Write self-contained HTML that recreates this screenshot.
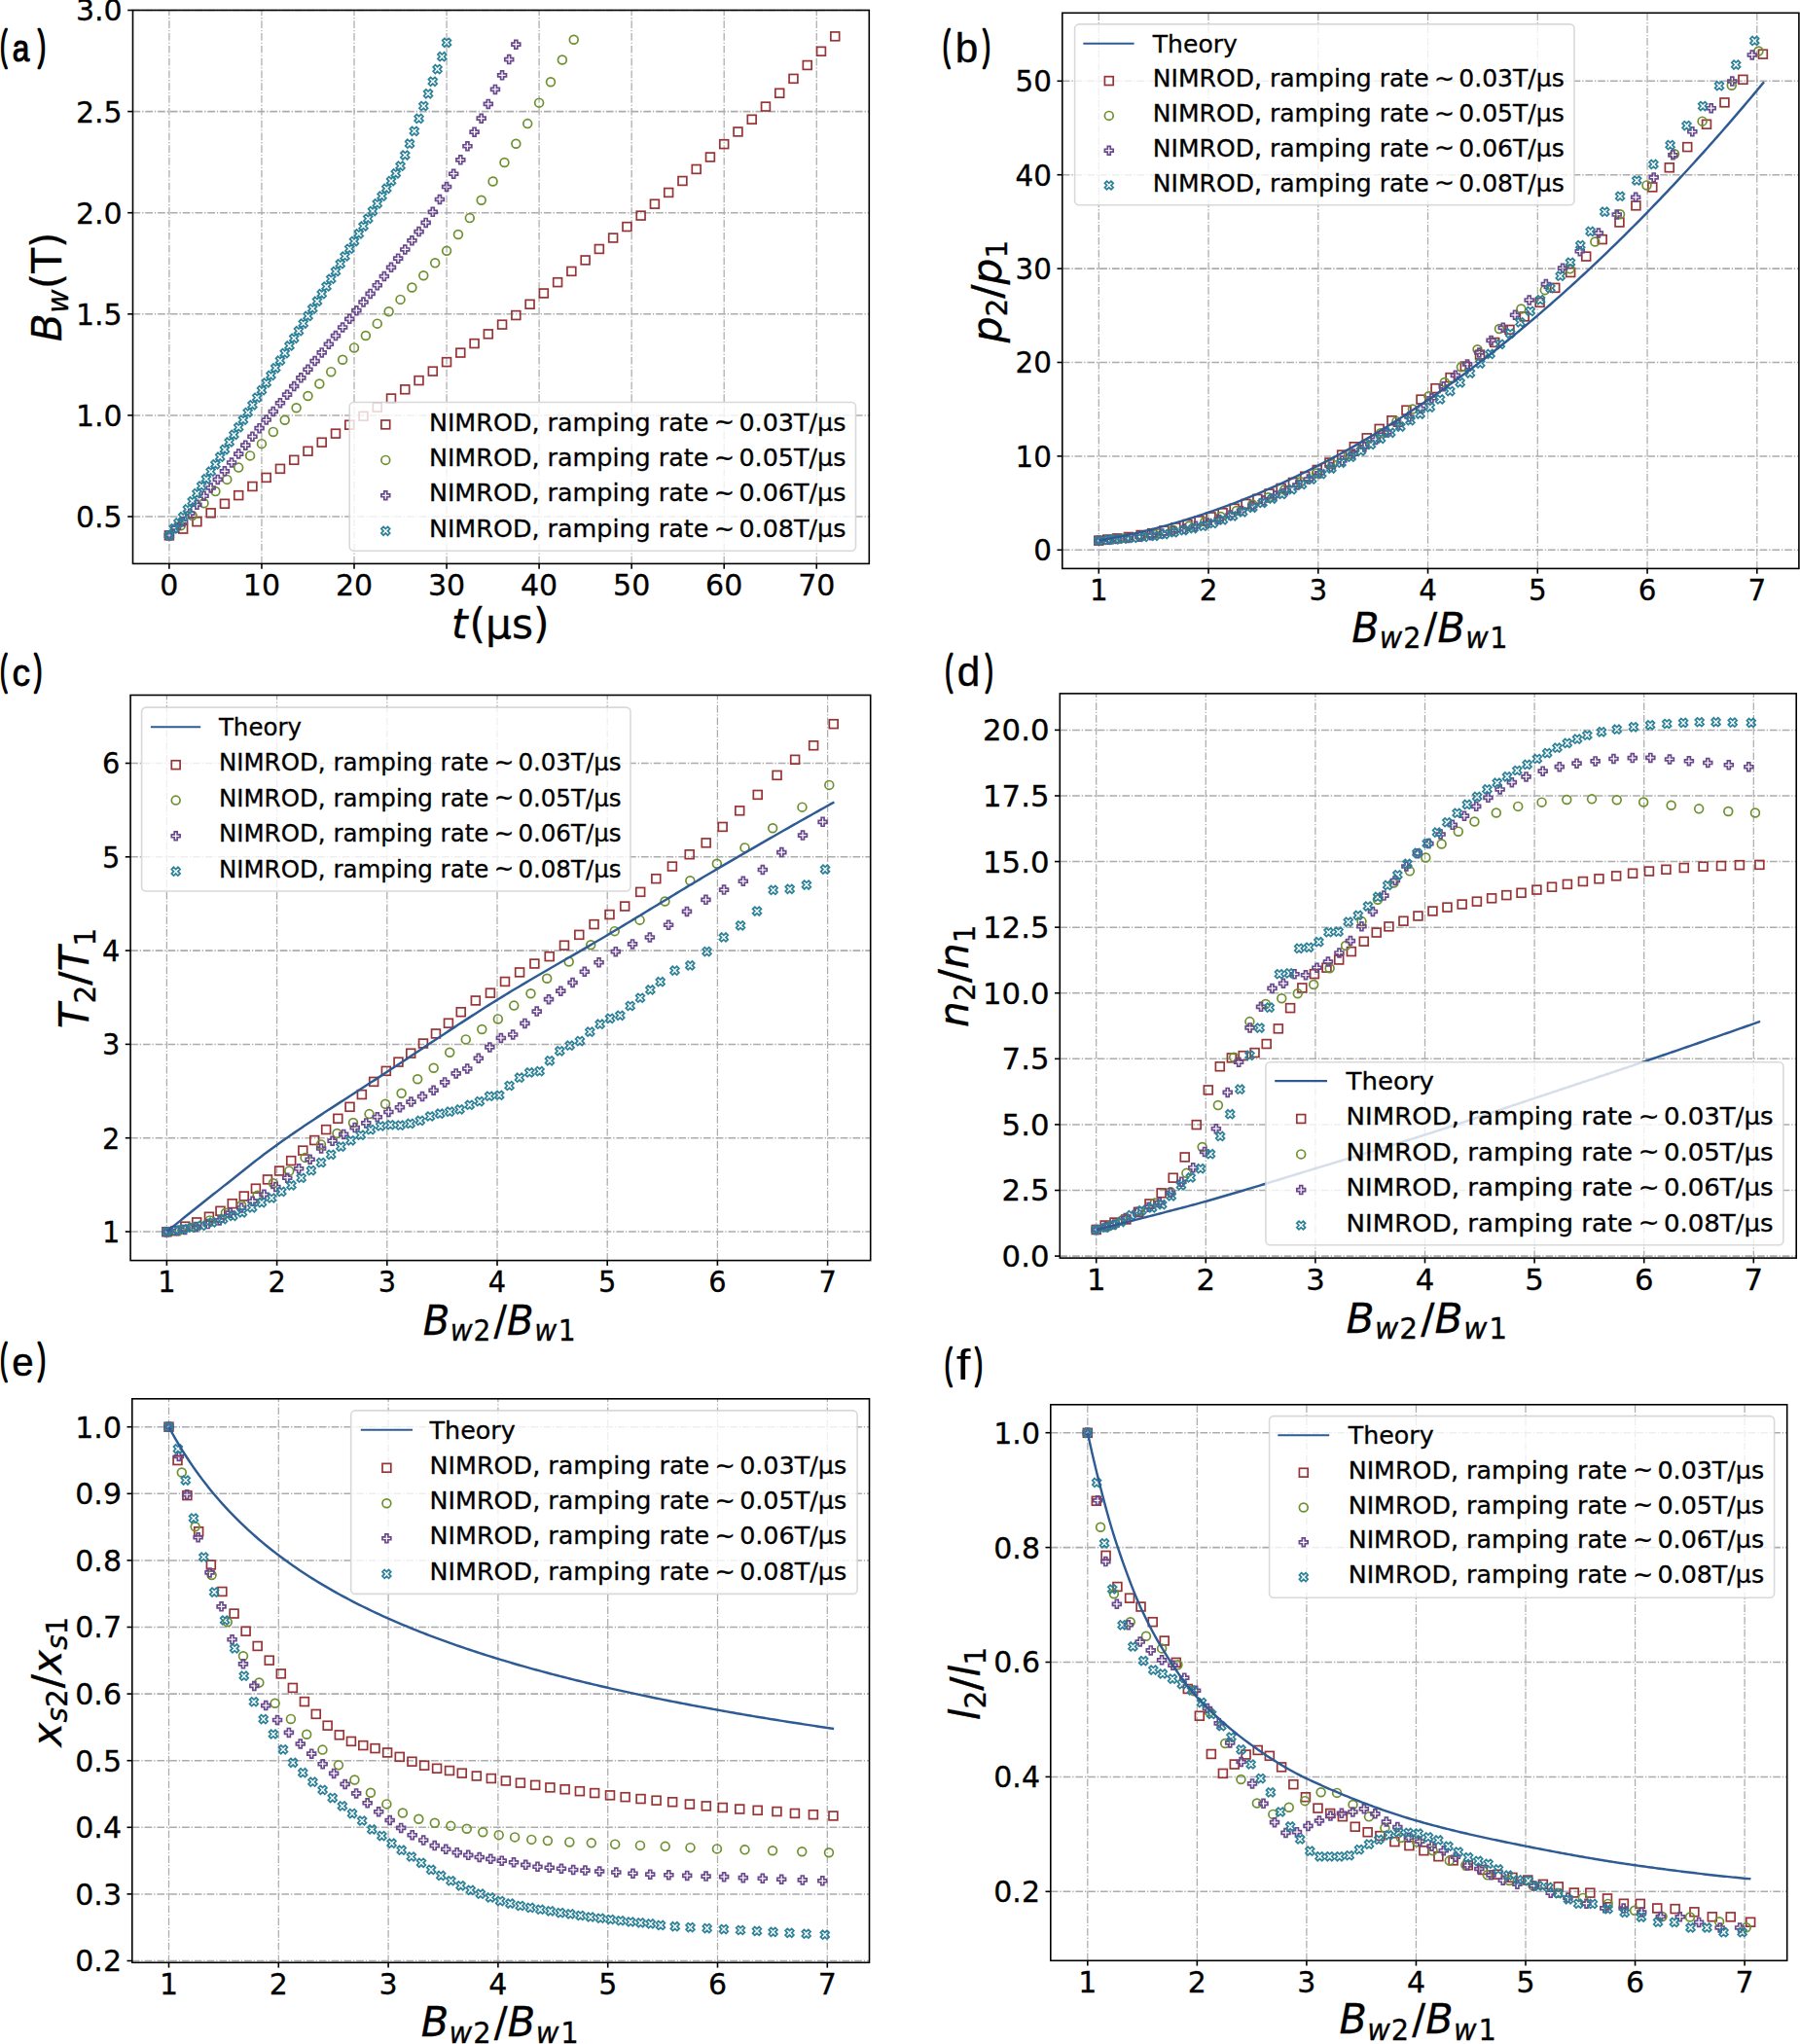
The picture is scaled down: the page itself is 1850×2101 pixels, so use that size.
<!DOCTYPE html><html><head><meta charset="utf-8"><title>Figure</title><style>html,body{margin:0;padding:0;background:#fff}svg{display:block}</style></head><body>
<svg width="1850" height="2101" viewBox="0 0 1850 2101">
<rect width="1850" height="2101" fill="#fff"/>
<clipPath id="cpa"><rect x="136.5" y="10.5" width="756.8" height="568.9"/></clipPath>
<g stroke="#acacac" stroke-dasharray="7.7 1.9 1.3 1.9" fill="none">
<g stroke-width="1.25">
<line x1="173.90" y1="579.4" x2="173.90" y2="10.5"/>
<line x1="268.95" y1="579.4" x2="268.95" y2="10.5"/>
<line x1="364.00" y1="579.4" x2="364.00" y2="10.5"/>
<line x1="459.05" y1="579.4" x2="459.05" y2="10.5"/>
<line x1="554.10" y1="579.4" x2="554.10" y2="10.5"/>
<line x1="649.15" y1="579.4" x2="649.15" y2="10.5"/>
<line x1="744.20" y1="579.4" x2="744.20" y2="10.5"/>
<line x1="839.25" y1="579.4" x2="839.25" y2="10.5"/>
</g>
<g stroke-width="1.55">
<line x1="136.5" y1="531.00" x2="893.3" y2="531.00"/>
<line x1="136.5" y1="426.90" x2="893.3" y2="426.90"/>
<line x1="136.5" y1="322.80" x2="893.3" y2="322.80"/>
<line x1="136.5" y1="218.70" x2="893.3" y2="218.70"/>
<line x1="136.5" y1="114.60" x2="893.3" y2="114.60"/>
<line x1="136.5" y1="10.50" x2="893.3" y2="10.50"/>
</g>
</g>
<g fill="none" stroke="#973435" stroke-width="1.7" stroke-linejoin="miter" clip-path="url(#cpa)">
<rect x="169.50" y="545.96" width="8.80" height="8.80"/>
<rect x="183.76" y="539.20" width="8.80" height="8.80"/>
<rect x="198.02" y="531.81" width="8.80" height="8.80"/>
<rect x="212.27" y="522.91" width="8.80" height="8.80"/>
<rect x="226.53" y="513.38" width="8.80" height="8.80"/>
<rect x="240.79" y="504.74" width="8.80" height="8.80"/>
<rect x="255.04" y="495.58" width="8.80" height="8.80"/>
<rect x="269.30" y="486.52" width="8.80" height="8.80"/>
<rect x="283.56" y="477.46" width="8.80" height="8.80"/>
<rect x="297.82" y="468.41" width="8.80" height="8.80"/>
<rect x="312.08" y="459.35" width="8.80" height="8.80"/>
<rect x="326.33" y="450.29" width="8.80" height="8.80"/>
<rect x="340.59" y="441.24" width="8.80" height="8.80"/>
<rect x="354.85" y="432.32" width="8.80" height="8.80"/>
<rect x="369.11" y="423.40" width="8.80" height="8.80"/>
<rect x="383.36" y="414.27" width="8.80" height="8.80"/>
<rect x="397.62" y="405.14" width="8.80" height="8.80"/>
<rect x="411.88" y="395.91" width="8.80" height="8.80"/>
<rect x="426.14" y="386.69" width="8.80" height="8.80"/>
<rect x="440.39" y="377.22" width="8.80" height="8.80"/>
<rect x="454.65" y="367.74" width="8.80" height="8.80"/>
<rect x="468.91" y="358.21" width="8.80" height="8.80"/>
<rect x="483.17" y="348.67" width="8.80" height="8.80"/>
<rect x="497.42" y="338.95" width="8.80" height="8.80"/>
<rect x="511.68" y="329.23" width="8.80" height="8.80"/>
<rect x="525.94" y="319.65" width="8.80" height="8.80"/>
<rect x="540.20" y="308.35" width="8.80" height="8.80"/>
<rect x="554.45" y="297.06" width="8.80" height="8.80"/>
<rect x="568.71" y="285.76" width="8.80" height="8.80"/>
<rect x="582.97" y="274.47" width="8.80" height="8.80"/>
<rect x="597.23" y="263.02" width="8.80" height="8.80"/>
<rect x="611.48" y="251.57" width="8.80" height="8.80"/>
<rect x="625.74" y="240.12" width="8.80" height="8.80"/>
<rect x="640.00" y="228.67" width="8.80" height="8.80"/>
<rect x="654.26" y="217.21" width="8.80" height="8.80"/>
<rect x="668.51" y="205.28" width="8.80" height="8.80"/>
<rect x="682.77" y="193.54" width="8.80" height="8.80"/>
<rect x="697.03" y="181.57" width="8.80" height="8.80"/>
<rect x="711.29" y="169.52" width="8.80" height="8.80"/>
<rect x="725.54" y="157.09" width="8.80" height="8.80"/>
<rect x="739.80" y="143.76" width="8.80" height="8.80"/>
<rect x="754.06" y="131.04" width="8.80" height="8.80"/>
<rect x="768.32" y="118.32" width="8.80" height="8.80"/>
<rect x="782.57" y="105.18" width="8.80" height="8.80"/>
<rect x="796.83" y="91.34" width="8.80" height="8.80"/>
<rect x="811.09" y="76.47" width="8.80" height="8.80"/>
<rect x="825.35" y="62.61" width="8.80" height="8.80"/>
<rect x="839.60" y="48.36" width="8.80" height="8.80"/>
<rect x="853.86" y="32.96" width="8.80" height="8.80"/>
</g>
<g fill="none" stroke="#6e9031" stroke-width="1.7" stroke-linejoin="miter" clip-path="url(#cpa)">
<circle cx="173.90" cy="550.36" r="4.40"/>
<circle cx="185.78" cy="540.37" r="4.40"/>
<circle cx="197.66" cy="529.96" r="4.40"/>
<circle cx="209.54" cy="517.26" r="4.40"/>
<circle cx="221.43" cy="505.08" r="4.40"/>
<circle cx="233.31" cy="492.90" r="4.40"/>
<circle cx="245.19" cy="480.62" r="4.40"/>
<circle cx="257.07" cy="468.38" r="4.40"/>
<circle cx="268.95" cy="456.15" r="4.40"/>
<circle cx="280.83" cy="443.92" r="4.40"/>
<circle cx="292.71" cy="431.69" r="4.40"/>
<circle cx="304.59" cy="419.31" r="4.40"/>
<circle cx="316.48" cy="406.93" r="4.40"/>
<circle cx="328.36" cy="394.55" r="4.40"/>
<circle cx="340.24" cy="382.17" r="4.40"/>
<circle cx="352.12" cy="369.80" r="4.40"/>
<circle cx="364.00" cy="357.42" r="4.40"/>
<circle cx="375.88" cy="345.04" r="4.40"/>
<circle cx="387.76" cy="332.66" r="4.40"/>
<circle cx="399.64" cy="320.28" r="4.40"/>
<circle cx="411.53" cy="307.90" r="4.40"/>
<circle cx="423.41" cy="295.53" r="4.40"/>
<circle cx="435.29" cy="283.24" r="4.40"/>
<circle cx="447.17" cy="270.33" r="4.40"/>
<circle cx="459.05" cy="257.84" r="4.40"/>
<circle cx="470.93" cy="240.98" r="4.40"/>
<circle cx="482.81" cy="224.11" r="4.40"/>
<circle cx="494.69" cy="205.79" r="4.40"/>
<circle cx="506.58" cy="186.43" r="4.40"/>
<circle cx="518.46" cy="167.07" r="4.40"/>
<circle cx="530.34" cy="147.70" r="4.40"/>
<circle cx="542.22" cy="127.09" r="4.40"/>
<circle cx="554.10" cy="105.65" r="4.40"/>
<circle cx="565.98" cy="84.20" r="4.40"/>
<circle cx="577.86" cy="61.51" r="4.40"/>
<circle cx="589.74" cy="40.69" r="4.40"/>
</g>
<g fill="none" stroke="#6a488d" stroke-width="1.7" stroke-linejoin="miter" clip-path="url(#cpa)">
<path d="M172.43 545.96L175.37 545.96L175.37 548.90L178.30 548.90L178.30 551.83L175.37 551.83L175.37 554.76L172.43 554.76L172.43 551.83L169.50 551.83L169.50 548.90L172.43 548.90Z"/>
<path d="M179.56 538.18L182.50 538.18L182.50 541.11L185.43 541.11L185.43 544.04L182.50 544.04L182.50 546.98L179.56 546.98L179.56 544.04L176.63 544.04L176.63 541.11L179.56 541.11Z"/>
<path d="M186.69 531.97L189.62 531.97L189.62 534.90L192.56 534.90L192.56 537.84L189.62 537.84L189.62 540.77L186.69 540.77L186.69 537.84L183.76 537.84L183.76 534.90L186.69 534.90Z"/>
<path d="M193.82 523.33L196.75 523.33L196.75 526.26L199.69 526.26L199.69 529.20L196.75 529.20L196.75 532.13L193.82 532.13L193.82 529.20L190.89 529.20L190.89 526.26L193.82 526.26Z"/>
<path d="M200.95 514.36L203.88 514.36L203.88 517.29L206.82 517.29L206.82 520.22L203.88 520.22L203.88 523.16L200.95 523.16L200.95 520.22L198.02 520.22L198.02 517.29L200.95 517.29Z"/>
<path d="M208.08 505.36L211.01 505.36L211.01 508.30L213.94 508.30L213.94 511.23L211.01 511.23L211.01 514.16L208.08 514.16L208.08 511.23L205.14 511.23L205.14 508.30L208.08 508.30Z"/>
<path d="M215.21 497.08L218.14 497.08L218.14 500.01L221.07 500.01L221.07 502.94L218.14 502.94L218.14 505.88L215.21 505.88L215.21 502.94L212.27 502.94L212.27 500.01L215.21 500.01Z"/>
<path d="M222.33 488.52L225.27 488.52L225.27 491.45L228.20 491.45L228.20 494.39L225.27 494.39L225.27 497.32L222.33 497.32L222.33 494.39L219.40 494.39L219.40 491.45L222.33 491.45Z"/>
<path d="M229.46 479.96L232.40 479.96L232.40 482.90L235.33 482.90L235.33 485.83L232.40 485.83L232.40 488.76L229.46 488.76L229.46 485.83L226.53 485.83L226.53 482.90L229.46 482.90Z"/>
<path d="M236.59 471.06L239.53 471.06L239.53 474.00L242.46 474.00L242.46 476.93L239.53 476.93L239.53 479.86L236.59 479.86L236.59 476.93L233.66 476.93L233.66 474.00L236.59 474.00Z"/>
<path d="M243.72 462.16L246.65 462.16L246.65 465.10L249.59 465.10L249.59 468.03L246.65 468.03L246.65 470.96L243.72 470.96L243.72 468.03L240.79 468.03L240.79 465.10L243.72 465.10Z"/>
<path d="M250.85 453.26L253.78 453.26L253.78 456.19L256.72 456.19L256.72 459.13L253.78 459.13L253.78 462.06L250.85 462.06L250.85 459.13L247.92 459.13L247.92 456.19L250.85 456.19Z"/>
<path d="M257.98 444.36L260.91 444.36L260.91 447.29L263.84 447.29L263.84 450.23L260.91 450.23L260.91 453.16L257.98 453.16L257.98 450.23L255.04 450.23L255.04 447.29L257.98 447.29Z"/>
<path d="M265.11 435.76L268.04 435.76L268.04 438.69L270.97 438.69L270.97 441.62L268.04 441.62L268.04 444.56L265.11 444.56L265.11 441.62L262.17 441.62L262.17 438.69L265.11 438.69Z"/>
<path d="M272.24 427.15L275.17 427.15L275.17 430.08L278.10 430.08L278.10 433.02L275.17 433.02L275.17 435.95L272.24 435.95L272.24 433.02L269.30 433.02L269.30 430.08L272.24 430.08Z"/>
<path d="M279.36 418.54L282.30 418.54L282.30 421.48L285.23 421.48L285.23 424.41L282.30 424.41L282.30 427.34L279.36 427.34L279.36 424.41L276.43 424.41L276.43 421.48L279.36 421.48Z"/>
<path d="M286.49 409.90L289.43 409.90L289.43 412.83L292.36 412.83L292.36 415.76L289.43 415.76L289.43 418.70L286.49 418.70L286.49 415.76L283.56 415.76L283.56 412.83L286.49 412.83Z"/>
<path d="M293.62 401.25L296.56 401.25L296.56 404.18L299.49 404.18L299.49 407.12L296.56 407.12L296.56 410.05L293.62 410.05L293.62 407.12L290.69 407.12L290.69 404.18L293.62 404.18Z"/>
<path d="M300.75 392.60L303.68 392.60L303.68 395.54L306.62 395.54L306.62 398.47L303.68 398.47L303.68 401.40L300.75 401.40L300.75 398.47L297.82 398.47L297.82 395.54L300.75 395.54Z"/>
<path d="M307.88 383.96L310.81 383.96L310.81 386.89L313.75 386.89L313.75 389.82L310.81 389.82L310.81 392.76L307.88 392.76L307.88 389.82L304.95 389.82L304.95 386.89L307.88 386.89Z"/>
<path d="M315.01 375.31L317.94 375.31L317.94 378.24L320.88 378.24L320.88 381.17L317.94 381.17L317.94 384.11L315.01 384.11L315.01 381.17L312.08 381.17L312.08 378.24L315.01 378.24Z"/>
<path d="M322.14 366.66L325.07 366.66L325.07 369.59L328.00 369.59L328.00 372.53L325.07 372.53L325.07 375.46L322.14 375.46L322.14 372.53L319.20 372.53L319.20 369.59L322.14 369.59Z"/>
<path d="M329.27 358.01L332.20 358.01L332.20 360.95L335.13 360.95L335.13 363.88L332.20 363.88L332.20 366.81L329.27 366.81L329.27 363.88L326.33 363.88L326.33 360.95L329.27 360.95Z"/>
<path d="M336.39 349.37L339.33 349.37L339.33 352.30L342.26 352.30L342.26 355.23L339.33 355.23L339.33 358.17L336.39 358.17L336.39 355.23L333.46 355.23L333.46 352.30L336.39 352.30Z"/>
<path d="M343.52 340.72L346.46 340.72L346.46 343.65L349.39 343.65L349.39 346.59L346.46 346.59L346.46 349.52L343.52 349.52L343.52 346.59L340.59 346.59L340.59 343.65L343.52 343.65Z"/>
<path d="M350.65 332.07L353.59 332.07L353.59 335.01L356.52 335.01L356.52 337.94L353.59 337.94L353.59 340.87L350.65 340.87L350.65 337.94L347.72 337.94L347.72 335.01L350.65 335.01Z"/>
<path d="M357.78 323.42L360.71 323.42L360.71 326.36L363.65 326.36L363.65 329.29L360.71 329.29L360.71 332.22L357.78 332.22L357.78 329.29L354.85 329.29L354.85 326.36L357.78 326.36Z"/>
<path d="M364.91 314.78L367.84 314.78L367.84 317.71L370.78 317.71L370.78 320.64L367.84 320.64L367.84 323.58L364.91 323.58L364.91 320.64L361.98 320.64L361.98 317.71L364.91 317.71Z"/>
<path d="M372.04 306.13L374.97 306.13L374.97 309.06L377.90 309.06L377.90 312.00L374.97 312.00L374.97 314.93L372.04 314.93L372.04 312.00L369.11 312.00L369.11 309.06L372.04 309.06Z"/>
<path d="M379.17 297.48L382.10 297.48L382.10 300.42L385.03 300.42L385.03 303.35L382.10 303.35L382.10 306.28L379.17 306.28L379.17 303.35L376.23 303.35L376.23 300.42L379.17 300.42Z"/>
<path d="M386.30 288.84L389.23 288.84L389.23 291.77L392.16 291.77L392.16 294.70L389.23 294.70L389.23 297.64L386.30 297.64L386.30 294.70L383.36 294.70L383.36 291.77L386.30 291.77Z"/>
<path d="M393.42 279.65L396.36 279.65L396.36 282.58L399.29 282.58L399.29 285.51L396.36 285.51L396.36 288.45L393.42 288.45L393.42 285.51L390.49 285.51L390.49 282.58L393.42 282.58Z"/>
<path d="M400.55 270.45L403.49 270.45L403.49 273.39L406.42 273.39L406.42 276.32L403.49 276.32L403.49 279.25L400.55 279.25L400.55 276.32L397.62 276.32L397.62 273.39L400.55 273.39Z"/>
<path d="M407.68 261.26L410.62 261.26L410.62 264.20L413.55 264.20L413.55 267.13L410.62 267.13L410.62 270.06L407.68 270.06L407.68 267.13L404.75 267.13L404.75 264.20L407.68 264.20Z"/>
<path d="M414.81 252.07L417.74 252.07L417.74 255.01L420.68 255.01L420.68 257.94L417.74 257.94L417.74 260.87L414.81 260.87L414.81 257.94L411.88 257.94L411.88 255.01L414.81 255.01Z"/>
<path d="M421.94 242.88L424.87 242.88L424.87 245.82L427.81 245.82L427.81 248.75L424.87 248.75L424.87 251.68L421.94 251.68L421.94 248.75L419.01 248.75L419.01 245.82L421.94 245.82Z"/>
<path d="M429.07 233.69L432.00 233.69L432.00 236.63L434.94 236.63L434.94 239.56L432.00 239.56L432.00 242.49L429.07 242.49L429.07 239.56L426.14 239.56L426.14 236.63L429.07 236.63Z"/>
<path d="M436.20 224.50L439.13 224.50L439.13 227.44L442.06 227.44L442.06 230.37L439.13 230.37L439.13 233.30L436.20 233.30L436.20 230.37L433.26 230.37L433.26 227.44L436.20 227.44Z"/>
<path d="M443.33 213.47L446.26 213.47L446.26 216.40L449.19 216.40L449.19 219.33L446.26 219.33L446.26 222.27L443.33 222.27L443.33 219.33L440.39 219.33L440.39 216.40L443.33 216.40Z"/>
<path d="M450.45 200.56L453.39 200.56L453.39 203.49L456.32 203.49L456.32 206.43L453.39 206.43L453.39 209.36L450.45 209.36L450.45 206.43L447.52 206.43L447.52 203.49L450.45 203.49Z"/>
<path d="M457.58 187.65L460.52 187.65L460.52 190.58L463.45 190.58L463.45 193.52L460.52 193.52L460.52 196.45L457.58 196.45L457.58 193.52L454.65 193.52L454.65 190.58L457.58 190.58Z"/>
<path d="M464.71 174.33L467.65 174.33L467.65 177.26L470.58 177.26L470.58 180.19L467.65 180.19L467.65 183.13L464.71 183.13L464.71 180.19L461.78 180.19L461.78 177.26L464.71 177.26Z"/>
<path d="M471.84 159.96L474.77 159.96L474.77 162.89L477.71 162.89L477.71 165.83L474.77 165.83L474.77 168.76L471.84 168.76L471.84 165.83L468.91 165.83L468.91 162.89L471.84 162.89Z"/>
<path d="M478.97 145.80L481.90 145.80L481.90 148.74L484.84 148.74L484.84 151.67L481.90 151.67L481.90 154.60L478.97 154.60L478.97 151.67L476.04 151.67L476.04 148.74L478.97 148.74Z"/>
<path d="M486.10 131.23L489.03 131.23L489.03 134.16L491.97 134.16L491.97 137.09L489.03 137.09L489.03 140.03L486.10 140.03L486.10 137.09L483.17 137.09L483.17 134.16L486.10 134.16Z"/>
<path d="M493.23 117.28L496.16 117.28L496.16 120.21L499.09 120.21L499.09 123.15L496.16 123.15L496.16 126.08L493.23 126.08L493.23 123.15L490.29 123.15L490.29 120.21L493.23 120.21Z"/>
<path d="M500.36 102.50L503.29 102.50L503.29 105.43L506.22 105.43L506.22 108.36L503.29 108.36L503.29 111.30L500.36 111.30L500.36 108.36L497.42 108.36L497.42 105.43L500.36 105.43Z"/>
<path d="M507.48 87.51L510.42 87.51L510.42 90.44L513.35 90.44L513.35 93.37L510.42 93.37L510.42 96.31L507.48 96.31L507.48 93.37L504.55 93.37L504.55 90.44L507.48 90.44Z"/>
<path d="M514.61 72.93L517.55 72.93L517.55 75.87L520.48 75.87L520.48 78.80L517.55 78.80L517.55 81.73L514.61 81.73L514.61 78.80L511.68 78.80L511.68 75.87L514.61 75.87Z"/>
<path d="M521.74 56.69L524.68 56.69L524.68 59.63L527.61 59.63L527.61 62.56L524.68 62.56L524.68 65.49L521.74 65.49L521.74 62.56L518.81 62.56L518.81 59.63L521.74 59.63Z"/>
<path d="M528.87 41.29L531.80 41.29L531.80 44.22L534.74 44.22L534.74 47.15L531.80 47.15L531.80 50.09L528.87 50.09L528.87 47.15L525.94 47.15L525.94 44.22L528.87 44.22Z"/>
</g>
<g fill="none" stroke="#2b8198" stroke-width="1.7" stroke-linejoin="miter" clip-path="url(#cpa)">
<path d="M171.70 545.96L173.90 548.16L176.10 545.96L178.30 548.16L176.10 550.36L178.30 552.56L176.10 554.76L173.90 552.56L171.70 554.76L169.50 552.56L171.70 550.36L169.50 548.16Z"/>
<path d="M176.45 538.93L178.65 541.13L180.85 538.93L183.05 541.13L180.85 543.33L183.05 545.53L180.85 547.73L178.65 545.53L176.45 547.73L174.25 545.53L176.45 543.33L174.25 541.13Z"/>
<path d="M181.21 532.99L183.41 535.19L185.60 532.99L187.81 535.19L185.60 537.39L187.81 539.59L185.60 541.79L183.41 539.59L181.21 541.79L179.00 539.59L181.21 537.39L179.00 535.19Z"/>
<path d="M185.96 526.81L188.16 529.01L190.36 526.81L192.56 529.01L190.36 531.21L192.56 533.41L190.36 535.61L188.16 533.41L185.96 535.61L183.76 533.41L185.96 531.21L183.76 529.01Z"/>
<path d="M190.71 519.02L192.91 521.22L195.11 519.02L197.31 521.22L195.11 523.42L197.31 525.62L195.11 527.82L192.91 525.62L190.71 527.82L188.51 525.62L190.71 523.42L188.51 521.22Z"/>
<path d="M195.46 510.88L197.66 513.08L199.86 510.88L202.06 513.08L199.86 515.28L202.06 517.48L199.86 519.68L197.66 517.48L195.46 519.68L193.26 517.48L195.46 515.28L193.26 513.08Z"/>
<path d="M200.22 502.74L202.42 504.94L204.62 502.74L206.82 504.94L204.62 507.14L206.82 509.34L204.62 511.54L202.42 509.34L200.22 511.54L198.02 509.34L200.22 507.14L198.02 504.94Z"/>
<path d="M204.97 495.12L207.17 497.32L209.37 495.12L211.57 497.32L209.37 499.52L211.57 501.72L209.37 503.92L207.17 501.72L204.97 503.92L202.77 501.72L204.97 499.52L202.77 497.32Z"/>
<path d="M209.72 487.92L211.92 490.12L214.12 487.92L216.32 490.12L214.12 492.32L216.32 494.52L214.12 496.72L211.92 494.52L209.72 496.72L207.52 494.52L209.72 492.32L207.52 490.12Z"/>
<path d="M214.47 480.30L216.67 482.50L218.87 480.30L221.07 482.50L218.87 484.70L221.07 486.90L218.87 489.10L216.67 486.90L214.47 489.10L212.27 486.90L214.47 484.70L212.27 482.50Z"/>
<path d="M219.23 472.93L221.43 475.13L223.62 472.93L225.83 475.13L223.62 477.33L225.83 479.53L223.62 481.73L221.43 479.53L219.23 481.73L217.03 479.53L219.23 477.33L217.03 475.13Z"/>
<path d="M223.98 465.31L226.18 467.51L228.38 465.31L230.58 467.51L228.38 469.71L230.58 471.91L228.38 474.11L226.18 471.91L223.98 474.11L221.78 471.91L223.98 469.71L221.78 467.51Z"/>
<path d="M228.73 457.69L230.93 459.89L233.13 457.69L235.33 459.89L233.13 462.09L235.33 464.29L233.13 466.49L230.93 464.29L228.73 466.49L226.53 464.29L228.73 462.09L226.53 459.89Z"/>
<path d="M233.48 450.07L235.68 452.27L237.88 450.07L240.08 452.27L237.88 454.47L240.08 456.67L237.88 458.87L235.68 456.67L233.48 458.87L231.28 456.67L233.48 454.47L231.28 452.27Z"/>
<path d="M238.24 442.45L240.44 444.65L242.63 442.45L244.84 444.65L242.63 446.85L244.84 449.05L242.63 451.25L240.44 449.05L238.24 451.25L236.03 449.05L238.24 446.85L236.03 444.65Z"/>
<path d="M242.99 434.83L245.19 437.03L247.39 434.83L249.59 437.03L247.39 439.23L249.59 441.43L247.39 443.63L245.19 441.43L242.99 443.63L240.79 441.43L242.99 439.23L240.79 437.03Z"/>
<path d="M247.74 427.21L249.94 429.41L252.14 427.21L254.34 429.41L252.14 431.61L254.34 433.81L252.14 436.01L249.94 433.81L247.74 436.01L245.54 433.81L247.74 431.61L245.54 429.41Z"/>
<path d="M252.49 419.59L254.69 421.79L256.89 419.59L259.09 421.79L256.89 423.99L259.09 426.19L256.89 428.39L254.69 426.19L252.49 428.39L250.29 426.19L252.49 423.99L250.29 421.79Z"/>
<path d="M257.25 411.97L259.44 414.17L261.64 411.97L263.84 414.17L261.64 416.37L263.84 418.57L261.64 420.77L259.44 418.57L257.25 420.77L255.04 418.57L257.25 416.37L255.04 414.17Z"/>
<path d="M262.00 404.35L264.20 406.55L266.40 404.35L268.60 406.55L266.40 408.75L268.60 410.95L266.40 413.15L264.20 410.95L262.00 413.15L259.80 410.95L262.00 408.75L259.80 406.55Z"/>
<path d="M266.75 396.73L268.95 398.93L271.15 396.73L273.35 398.93L271.15 401.13L273.35 403.33L271.15 405.53L268.95 403.33L266.75 405.53L264.55 403.33L266.75 401.13L264.55 398.93Z"/>
<path d="M271.50 389.11L273.70 391.31L275.90 389.11L278.10 391.31L275.90 393.51L278.10 395.71L275.90 397.91L273.70 395.71L271.50 397.91L269.30 395.71L271.50 393.51L269.30 391.31Z"/>
<path d="M276.26 381.50L278.46 383.70L280.66 381.50L282.86 383.70L280.66 385.90L282.86 388.10L280.66 390.30L278.46 388.10L276.26 390.30L274.06 388.10L276.26 385.90L274.06 383.70Z"/>
<path d="M281.01 373.88L283.21 376.08L285.41 373.88L287.61 376.08L285.41 378.28L287.61 380.48L285.41 382.68L283.21 380.48L281.01 382.68L278.81 380.48L281.01 378.28L278.81 376.08Z"/>
<path d="M285.76 366.26L287.96 368.46L290.16 366.26L292.36 368.46L290.16 370.66L292.36 372.86L290.16 375.06L287.96 372.86L285.76 375.06L283.56 372.86L285.76 370.66L283.56 368.46Z"/>
<path d="M290.51 358.64L292.71 360.84L294.91 358.64L297.11 360.84L294.91 363.04L297.11 365.24L294.91 367.44L292.71 365.24L290.51 367.44L288.31 365.24L290.51 363.04L288.31 360.84Z"/>
<path d="M295.27 351.03L297.47 353.23L299.67 351.03L301.87 353.23L299.67 355.43L301.87 357.63L299.67 359.83L297.47 357.63L295.27 359.83L293.07 357.63L295.27 355.43L293.07 353.23Z"/>
<path d="M300.02 343.41L302.22 345.61L304.42 343.41L306.62 345.61L304.42 347.81L306.62 350.01L304.42 352.21L302.22 350.01L300.02 352.21L297.82 350.01L300.02 347.81L297.82 345.61Z"/>
<path d="M304.77 335.79L306.97 337.99L309.17 335.79L311.37 337.99L309.17 340.19L311.37 342.39L309.17 344.59L306.97 342.39L304.77 344.59L302.57 342.39L304.77 340.19L302.57 337.99Z"/>
<path d="M309.52 328.17L311.72 330.37L313.92 328.17L316.12 330.37L313.92 332.57L316.12 334.77L313.92 336.97L311.72 334.77L309.52 336.97L307.32 334.77L309.52 332.57L307.32 330.37Z"/>
<path d="M314.28 320.56L316.48 322.76L318.68 320.56L320.88 322.76L318.68 324.96L320.88 327.16L318.68 329.36L316.48 327.16L314.28 329.36L312.08 327.16L314.28 324.96L312.08 322.76Z"/>
<path d="M319.03 312.94L321.23 315.14L323.43 312.94L325.63 315.14L323.43 317.34L325.63 319.54L323.43 321.74L321.23 319.54L319.03 321.74L316.83 319.54L319.03 317.34L316.83 315.14Z"/>
<path d="M323.78 305.32L325.98 307.52L328.18 305.32L330.38 307.52L328.18 309.72L330.38 311.92L328.18 314.12L325.98 311.92L323.78 314.12L321.58 311.92L323.78 309.72L321.58 307.52Z"/>
<path d="M328.53 297.70L330.73 299.90L332.93 297.70L335.13 299.90L332.93 302.10L335.13 304.30L332.93 306.50L330.73 304.30L328.53 306.50L326.33 304.30L328.53 302.10L326.33 299.90Z"/>
<path d="M333.29 290.08L335.49 292.28L337.69 290.08L339.88 292.28L337.69 294.48L339.88 296.68L337.69 298.88L335.49 296.68L333.29 298.88L331.09 296.68L333.29 294.48L331.09 292.28Z"/>
<path d="M338.04 282.34L340.24 284.54L342.44 282.34L344.64 284.54L342.44 286.74L344.64 288.94L342.44 291.14L340.24 288.94L338.04 291.14L335.84 288.94L338.04 286.74L335.84 284.54Z"/>
<path d="M342.79 274.60L344.99 276.80L347.19 274.60L349.39 276.80L347.19 279.00L349.39 281.20L347.19 283.40L344.99 281.20L342.79 283.40L340.59 281.20L342.79 279.00L340.59 276.80Z"/>
<path d="M347.54 266.86L349.74 269.06L351.94 266.86L354.14 269.06L351.94 271.26L354.14 273.46L351.94 275.66L349.74 273.46L347.54 275.66L345.34 273.46L347.54 271.26L345.34 269.06Z"/>
<path d="M352.30 259.12L354.50 261.32L356.69 259.12L358.89 261.32L356.69 263.52L358.89 265.72L356.69 267.92L354.50 265.72L352.30 267.92L350.10 265.72L352.30 263.52L350.10 261.32Z"/>
<path d="M357.05 251.37L359.25 253.57L361.45 251.37L363.65 253.57L361.45 255.77L363.65 257.97L361.45 260.17L359.25 257.97L357.05 260.17L354.85 257.97L357.05 255.77L354.85 253.57Z"/>
<path d="M361.80 243.63L364.00 245.83L366.20 243.63L368.40 245.83L366.20 248.03L368.40 250.23L366.20 252.43L364.00 250.23L361.80 252.43L359.60 250.23L361.80 248.03L359.60 245.83Z"/>
<path d="M366.55 235.89L368.75 238.09L370.95 235.89L373.15 238.09L370.95 240.29L373.15 242.49L370.95 244.69L368.75 242.49L366.55 244.69L364.35 242.49L366.55 240.29L364.35 238.09Z"/>
<path d="M371.31 228.15L373.50 230.35L375.70 228.15L377.90 230.35L375.70 232.55L377.90 234.75L375.70 236.95L373.50 234.75L371.31 236.95L369.11 234.75L371.31 232.55L369.11 230.35Z"/>
<path d="M376.06 220.40L378.26 222.60L380.46 220.40L382.66 222.60L380.46 224.80L382.66 227.00L380.46 229.20L378.26 227.00L376.06 229.20L373.86 227.00L376.06 224.80L373.86 222.60Z"/>
<path d="M380.81 212.66L383.01 214.86L385.21 212.66L387.41 214.86L385.21 217.06L387.41 219.26L385.21 221.46L383.01 219.26L380.81 221.46L378.61 219.26L380.81 217.06L378.61 214.86Z"/>
<path d="M385.56 204.92L387.76 207.12L389.96 204.92L392.16 207.12L389.96 209.32L392.16 211.52L389.96 213.72L387.76 211.52L385.56 213.72L383.36 211.52L385.56 209.32L383.36 207.12Z"/>
<path d="M390.31 197.18L392.51 199.38L394.71 197.18L396.91 199.38L394.71 201.58L396.91 203.78L394.71 205.98L392.51 203.78L390.31 205.98L388.12 203.78L390.31 201.58L388.12 199.38Z"/>
<path d="M395.07 189.43L397.27 191.63L399.47 189.43L401.67 191.63L399.47 193.83L401.67 196.03L399.47 198.23L397.27 196.03L395.07 198.23L392.87 196.03L395.07 193.83L392.87 191.63Z"/>
<path d="M399.82 181.69L402.02 183.89L404.22 181.69L406.42 183.89L404.22 186.09L406.42 188.29L404.22 190.49L402.02 188.29L399.82 190.49L397.62 188.29L399.82 186.09L397.62 183.89Z"/>
<path d="M404.57 173.95L406.77 176.15L408.97 173.95L411.17 176.15L408.97 178.35L411.17 180.55L408.97 182.75L406.77 180.55L404.57 182.75L402.37 180.55L404.57 178.35L402.37 176.15Z"/>
<path d="M409.33 166.21L411.53 168.41L413.73 166.21L415.93 168.41L413.73 170.61L415.93 172.81L413.73 175.01L411.53 172.81L409.33 175.01L407.13 172.81L409.33 170.61L407.13 168.41Z"/>
<path d="M414.08 155.17L416.28 157.37L418.48 155.17L420.68 157.37L418.48 159.57L420.68 161.77L418.48 163.97L416.28 161.77L414.08 163.97L411.88 161.77L414.08 159.57L411.88 157.37Z"/>
<path d="M418.83 143.30L421.03 145.50L423.23 143.30L425.43 145.50L423.23 147.70L425.43 149.90L423.23 152.10L421.03 149.90L418.83 152.10L416.63 149.90L418.83 147.70L416.63 145.50Z"/>
<path d="M423.58 130.40L425.78 132.60L427.98 130.40L430.18 132.60L427.98 134.80L430.18 137.00L427.98 139.20L425.78 137.00L423.58 139.20L421.38 137.00L423.58 134.80L421.38 132.60Z"/>
<path d="M428.34 117.49L430.54 119.69L432.74 117.49L434.94 119.69L432.74 121.89L434.94 124.09L432.74 126.29L430.54 124.09L428.34 126.29L426.14 124.09L428.34 121.89L426.14 119.69Z"/>
<path d="M433.09 104.58L435.29 106.78L437.49 104.58L439.69 106.78L437.49 108.98L439.69 111.18L437.49 113.38L435.29 111.18L433.09 113.38L430.89 111.18L433.09 108.98L430.89 106.78Z"/>
<path d="M437.84 91.88L440.04 94.08L442.24 91.88L444.44 94.08L442.24 96.28L444.44 98.48L442.24 100.68L440.04 98.48L437.84 100.68L435.64 98.48L437.84 96.28L435.64 94.08Z"/>
<path d="M442.59 79.39L444.79 81.59L446.99 79.39L449.19 81.59L446.99 83.79L449.19 85.99L446.99 88.19L444.79 85.99L442.59 88.19L440.39 85.99L442.59 83.79L440.39 81.59Z"/>
<path d="M447.35 66.69L449.55 68.89L451.75 66.69L453.95 68.89L451.75 71.09L453.95 73.29L451.75 75.49L449.55 73.29L447.35 75.49L445.15 73.29L447.35 71.09L445.15 68.89Z"/>
<path d="M452.10 53.78L454.30 55.98L456.50 53.78L458.70 55.98L456.50 58.18L458.70 60.38L456.50 62.58L454.30 60.38L452.10 62.58L449.90 60.38L452.10 58.18L449.90 55.98Z"/>
<path d="M456.85 39.41L459.05 41.61L461.25 39.41L463.45 41.61L461.25 43.81L463.45 46.01L461.25 48.21L459.05 46.01L456.85 48.21L454.65 46.01L456.85 43.81L454.65 41.61Z"/>
</g>
<g stroke="#000" stroke-width="1.6" fill="none">
<line x1="173.90" y1="579.4" x2="173.90" y2="584.6999999999999"/>
<line x1="268.95" y1="579.4" x2="268.95" y2="584.6999999999999"/>
<line x1="364.00" y1="579.4" x2="364.00" y2="584.6999999999999"/>
<line x1="459.05" y1="579.4" x2="459.05" y2="584.6999999999999"/>
<line x1="554.10" y1="579.4" x2="554.10" y2="584.6999999999999"/>
<line x1="649.15" y1="579.4" x2="649.15" y2="584.6999999999999"/>
<line x1="744.20" y1="579.4" x2="744.20" y2="584.6999999999999"/>
<line x1="839.25" y1="579.4" x2="839.25" y2="584.6999999999999"/>
<line x1="136.5" y1="531.00" x2="131.2" y2="531.00"/>
<line x1="136.5" y1="426.90" x2="131.2" y2="426.90"/>
<line x1="136.5" y1="322.80" x2="131.2" y2="322.80"/>
<line x1="136.5" y1="218.70" x2="131.2" y2="218.70"/>
<line x1="136.5" y1="114.60" x2="131.2" y2="114.60"/>
<line x1="136.5" y1="10.50" x2="131.2" y2="10.50"/>
<rect x="136.5" y="10.5" width="756.8" height="568.9"/>
</g>
<g font-family="'DejaVu Sans','Liberation Sans',sans-serif" font-size="30.0" fill="#000" stroke="#000" stroke-width="0.3">
<text transform="translate(173.90,611.90) scale(1.0,1)" text-anchor="middle">0</text>
<text transform="translate(268.95,611.90) scale(1.0,1)" text-anchor="middle">10</text>
<text transform="translate(364.00,611.90) scale(1.0,1)" text-anchor="middle">20</text>
<text transform="translate(459.05,611.90) scale(1.0,1)" text-anchor="middle">30</text>
<text transform="translate(554.10,611.90) scale(1.0,1)" text-anchor="middle">40</text>
<text transform="translate(649.15,611.90) scale(1.0,1)" text-anchor="middle">50</text>
<text transform="translate(744.20,611.90) scale(1.0,1)" text-anchor="middle">60</text>
<text transform="translate(839.25,611.90) scale(1.0,1)" text-anchor="middle">70</text>
<text transform="translate(125.70,541.93) scale(1.0,1)" text-anchor="end">0.5</text>
<text transform="translate(125.70,437.83) scale(1.0,1)" text-anchor="end">1.0</text>
<text transform="translate(125.70,333.74) scale(1.0,1)" text-anchor="end">1.5</text>
<text transform="translate(125.70,229.64) scale(1.0,1)" text-anchor="end">2.0</text>
<text transform="translate(125.70,125.54) scale(1.0,1)" text-anchor="end">2.5</text>
<text transform="translate(125.70,21.44) scale(1.0,1)" text-anchor="end">3.0</text>
</g>
<rect x="359.2" y="413.5" width="520.3" height="152.8" rx="4.5" fill="#fff" fill-opacity="0.8" stroke="#d2d2d2" stroke-opacity="0.85" stroke-width="1.6"/>
<g fill="none" stroke="#973435" stroke-width="1.7"><rect x="391.90" y="432.00" width="8.80" height="8.80"/></g>
<text x="440.9" y="442.50" font-family="'DejaVu Sans','Liberation Sans',sans-serif" font-size="25.4" stroke="#000" stroke-width="0.3">NIMROD, ramping rate<tspan dx="5.50" dy="-0.40">∼</tspan><tspan dx="4.30" dy="0.40">0.03T/μs</tspan></text>
<g fill="none" stroke="#6e9031" stroke-width="1.7"><circle cx="396.30" cy="472.90" r="4.40"/></g>
<text x="440.9" y="479.00" font-family="'DejaVu Sans','Liberation Sans',sans-serif" font-size="25.4" stroke="#000" stroke-width="0.3">NIMROD, ramping rate<tspan dx="5.50" dy="-0.40">∼</tspan><tspan dx="4.30" dy="0.40">0.05T/μs</tspan></text>
<g fill="none" stroke="#6a488d" stroke-width="1.7"><path d="M394.83 504.90L397.77 504.90L397.77 507.83L400.70 507.83L400.70 510.77L397.77 510.77L397.77 513.70L394.83 513.70L394.83 510.77L391.90 510.77L391.90 507.83L394.83 507.83Z"/></g>
<text x="440.9" y="515.40" font-family="'DejaVu Sans','Liberation Sans',sans-serif" font-size="25.4" stroke="#000" stroke-width="0.3">NIMROD, ramping rate<tspan dx="5.50" dy="-0.40">∼</tspan><tspan dx="4.30" dy="0.40">0.06T/μs</tspan></text>
<g fill="none" stroke="#2b8198" stroke-width="1.7"><path d="M394.10 541.40L396.30 543.60L398.50 541.40L400.70 543.60L398.50 545.80L400.70 548.00L398.50 550.20L396.30 548.00L394.10 550.20L391.90 548.00L394.10 545.80L391.90 543.60Z"/></g>
<text x="440.9" y="551.90" font-family="'DejaVu Sans','Liberation Sans',sans-serif" font-size="25.4" stroke="#000" stroke-width="0.3">NIMROD, ramping rate<tspan dx="5.50" dy="-0.40">∼</tspan><tspan dx="4.30" dy="0.40">0.08T/μs</tspan></text>
<text x="514.2" y="655.6" text-anchor="middle" font-family="'DejaVu Sans','Liberation Sans',sans-serif" font-size="42.3" stroke="#000" stroke-width="0.3"><tspan font-style="italic" font-size="42.30">t</tspan><tspan font-style="normal" font-size="42.30" dx="2.0">(μs)</tspan></text>
<text transform="translate(63.2,294.8) rotate(-90)" text-anchor="middle" font-family="'DejaVu Sans','Liberation Sans',sans-serif" font-size="42.3" stroke="#000" stroke-width="0.3"><tspan font-style="italic" font-size="42.30">B</tspan><tspan font-style="italic" font-size="29.61" dy="6.6" dx="0.4">w</tspan><tspan font-style="normal" font-size="42.30" dy="-6.6" dx="0.3">(T)</tspan></text>
<text font-family="'Liberation Sans','DejaVu Sans',sans-serif" font-size="44" fill="#000" stroke="#000" stroke-linejoin="round"><tspan x="0.17" y="61.11" font-size="41.96" stroke-width="2.40" textLength="7.16" lengthAdjust="spacingAndGlyphs">(</tspan><tspan x="12.87" y="63.17" font-size="38.85" stroke-width="1.22" textLength="17.52" lengthAdjust="spacingAndGlyphs">a</tspan><tspan x="39.06" y="61.11" font-size="41.96" stroke-width="2.40" textLength="7.92" lengthAdjust="spacingAndGlyphs">)</tspan></text>
<clipPath id="cpb"><rect x="1091.8" y="13.3" width="757.1000000000001" height="571.1"/></clipPath>
<g stroke="#acacac" stroke-dasharray="7.7 1.9 1.3 1.9" fill="none">
<g stroke-width="1.25">
<line x1="1129.30" y1="584.4" x2="1129.30" y2="13.3"/>
<line x1="1242.05" y1="584.4" x2="1242.05" y2="13.3"/>
<line x1="1354.80" y1="584.4" x2="1354.80" y2="13.3"/>
<line x1="1467.55" y1="584.4" x2="1467.55" y2="13.3"/>
<line x1="1580.30" y1="584.4" x2="1580.30" y2="13.3"/>
<line x1="1693.05" y1="584.4" x2="1693.05" y2="13.3"/>
<line x1="1805.80" y1="584.4" x2="1805.80" y2="13.3"/>
</g>
<g stroke-width="1.55">
<line x1="1091.8" y1="565.30" x2="1848.9" y2="565.30"/>
<line x1="1091.8" y1="468.90" x2="1848.9" y2="468.90"/>
<line x1="1091.8" y1="372.50" x2="1848.9" y2="372.50"/>
<line x1="1091.8" y1="276.10" x2="1848.9" y2="276.10"/>
<line x1="1091.8" y1="179.70" x2="1848.9" y2="179.70"/>
<line x1="1091.8" y1="83.30" x2="1848.9" y2="83.30"/>
</g>
</g>
<g fill="none" stroke="#973435" stroke-width="1.7" stroke-linejoin="miter" clip-path="url(#cpb)">
<rect x="1124.90" y="551.26" width="8.80" height="8.80"/>
<rect x="1133.90" y="550.16" width="8.80" height="8.80"/>
<rect x="1143.74" y="549.00" width="8.80" height="8.80"/>
<rect x="1155.57" y="547.57" width="8.80" height="8.80"/>
<rect x="1168.25" y="545.60" width="8.80" height="8.80"/>
<rect x="1179.75" y="543.79" width="8.80" height="8.80"/>
<rect x="1191.94" y="541.03" width="8.80" height="8.80"/>
<rect x="1203.99" y="537.93" width="8.80" height="8.80"/>
<rect x="1216.04" y="534.57" width="8.80" height="8.80"/>
<rect x="1228.09" y="530.94" width="8.80" height="8.80"/>
<rect x="1240.14" y="527.02" width="8.80" height="8.80"/>
<rect x="1252.19" y="522.80" width="8.80" height="8.80"/>
<rect x="1264.24" y="518.28" width="8.80" height="8.80"/>
<rect x="1276.12" y="513.53" width="8.80" height="8.80"/>
<rect x="1287.99" y="508.47" width="8.80" height="8.80"/>
<rect x="1300.13" y="503.08" width="8.80" height="8.80"/>
<rect x="1312.28" y="497.51" width="8.80" height="8.80"/>
<rect x="1324.55" y="491.58" width="8.80" height="8.80"/>
<rect x="1336.83" y="485.33" width="8.80" height="8.80"/>
<rect x="1349.43" y="478.58" width="8.80" height="8.80"/>
<rect x="1362.04" y="471.13" width="8.80" height="8.80"/>
<rect x="1374.72" y="463.20" width="8.80" height="8.80"/>
<rect x="1387.41" y="454.85" width="8.80" height="8.80"/>
<rect x="1400.35" y="445.89" width="8.80" height="8.80"/>
<rect x="1413.29" y="436.47" width="8.80" height="8.80"/>
<rect x="1426.03" y="427.83" width="8.80" height="8.80"/>
<rect x="1441.06" y="417.25" width="8.80" height="8.80"/>
<rect x="1456.09" y="406.21" width="8.80" height="8.80"/>
<rect x="1471.11" y="394.77" width="8.80" height="8.80"/>
<rect x="1486.14" y="383.72" width="8.80" height="8.80"/>
<rect x="1501.38" y="372.14" width="8.80" height="8.80"/>
<rect x="1516.62" y="360.20" width="8.80" height="8.80"/>
<rect x="1531.85" y="347.55" width="8.80" height="8.80"/>
<rect x="1547.09" y="334.48" width="8.80" height="8.80"/>
<rect x="1562.33" y="321.00" width="8.80" height="8.80"/>
<rect x="1578.20" y="306.51" width="8.80" height="8.80"/>
<rect x="1593.82" y="291.46" width="8.80" height="8.80"/>
<rect x="1609.75" y="275.63" width="8.80" height="8.80"/>
<rect x="1625.79" y="259.18" width="8.80" height="8.80"/>
<rect x="1642.33" y="241.69" width="8.80" height="8.80"/>
<rect x="1660.06" y="224.12" width="8.80" height="8.80"/>
<rect x="1676.99" y="206.94" width="8.80" height="8.80"/>
<rect x="1693.91" y="188.01" width="8.80" height="8.80"/>
<rect x="1711.39" y="167.88" width="8.80" height="8.80"/>
<rect x="1729.82" y="146.72" width="8.80" height="8.80"/>
<rect x="1749.60" y="123.36" width="8.80" height="8.80"/>
<rect x="1768.05" y="100.98" width="8.80" height="8.80"/>
<rect x="1786.99" y="77.41" width="8.80" height="8.80"/>
<rect x="1807.49" y="51.24" width="8.80" height="8.80"/>
</g>
<g fill="none" stroke="#6e9031" stroke-width="1.7" stroke-linejoin="miter" clip-path="url(#cpb)">
<circle cx="1129.30" cy="555.66" r="4.40"/>
<circle cx="1142.60" cy="554.28" r="4.40"/>
<circle cx="1156.45" cy="553.03" r="4.40"/>
<circle cx="1173.35" cy="550.85" r="4.40"/>
<circle cx="1189.55" cy="548.44" r="4.40"/>
<circle cx="1205.76" cy="544.82" r="4.40"/>
<circle cx="1222.10" cy="540.76" r="4.40"/>
<circle cx="1238.38" cy="536.29" r="4.40"/>
<circle cx="1254.65" cy="531.00" r="4.40"/>
<circle cx="1270.93" cy="525.01" r="4.40"/>
<circle cx="1287.21" cy="518.41" r="4.40"/>
<circle cx="1303.68" cy="511.19" r="4.40"/>
<circle cx="1320.15" cy="503.58" r="4.40"/>
<circle cx="1336.62" cy="495.34" r="4.40"/>
<circle cx="1353.09" cy="486.44" r="4.40"/>
<circle cx="1369.56" cy="477.09" r="4.40"/>
<circle cx="1386.03" cy="467.11" r="4.40"/>
<circle cx="1402.50" cy="456.46" r="4.40"/>
<circle cx="1418.97" cy="445.13" r="4.40"/>
<circle cx="1435.44" cy="433.13" r="4.40"/>
<circle cx="1451.91" cy="420.57" r="4.40"/>
<circle cx="1468.38" cy="407.27" r="4.40"/>
<circle cx="1484.73" cy="393.06" r="4.40"/>
<circle cx="1501.90" cy="377.24" r="4.40"/>
<circle cx="1518.52" cy="359.30" r="4.40"/>
<circle cx="1540.96" cy="337.99" r="4.40"/>
<circle cx="1563.40" cy="317.44" r="4.40"/>
<circle cx="1587.78" cy="298.14" r="4.40"/>
<circle cx="1613.54" cy="276.33" r="4.40"/>
<circle cx="1639.31" cy="248.54" r="4.40"/>
<circle cx="1665.07" cy="220.22" r="4.40"/>
<circle cx="1692.50" cy="190.42" r="4.40"/>
<circle cx="1721.03" cy="158.19" r="4.40"/>
<circle cx="1749.56" cy="124.65" r="4.40"/>
<circle cx="1779.76" cy="87.71" r="4.40"/>
<circle cx="1807.46" cy="52.53" r="4.40"/>
</g>
<g fill="none" stroke="#6a488d" stroke-width="1.7" stroke-linejoin="miter" clip-path="url(#cpb)">
<path d="M1127.83 551.26L1130.77 551.26L1130.77 554.19L1133.70 554.19L1133.70 557.13L1130.77 557.13L1130.77 560.06L1127.83 560.06L1127.83 557.13L1124.90 557.13L1124.90 554.19L1127.83 554.19Z"/>
<path d="M1138.19 550.25L1141.13 550.25L1141.13 553.19L1144.06 553.19L1144.06 556.12L1141.13 556.12L1141.13 559.05L1138.19 559.05L1138.19 556.12L1135.26 556.12L1135.26 553.19L1138.19 553.19Z"/>
<path d="M1146.45 549.54L1149.38 549.54L1149.38 552.48L1152.32 552.48L1152.32 555.41L1149.38 555.41L1149.38 558.34L1146.45 558.34L1146.45 555.41L1143.52 555.41L1143.52 552.48L1146.45 552.48Z"/>
<path d="M1157.95 548.62L1160.88 548.62L1160.88 551.56L1163.81 551.56L1163.81 554.49L1160.88 554.49L1160.88 557.42L1157.95 557.42L1157.95 554.49L1155.01 554.49L1155.01 551.56L1157.95 551.56Z"/>
<path d="M1169.89 547.26L1172.82 547.26L1172.82 550.19L1175.75 550.19L1175.75 553.12L1172.82 553.12L1172.82 556.06L1169.89 556.06L1169.89 553.12L1166.95 553.12L1166.95 550.19L1169.89 550.19Z"/>
<path d="M1181.85 545.96L1184.79 545.96L1184.79 548.89L1187.72 548.89L1187.72 551.83L1184.79 551.83L1184.79 554.76L1181.85 554.76L1181.85 551.83L1178.92 551.83L1178.92 548.89L1181.85 548.89Z"/>
<path d="M1192.88 544.05L1195.81 544.05L1195.81 546.98L1198.75 546.98L1198.75 549.91L1195.81 549.91L1195.81 552.85L1192.88 552.85L1192.88 549.91L1189.95 549.91L1189.95 546.98L1192.88 546.98Z"/>
<path d="M1204.27 541.71L1207.20 541.71L1207.20 544.64L1210.13 544.64L1210.13 547.58L1207.20 547.58L1207.20 550.51L1204.27 550.51L1204.27 547.58L1201.33 547.58L1201.33 544.64L1204.27 544.64Z"/>
<path d="M1215.65 539.21L1218.58 539.21L1218.58 542.14L1221.52 542.14L1221.52 545.07L1218.58 545.07L1218.58 548.01L1215.65 548.01L1215.65 545.07L1212.72 545.07L1212.72 542.14L1215.65 542.14Z"/>
<path d="M1227.49 536.43L1230.43 536.43L1230.43 539.36L1233.36 539.36L1233.36 542.29L1230.43 542.29L1230.43 545.23L1227.49 545.23L1227.49 542.29L1224.56 542.29L1224.56 539.36L1227.49 539.36Z"/>
<path d="M1239.34 533.46L1242.27 533.46L1242.27 536.39L1245.20 536.39L1245.20 539.33L1242.27 539.33L1242.27 542.26L1239.34 542.26L1239.34 539.33L1236.40 539.33L1236.40 536.39L1239.34 536.39Z"/>
<path d="M1251.18 529.51L1254.11 529.51L1254.11 532.45L1257.05 532.45L1257.05 535.38L1254.11 535.38L1254.11 538.31L1251.18 538.31L1251.18 535.38L1248.25 535.38L1248.25 532.45L1251.18 532.45Z"/>
<path d="M1263.02 525.11L1265.96 525.11L1265.96 528.04L1268.89 528.04L1268.89 530.98L1265.96 530.98L1265.96 533.91L1263.02 533.91L1263.02 530.98L1260.09 530.98L1260.09 528.04L1263.02 528.04Z"/>
<path d="M1274.47 520.48L1277.41 520.48L1277.41 523.42L1280.34 523.42L1280.34 526.35L1277.41 526.35L1277.41 529.28L1274.47 529.28L1274.47 526.35L1271.54 526.35L1271.54 523.42L1274.47 523.42Z"/>
<path d="M1285.92 515.48L1288.86 515.48L1288.86 518.41L1291.79 518.41L1291.79 521.35L1288.86 521.35L1288.86 524.28L1285.92 524.28L1285.92 521.35L1282.99 521.35L1282.99 518.41L1285.92 518.41Z"/>
<path d="M1297.37 510.11L1300.31 510.11L1300.31 513.05L1303.24 513.05L1303.24 515.98L1300.31 515.98L1300.31 518.91L1297.37 518.91L1297.37 515.98L1294.44 515.98L1294.44 513.05L1297.37 513.05Z"/>
<path d="M1308.88 505.09L1311.81 505.09L1311.81 508.02L1314.75 508.02L1314.75 510.95L1311.81 510.95L1311.81 513.89L1308.88 513.89L1308.88 510.95L1305.95 510.95L1305.95 508.02L1308.88 508.02Z"/>
<path d="M1320.39 499.77L1323.32 499.77L1323.32 502.70L1326.25 502.70L1326.25 505.63L1323.32 505.63L1323.32 508.57L1320.39 508.57L1320.39 505.63L1317.45 505.63L1317.45 502.70L1320.39 502.70Z"/>
<path d="M1331.89 494.14L1334.82 494.14L1334.82 497.07L1337.76 497.07L1337.76 500.01L1334.82 500.01L1334.82 502.94L1331.89 502.94L1331.89 500.01L1328.96 500.01L1328.96 497.07L1331.89 497.07Z"/>
<path d="M1343.40 488.20L1346.33 488.20L1346.33 491.13L1349.26 491.13L1349.26 494.07L1346.33 494.07L1346.33 497.00L1343.40 497.00L1343.40 494.07L1340.46 494.07L1340.46 491.13L1343.40 491.13Z"/>
<path d="M1354.90 481.98L1357.84 481.98L1357.84 484.91L1360.77 484.91L1360.77 487.85L1357.84 487.85L1357.84 490.78L1354.90 490.78L1354.90 487.85L1351.97 487.85L1351.97 484.91L1354.90 484.91Z"/>
<path d="M1366.41 475.69L1369.34 475.69L1369.34 478.62L1372.28 478.62L1372.28 481.55L1369.34 481.55L1369.34 484.49L1366.41 484.49L1366.41 481.55L1363.48 481.55L1363.48 478.62L1366.41 478.62Z"/>
<path d="M1377.91 469.10L1380.85 469.10L1380.85 472.03L1383.78 472.03L1383.78 474.96L1380.85 474.96L1380.85 477.90L1377.91 477.90L1377.91 474.96L1374.98 474.96L1374.98 472.03L1377.91 472.03Z"/>
<path d="M1389.42 462.20L1392.35 462.20L1392.35 465.14L1395.29 465.14L1395.29 468.07L1392.35 468.07L1392.35 471.00L1389.42 471.00L1389.42 468.07L1386.49 468.07L1386.49 465.14L1389.42 465.14Z"/>
<path d="M1400.93 455.01L1403.86 455.01L1403.86 457.94L1406.79 457.94L1406.79 460.87L1403.86 460.87L1403.86 463.81L1400.93 463.81L1400.93 460.87L1397.99 460.87L1397.99 457.94L1400.93 457.94Z"/>
<path d="M1412.43 447.56L1415.37 447.56L1415.37 450.50L1418.30 450.50L1418.30 453.43L1415.37 453.43L1415.37 456.36L1412.43 456.36L1412.43 453.43L1409.50 453.43L1409.50 450.50L1412.43 450.50Z"/>
<path d="M1423.94 440.03L1426.87 440.03L1426.87 442.97L1429.80 442.97L1429.80 445.90L1426.87 445.90L1426.87 448.83L1423.94 448.83L1423.94 445.90L1421.00 445.90L1421.00 442.97L1423.94 442.97Z"/>
<path d="M1435.44 432.21L1438.38 432.21L1438.38 435.15L1441.31 435.15L1441.31 438.08L1438.38 438.08L1438.38 441.01L1435.44 441.01L1435.44 438.08L1432.51 438.08L1432.51 435.15L1435.44 435.15Z"/>
<path d="M1446.95 424.10L1449.88 424.10L1449.88 427.03L1452.82 427.03L1452.82 429.96L1449.88 429.96L1449.88 432.90L1446.95 432.90L1446.95 429.96L1444.02 429.96L1444.02 427.03L1446.95 427.03Z"/>
<path d="M1458.46 415.64L1461.39 415.64L1461.39 418.57L1464.32 418.57L1464.32 421.51L1461.39 421.51L1461.39 424.44L1458.46 424.44L1458.46 421.51L1455.52 421.51L1455.52 418.57L1458.46 418.57Z"/>
<path d="M1469.96 404.88L1472.90 404.88L1472.90 407.81L1475.83 407.81L1475.83 410.74L1472.90 410.74L1472.90 413.68L1469.96 413.68L1469.96 410.74L1467.03 410.74L1467.03 407.81L1469.96 407.81Z"/>
<path d="M1482.19 392.90L1485.12 392.90L1485.12 395.83L1488.06 395.83L1488.06 398.77L1485.12 398.77L1485.12 401.70L1482.19 401.70L1482.19 398.77L1479.26 398.77L1479.26 395.83L1482.19 395.83Z"/>
<path d="M1494.42 381.42L1497.35 381.42L1497.35 384.35L1500.29 384.35L1500.29 387.28L1497.35 387.28L1497.35 390.22L1494.42 390.22L1494.42 387.28L1491.49 387.28L1491.49 384.35L1494.42 384.35Z"/>
<path d="M1506.65 369.98L1509.58 369.98L1509.58 372.91L1512.51 372.91L1512.51 375.84L1509.58 375.84L1509.58 378.78L1506.65 378.78L1506.65 375.84L1503.71 375.84L1503.71 372.91L1506.65 372.91Z"/>
<path d="M1518.88 358.08L1521.81 358.08L1521.81 361.01L1524.74 361.01L1524.74 363.95L1521.81 363.95L1521.81 366.88L1518.88 366.88L1518.88 363.95L1515.94 363.95L1515.94 361.01L1518.88 361.01Z"/>
<path d="M1531.11 345.49L1534.04 345.49L1534.04 348.42L1536.97 348.42L1536.97 351.36L1534.04 351.36L1534.04 354.29L1531.11 354.29L1531.11 351.36L1528.17 351.36L1528.17 348.42L1531.11 348.42Z"/>
<path d="M1543.33 332.47L1546.27 332.47L1546.27 335.40L1549.20 335.40L1549.20 338.34L1546.27 338.34L1546.27 341.27L1543.33 341.27L1543.33 338.34L1540.40 338.34L1540.40 335.40L1543.33 335.40Z"/>
<path d="M1555.56 319.39L1558.50 319.39L1558.50 322.33L1561.43 322.33L1561.43 325.26L1558.50 325.26L1558.50 328.19L1555.56 328.19L1555.56 325.26L1552.63 325.26L1552.63 322.33L1555.56 322.33Z"/>
<path d="M1570.25 304.04L1573.18 304.04L1573.18 306.98L1576.11 306.98L1576.11 309.91L1573.18 309.91L1573.18 312.84L1570.25 312.84L1570.25 309.91L1567.31 309.91L1567.31 306.98L1570.25 306.98Z"/>
<path d="M1587.42 287.67L1590.35 287.67L1590.35 290.60L1593.29 290.60L1593.29 293.54L1590.35 293.54L1590.35 296.47L1587.42 296.47L1587.42 293.54L1584.49 293.54L1584.49 290.60L1587.42 290.60Z"/>
<path d="M1604.60 271.29L1607.53 271.29L1607.53 274.22L1610.46 274.22L1610.46 277.15L1607.53 277.15L1607.53 280.09L1604.60 280.09L1604.60 277.15L1601.66 277.15L1601.66 274.22L1604.60 274.22Z"/>
<path d="M1622.33 253.90L1625.26 253.90L1625.26 256.84L1628.19 256.84L1628.19 259.77L1625.26 259.77L1625.26 262.70L1622.33 262.70L1622.33 259.77L1619.39 259.77L1619.39 256.84L1622.33 256.84Z"/>
<path d="M1641.44 235.14L1644.37 235.14L1644.37 238.07L1647.31 238.07L1647.31 241.00L1644.37 241.00L1644.37 243.94L1641.44 243.94L1641.44 241.00L1638.51 241.00L1638.51 238.07L1641.44 238.07Z"/>
<path d="M1660.28 216.15L1663.21 216.15L1663.21 219.09L1666.15 219.09L1666.15 222.02L1663.21 222.02L1663.21 224.95L1660.28 224.95L1660.28 222.02L1657.35 222.02L1657.35 219.09L1660.28 219.09Z"/>
<path d="M1679.67 198.40L1682.60 198.40L1682.60 201.33L1685.54 201.33L1685.54 204.27L1682.60 204.27L1682.60 207.20L1679.67 207.20L1679.67 204.27L1676.74 204.27L1676.74 201.33L1679.67 201.33Z"/>
<path d="M1698.23 177.99L1701.17 177.99L1701.17 180.92L1704.10 180.92L1704.10 183.85L1701.17 183.85L1701.17 186.79L1698.23 186.79L1698.23 183.85L1695.30 183.85L1695.30 180.92L1698.23 180.92Z"/>
<path d="M1717.90 154.97L1720.83 154.97L1720.83 157.90L1723.77 157.90L1723.77 160.83L1720.83 160.83L1720.83 163.77L1717.90 163.77L1717.90 160.83L1714.97 160.83L1714.97 157.90L1717.90 157.90Z"/>
<path d="M1737.85 130.90L1740.78 130.90L1740.78 133.83L1743.71 133.83L1743.71 136.76L1740.78 136.76L1740.78 139.70L1737.85 139.70L1737.85 136.76L1734.91 136.76L1734.91 133.83L1737.85 133.83Z"/>
<path d="M1757.24 106.79L1760.17 106.79L1760.17 109.73L1763.11 109.73L1763.11 112.66L1760.17 112.66L1760.17 115.59L1757.24 115.59L1757.24 112.66L1754.31 112.66L1754.31 109.73L1757.24 109.73Z"/>
<path d="M1778.85 79.11L1781.78 79.11L1781.78 82.05L1784.71 82.05L1784.71 84.98L1781.78 84.98L1781.78 87.91L1778.85 87.91L1778.85 84.98L1775.91 84.98L1775.91 82.05L1778.85 82.05Z"/>
<path d="M1799.35 52.05L1802.28 52.05L1802.28 54.99L1805.21 54.99L1805.21 57.92L1802.28 57.92L1802.28 60.85L1799.35 60.85L1799.35 57.92L1796.41 57.92L1796.41 54.99L1799.35 54.99Z"/>
</g>
<g fill="none" stroke="#2b8198" stroke-width="1.7" stroke-linejoin="miter" clip-path="url(#cpb)">
<path d="M1127.10 551.26L1129.30 553.46L1131.50 551.26L1133.70 553.46L1131.50 555.66L1133.70 557.86L1131.50 560.06L1129.30 557.86L1127.10 560.06L1124.90 557.86L1127.10 555.66L1124.90 553.46Z"/>
<path d="M1136.46 550.42L1138.66 552.62L1140.86 550.42L1143.06 552.62L1140.86 554.82L1143.06 557.02L1140.86 559.22L1138.66 557.02L1136.46 559.22L1134.26 557.02L1136.46 554.82L1134.26 552.62Z"/>
<path d="M1144.36 549.81L1146.56 552.01L1148.76 549.81L1150.96 552.01L1148.76 554.21L1150.96 556.41L1148.76 558.61L1146.56 556.41L1144.36 558.61L1142.16 556.41L1144.36 554.21L1142.16 552.01Z"/>
<path d="M1152.59 549.29L1154.79 551.49L1156.99 549.29L1159.19 551.49L1156.99 553.69L1159.19 555.89L1156.99 558.09L1154.79 555.89L1152.59 558.09L1150.39 555.89L1152.59 553.69L1150.39 551.49Z"/>
<path d="M1162.95 548.41L1165.15 550.61L1167.35 548.41L1169.55 550.61L1167.35 552.81L1169.55 555.01L1167.35 557.21L1165.15 555.01L1162.95 557.21L1160.75 555.01L1162.95 552.81L1160.75 550.61Z"/>
<path d="M1173.78 547.45L1175.98 549.65L1178.18 547.45L1180.38 549.65L1178.18 551.85L1180.38 554.05L1178.18 556.25L1175.98 554.05L1173.78 556.25L1171.58 554.05L1173.78 551.85L1171.58 549.65Z"/>
<path d="M1184.61 546.49L1186.81 548.69L1189.01 546.49L1191.21 548.69L1189.01 550.89L1191.21 553.09L1189.01 555.29L1186.81 553.09L1184.61 555.29L1182.41 553.09L1184.61 550.89L1182.41 548.69Z"/>
<path d="M1194.75 544.66L1196.95 546.86L1199.15 544.66L1201.35 546.86L1199.15 549.06L1201.35 551.26L1199.15 553.46L1196.95 551.26L1194.75 553.46L1192.55 551.26L1194.75 549.06L1192.55 546.86Z"/>
<path d="M1204.34 542.82L1206.54 545.02L1208.74 542.82L1210.94 545.02L1208.74 547.22L1210.94 549.42L1208.74 551.62L1206.54 549.42L1204.34 551.62L1202.14 549.42L1204.34 547.22L1202.14 545.02Z"/>
<path d="M1214.47 540.76L1216.67 542.96L1218.87 540.76L1221.07 542.96L1218.87 545.16L1221.07 547.36L1218.87 549.56L1216.67 547.36L1214.47 549.56L1212.27 547.36L1214.47 545.16L1212.27 542.96Z"/>
<path d="M1224.28 538.65L1226.48 540.85L1228.68 538.65L1230.88 540.85L1228.68 543.05L1230.88 545.25L1228.68 547.45L1226.48 545.25L1224.28 547.45L1222.08 545.25L1224.28 543.05L1222.08 540.85Z"/>
<path d="M1234.42 536.35L1236.62 538.55L1238.82 536.35L1241.02 538.55L1238.82 540.75L1241.02 542.95L1238.82 545.15L1236.62 542.95L1234.42 545.15L1232.22 542.95L1234.42 540.75L1232.22 538.55Z"/>
<path d="M1244.56 533.50L1246.76 535.70L1248.96 533.50L1251.16 535.70L1248.96 537.90L1251.16 540.10L1248.96 542.30L1246.76 540.10L1244.56 542.30L1242.36 540.10L1244.56 537.90L1242.36 535.70Z"/>
<path d="M1254.70 529.94L1256.90 532.14L1259.10 529.94L1261.30 532.14L1259.10 534.34L1261.30 536.54L1259.10 538.74L1256.90 536.54L1254.70 538.74L1252.50 536.54L1254.70 534.34L1252.50 532.14Z"/>
<path d="M1264.84 526.07L1267.04 528.27L1269.24 526.07L1271.44 528.27L1269.24 530.47L1271.44 532.67L1269.24 534.87L1267.04 532.67L1264.84 534.87L1262.64 532.67L1264.84 530.47L1262.64 528.27Z"/>
<path d="M1274.98 521.90L1277.18 524.10L1279.38 521.90L1281.58 524.10L1279.38 526.30L1281.58 528.50L1279.38 530.70L1277.18 528.50L1274.98 530.70L1272.78 528.50L1274.98 526.30L1272.78 524.10Z"/>
<path d="M1285.12 517.40L1287.32 519.60L1289.52 517.40L1291.72 519.60L1289.52 521.80L1291.72 524.00L1289.52 526.20L1287.32 524.00L1285.12 526.20L1282.92 524.00L1285.12 521.80L1282.92 519.60Z"/>
<path d="M1295.26 512.58L1297.46 514.78L1299.66 512.58L1301.86 514.78L1299.66 516.98L1301.86 519.18L1299.66 521.38L1297.46 519.18L1295.26 521.38L1293.06 519.18L1295.26 516.98L1293.06 514.78Z"/>
<path d="M1305.39 508.14L1307.59 510.34L1309.79 508.14L1311.99 510.34L1309.79 512.54L1311.99 514.74L1309.79 516.94L1307.59 514.74L1305.39 516.94L1303.19 514.74L1305.39 512.54L1303.19 510.34Z"/>
<path d="M1315.53 503.54L1317.73 505.74L1319.93 503.54L1322.13 505.74L1319.93 507.94L1322.13 510.14L1319.93 512.34L1317.73 510.14L1315.53 512.34L1313.33 510.14L1315.53 507.94L1313.33 505.74Z"/>
<path d="M1325.66 498.69L1327.86 500.89L1330.06 498.69L1332.26 500.89L1330.06 503.09L1332.26 505.29L1330.06 507.49L1327.86 505.29L1325.66 507.49L1323.46 505.29L1325.66 503.09L1323.46 500.89Z"/>
<path d="M1335.80 493.58L1338.00 495.78L1340.20 493.58L1342.40 495.78L1340.20 497.98L1342.40 500.18L1340.20 502.38L1338.00 500.18L1335.80 502.38L1333.60 500.18L1335.80 497.98L1333.60 495.78Z"/>
<path d="M1345.94 488.22L1348.14 490.42L1350.34 488.22L1352.54 490.42L1350.34 492.62L1352.54 494.82L1350.34 497.02L1348.14 494.82L1345.94 497.02L1343.74 494.82L1345.94 492.62L1343.74 490.42Z"/>
<path d="M1356.07 482.70L1358.27 484.90L1360.47 482.70L1362.67 484.90L1360.47 487.10L1362.67 489.30L1360.47 491.50L1358.27 489.30L1356.07 491.50L1353.87 489.30L1356.07 487.10L1353.87 484.90Z"/>
<path d="M1366.21 477.15L1368.41 479.35L1370.61 477.15L1372.81 479.35L1370.61 481.55L1372.81 483.75L1370.61 485.95L1368.41 483.75L1366.21 485.95L1364.01 483.75L1366.21 481.55L1364.01 479.35Z"/>
<path d="M1376.34 471.36L1378.54 473.56L1380.74 471.36L1382.94 473.56L1380.74 475.76L1382.94 477.96L1380.74 480.16L1378.54 477.96L1376.34 480.16L1374.14 477.96L1376.34 475.76L1374.14 473.56Z"/>
<path d="M1386.48 465.34L1388.68 467.54L1390.88 465.34L1393.08 467.54L1390.88 469.74L1393.08 471.94L1390.88 474.14L1388.68 471.94L1386.48 474.14L1384.28 471.94L1386.48 469.74L1384.28 467.54Z"/>
<path d="M1396.61 459.06L1398.81 461.26L1401.01 459.06L1403.21 461.26L1401.01 463.46L1403.21 465.66L1401.01 467.86L1398.81 465.66L1396.61 467.86L1394.41 465.66L1396.61 463.46L1394.41 461.26Z"/>
<path d="M1406.75 452.54L1408.95 454.74L1411.15 452.54L1413.35 454.74L1411.15 456.94L1413.35 459.14L1411.15 461.34L1408.95 459.14L1406.75 461.34L1404.55 459.14L1406.75 456.94L1404.55 454.74Z"/>
<path d="M1416.89 446.46L1419.09 448.66L1421.29 446.46L1423.49 448.66L1421.29 450.86L1423.49 453.06L1421.29 455.26L1419.09 453.06L1416.89 455.26L1414.69 453.06L1416.89 450.86L1414.69 448.66Z"/>
<path d="M1427.02 440.39L1429.22 442.59L1431.42 440.39L1433.62 442.59L1431.42 444.79L1433.62 446.99L1431.42 449.19L1429.22 446.99L1427.02 449.19L1424.82 446.99L1427.02 444.79L1424.82 442.59Z"/>
<path d="M1437.16 434.15L1439.36 436.35L1441.56 434.15L1443.76 436.35L1441.56 438.55L1443.76 440.75L1441.56 442.95L1439.36 440.75L1437.16 442.95L1434.96 440.75L1437.16 438.55L1434.96 436.35Z"/>
<path d="M1447.29 427.75L1449.49 429.95L1451.69 427.75L1453.89 429.95L1451.69 432.15L1453.89 434.35L1451.69 436.55L1449.49 434.35L1447.29 436.55L1445.09 434.35L1447.29 432.15L1445.09 429.95Z"/>
<path d="M1457.43 421.17L1459.63 423.37L1461.83 421.17L1464.03 423.37L1461.83 425.57L1464.03 427.77L1461.83 429.97L1459.63 427.77L1457.43 429.97L1455.23 427.77L1457.43 425.57L1455.23 423.37Z"/>
<path d="M1467.57 414.20L1469.77 416.40L1471.97 414.20L1474.17 416.40L1471.97 418.60L1474.17 420.80L1471.97 423.00L1469.77 420.80L1467.57 423.00L1465.37 420.80L1467.57 418.60L1465.37 416.40Z"/>
<path d="M1477.87 406.07L1480.07 408.27L1482.27 406.07L1484.47 408.27L1482.27 410.47L1484.47 412.67L1482.27 414.87L1480.07 412.67L1477.87 414.87L1475.67 412.67L1477.87 410.47L1475.67 408.27Z"/>
<path d="M1488.17 397.67L1490.37 399.87L1492.57 397.67L1494.77 399.87L1492.57 402.07L1494.77 404.27L1492.57 406.47L1490.37 404.27L1488.17 406.47L1485.97 404.27L1488.17 402.07L1485.97 399.87Z"/>
<path d="M1498.47 388.88L1500.67 391.08L1502.87 388.88L1505.07 391.08L1502.87 393.28L1505.07 395.48L1502.87 397.68L1500.67 395.48L1498.47 397.68L1496.27 395.48L1498.47 393.28L1496.27 391.08Z"/>
<path d="M1508.77 379.16L1510.97 381.36L1513.17 379.16L1515.37 381.36L1513.17 383.56L1515.37 385.76L1513.17 387.96L1510.97 385.76L1508.77 387.96L1506.57 385.76L1508.77 383.56L1506.57 381.36Z"/>
<path d="M1519.08 369.15L1521.28 371.35L1523.48 369.15L1525.68 371.35L1523.48 373.55L1525.68 375.75L1523.48 377.95L1521.28 375.75L1519.08 377.95L1516.88 375.75L1519.08 373.55L1516.88 371.35Z"/>
<path d="M1529.38 359.51L1531.58 361.71L1533.78 359.51L1535.98 361.71L1533.78 363.91L1535.98 366.11L1533.78 368.31L1531.58 366.11L1529.38 368.31L1527.18 366.11L1529.38 363.91L1527.18 361.71Z"/>
<path d="M1539.68 349.48L1541.88 351.68L1544.08 349.48L1546.28 351.68L1544.08 353.88L1546.28 356.08L1544.08 358.28L1541.88 356.08L1539.68 358.28L1537.48 356.08L1539.68 353.88L1537.48 351.68Z"/>
<path d="M1549.98 338.34L1552.18 340.54L1554.38 338.34L1556.58 340.54L1554.38 342.74L1556.58 344.94L1554.38 347.14L1552.18 344.94L1549.98 347.14L1547.78 344.94L1549.98 342.74L1547.78 340.54Z"/>
<path d="M1560.28 326.89L1562.48 329.09L1564.68 326.89L1566.88 329.09L1564.68 331.29L1566.88 333.49L1564.68 335.69L1562.48 333.49L1560.28 335.69L1558.08 333.49L1560.28 331.29L1558.08 329.09Z"/>
<path d="M1570.59 315.50L1572.79 317.70L1574.99 315.50L1577.19 317.70L1574.99 319.90L1577.19 322.10L1574.99 324.30L1572.79 322.10L1570.59 324.30L1568.39 322.10L1570.59 319.90L1568.39 317.70Z"/>
<path d="M1580.89 303.75L1583.09 305.95L1585.29 303.75L1587.49 305.95L1585.29 308.15L1587.49 310.35L1585.29 312.55L1583.09 310.35L1580.89 312.55L1578.69 310.35L1580.89 308.15L1578.69 305.95Z"/>
<path d="M1591.19 291.75L1593.39 293.95L1595.59 291.75L1597.79 293.95L1595.59 296.15L1597.79 298.35L1595.59 300.55L1593.39 298.35L1591.19 300.55L1588.99 298.35L1591.19 296.15L1588.99 293.95Z"/>
<path d="M1601.49 279.31L1603.69 281.51L1605.89 279.31L1608.09 281.51L1605.89 283.71L1608.09 285.91L1605.89 288.11L1603.69 285.91L1601.49 288.11L1599.29 285.91L1601.49 283.71L1599.29 281.51Z"/>
<path d="M1611.79 265.38L1613.99 267.58L1616.19 265.38L1618.39 267.58L1616.19 269.78L1618.39 271.98L1616.19 274.18L1613.99 271.98L1611.79 274.18L1609.59 271.98L1611.79 269.78L1609.59 267.58Z"/>
<path d="M1622.10 247.76L1624.30 249.96L1626.50 247.76L1628.70 249.96L1626.50 252.16L1628.70 254.36L1626.50 256.56L1624.30 254.36L1622.10 256.56L1619.90 254.36L1622.10 252.16L1619.90 249.96Z"/>
<path d="M1632.40 233.53L1634.60 235.73L1636.80 233.53L1639.00 235.73L1636.80 237.93L1639.00 240.13L1636.80 242.33L1634.60 240.13L1632.40 242.33L1630.20 240.13L1632.40 237.93L1630.20 235.73Z"/>
<path d="M1647.08 213.31L1649.28 215.51L1651.48 213.31L1653.68 215.51L1651.48 217.71L1653.68 219.91L1651.48 222.11L1649.28 219.91L1647.08 222.11L1644.88 219.91L1647.08 217.71L1644.88 215.51Z"/>
<path d="M1662.87 197.36L1665.07 199.56L1667.27 197.36L1669.47 199.56L1667.27 201.76L1669.47 203.96L1667.27 206.16L1665.07 203.96L1662.87 206.16L1660.67 203.96L1662.87 201.76L1660.67 199.56Z"/>
<path d="M1680.05 181.09L1682.25 183.29L1684.45 181.09L1686.65 183.29L1684.45 185.49L1686.65 187.69L1684.45 189.89L1682.25 187.69L1680.05 189.89L1677.85 187.69L1680.05 185.49L1677.85 183.29Z"/>
<path d="M1697.22 164.52L1699.42 166.72L1701.62 164.52L1703.82 166.72L1701.62 168.92L1703.82 171.12L1701.62 173.32L1699.42 171.12L1697.22 173.32L1695.02 171.12L1697.22 168.92L1695.02 166.72Z"/>
<path d="M1714.40 144.70L1716.60 146.90L1718.80 144.70L1721.00 146.90L1718.80 149.10L1721.00 151.30L1718.80 153.50L1716.60 151.30L1714.40 153.50L1712.20 151.30L1714.40 149.10L1712.20 146.90Z"/>
<path d="M1731.30 124.74L1733.50 126.94L1735.70 124.74L1737.90 126.94L1735.70 129.14L1737.90 131.34L1735.70 133.54L1733.50 131.34L1731.30 133.54L1729.10 131.34L1731.30 129.14L1729.10 126.94Z"/>
<path d="M1747.92 104.67L1750.12 106.87L1752.32 104.67L1754.52 106.87L1752.32 109.07L1754.52 111.27L1752.32 113.47L1750.12 111.27L1747.92 113.47L1745.72 111.27L1747.92 109.07L1745.72 106.87Z"/>
<path d="M1764.82 83.82L1767.02 86.02L1769.22 83.82L1771.42 86.02L1769.22 88.22L1771.42 90.42L1769.22 92.62L1767.02 90.42L1764.82 92.62L1762.62 90.42L1764.82 88.22L1762.62 86.02Z"/>
<path d="M1781.99 62.18L1784.19 64.38L1786.39 62.18L1788.59 64.38L1786.39 66.58L1788.59 68.78L1786.39 70.98L1784.19 68.78L1781.99 70.98L1779.79 68.78L1781.99 66.58L1779.79 64.38Z"/>
<path d="M1801.11 37.54L1803.31 39.74L1805.51 37.54L1807.71 39.74L1805.51 41.94L1807.71 44.14L1805.51 46.34L1803.31 44.14L1801.11 46.34L1798.91 44.14L1801.11 41.94L1798.91 39.74Z"/>
</g>
<polyline points="1129.30,555.66 1132.74,555.06 1136.17,554.45 1139.61,553.82 1143.04,553.17 1146.48,552.50 1149.91,551.81 1153.35,551.11 1156.79,550.39 1160.22,549.65 1163.66,548.89 1167.09,548.11 1170.53,547.32 1173.96,546.51 1177.40,545.68 1180.84,544.83 1184.27,543.97 1187.71,543.09 1191.14,542.18 1194.58,541.27 1198.02,540.33 1201.45,539.37 1204.89,538.40 1208.32,537.41 1211.76,536.40 1215.19,535.38 1218.63,534.33 1222.07,533.27 1225.50,532.19 1228.94,531.09 1232.37,529.98 1235.81,528.85 1239.24,527.69 1242.68,526.52 1246.12,525.34 1249.55,524.13 1252.99,522.91 1256.42,521.67 1259.86,520.41 1263.29,519.13 1266.73,517.84 1270.17,516.52 1273.60,515.19 1277.04,513.85 1280.47,512.48 1283.91,511.10 1287.34,509.69 1290.78,508.27 1294.22,506.84 1297.65,505.38 1301.09,503.91 1304.52,502.41 1307.96,500.91 1311.40,499.38 1314.83,497.83 1318.27,496.27 1321.70,494.69 1325.14,493.09 1328.57,491.47 1332.01,489.84 1335.45,488.18 1338.88,486.51 1342.32,484.83 1345.75,483.12 1349.19,481.39 1352.62,479.65 1356.06,477.89 1359.50,476.11 1362.93,474.32 1366.37,472.50 1369.80,470.67 1373.24,468.82 1376.67,466.96 1380.11,465.07 1383.55,463.17 1386.98,461.25 1390.42,459.31 1393.85,457.35 1397.29,455.37 1400.72,453.38 1404.16,451.37 1407.60,449.34 1411.03,447.30 1414.47,445.23 1417.90,443.15 1421.34,441.05 1424.78,438.93 1428.21,436.79 1431.65,434.64 1435.08,432.47 1438.52,430.28 1441.95,428.07 1445.39,425.84 1448.83,423.60 1452.26,421.34 1455.70,419.06 1459.13,416.76 1462.57,414.45 1466.00,412.12 1469.44,409.76 1472.88,407.40 1476.31,405.01 1479.75,402.60 1483.18,400.18 1486.62,397.74 1490.05,395.28 1493.49,392.81 1496.93,390.31 1500.36,387.80 1503.80,385.27 1507.23,382.72 1510.67,380.16 1514.10,377.57 1517.54,374.97 1520.98,372.35 1524.41,369.71 1527.85,367.06 1531.28,364.39 1534.72,361.70 1538.16,358.99 1541.59,356.26 1545.03,353.51 1548.46,350.75 1551.90,347.97 1555.33,345.17 1558.77,342.36 1562.21,339.52 1565.64,336.67 1569.08,333.80 1572.51,330.91 1575.95,328.01 1579.38,325.08 1582.82,322.14 1586.26,319.18 1589.69,316.20 1593.13,313.21 1596.56,310.19 1600.00,307.16 1603.43,304.11 1606.87,301.05 1610.31,297.96 1613.74,294.86 1617.18,291.74 1620.61,288.60 1624.05,285.44 1627.49,282.27 1630.92,279.08 1634.36,275.87 1637.79,272.64 1641.23,269.39 1644.66,266.13 1648.10,262.85 1651.54,259.55 1654.97,256.23 1658.41,252.89 1661.84,249.54 1665.28,246.17 1668.71,242.78 1672.15,239.37 1675.59,235.95 1679.02,232.50 1682.46,229.04 1685.89,225.56 1689.33,222.07 1692.76,218.55 1696.20,215.02 1699.64,211.47 1703.07,207.90 1706.51,204.32 1709.94,200.71 1713.38,197.09 1716.81,193.45 1720.25,189.79 1723.69,186.12 1727.12,182.42 1730.56,178.71 1733.99,174.98 1737.43,171.23 1740.87,167.47 1744.30,163.69 1747.74,159.88 1751.17,156.07 1754.61,152.23 1758.04,148.37 1761.48,144.50 1764.92,140.61 1768.35,136.70 1771.79,132.78 1775.22,128.83 1778.66,124.87 1782.09,120.89 1785.53,116.89 1788.97,112.88 1792.40,108.84 1795.84,104.79 1799.27,100.72 1802.71,96.63 1806.14,92.53 1809.58,88.40 1813.02,84.26" fill="none" stroke="#2e5b93" stroke-width="2.45" stroke-linejoin="round" clip-path="url(#cpb)"/>
<g stroke="#000" stroke-width="1.6" fill="none">
<line x1="1129.30" y1="584.4" x2="1129.30" y2="589.6999999999999"/>
<line x1="1242.05" y1="584.4" x2="1242.05" y2="589.6999999999999"/>
<line x1="1354.80" y1="584.4" x2="1354.80" y2="589.6999999999999"/>
<line x1="1467.55" y1="584.4" x2="1467.55" y2="589.6999999999999"/>
<line x1="1580.30" y1="584.4" x2="1580.30" y2="589.6999999999999"/>
<line x1="1693.05" y1="584.4" x2="1693.05" y2="589.6999999999999"/>
<line x1="1805.80" y1="584.4" x2="1805.80" y2="589.6999999999999"/>
<line x1="1091.8" y1="565.30" x2="1086.5" y2="565.30"/>
<line x1="1091.8" y1="468.90" x2="1086.5" y2="468.90"/>
<line x1="1091.8" y1="372.50" x2="1086.5" y2="372.50"/>
<line x1="1091.8" y1="276.10" x2="1086.5" y2="276.10"/>
<line x1="1091.8" y1="179.70" x2="1086.5" y2="179.70"/>
<line x1="1091.8" y1="83.30" x2="1086.5" y2="83.30"/>
<rect x="1091.8" y="13.3" width="757.1000000000001" height="571.1"/>
</g>
<g font-family="'DejaVu Sans','Liberation Sans',sans-serif" font-size="30.0" fill="#000" stroke="#000" stroke-width="0.3">
<text transform="translate(1129.30,616.90) scale(0.98,1)" text-anchor="middle">1</text>
<text transform="translate(1242.05,616.90) scale(0.98,1)" text-anchor="middle">2</text>
<text transform="translate(1354.80,616.90) scale(0.98,1)" text-anchor="middle">3</text>
<text transform="translate(1467.55,616.90) scale(0.98,1)" text-anchor="middle">4</text>
<text transform="translate(1580.30,616.90) scale(0.98,1)" text-anchor="middle">5</text>
<text transform="translate(1693.05,616.90) scale(0.98,1)" text-anchor="middle">6</text>
<text transform="translate(1805.80,616.90) scale(0.98,1)" text-anchor="middle">7</text>
<text transform="translate(1081.00,576.23) scale(0.98,1)" text-anchor="end">0</text>
<text transform="translate(1081.00,479.83) scale(0.98,1)" text-anchor="end">10</text>
<text transform="translate(1081.00,383.43) scale(0.98,1)" text-anchor="end">20</text>
<text transform="translate(1081.00,287.03) scale(0.98,1)" text-anchor="end">30</text>
<text transform="translate(1081.00,190.63) scale(0.98,1)" text-anchor="end">40</text>
<text transform="translate(1081.00,94.23) scale(0.98,1)" text-anchor="end">50</text>
</g>
<rect x="1104.6" y="24.9" width="513.4" height="185.8" rx="4.5" fill="#fff" fill-opacity="0.8" stroke="#d2d2d2" stroke-opacity="0.85" stroke-width="1.6"/>
<line x1="1113.3" y1="44.8" x2="1165.6" y2="44.8" stroke="#2e5b93" stroke-width="2.1"/>
<text x="1184.8" y="53.58" font-family="'DejaVu Sans','Liberation Sans',sans-serif" font-size="25.07" stroke="#000" stroke-width="0.3">Theory</text>
<g fill="none" stroke="#973435" stroke-width="1.7"><rect x="1135.40" y="78.70" width="8.80" height="8.80"/></g>
<text x="1184.8" y="89.12" font-family="'DejaVu Sans','Liberation Sans',sans-serif" font-size="25.07" stroke="#000" stroke-width="0.3">NIMROD, ramping rate<tspan dx="5.43" dy="-0.39">∼</tspan><tspan dx="4.24" dy="0.39">0.03T/μs</tspan></text>
<g fill="none" stroke="#6e9031" stroke-width="1.7"><circle cx="1139.80" cy="118.90" r="4.40"/></g>
<text x="1184.8" y="124.92" font-family="'DejaVu Sans','Liberation Sans',sans-serif" font-size="25.07" stroke="#000" stroke-width="0.3">NIMROD, ramping rate<tspan dx="5.43" dy="-0.39">∼</tspan><tspan dx="4.24" dy="0.39">0.05T/μs</tspan></text>
<g fill="none" stroke="#6a488d" stroke-width="1.7"><path d="M1138.33 150.30L1141.27 150.30L1141.27 153.23L1144.20 153.23L1144.20 156.17L1141.27 156.17L1141.27 159.10L1138.33 159.10L1138.33 156.17L1135.40 156.17L1135.40 153.23L1138.33 153.23Z"/></g>
<text x="1184.8" y="160.72" font-family="'DejaVu Sans','Liberation Sans',sans-serif" font-size="25.07" stroke="#000" stroke-width="0.3">NIMROD, ramping rate<tspan dx="5.43" dy="-0.39">∼</tspan><tspan dx="4.24" dy="0.39">0.06T/μs</tspan></text>
<g fill="none" stroke="#2b8198" stroke-width="1.7"><path d="M1137.60 186.10L1139.80 188.30L1142.00 186.10L1144.20 188.30L1142.00 190.50L1144.20 192.70L1142.00 194.90L1139.80 192.70L1137.60 194.90L1135.40 192.70L1137.60 190.50L1135.40 188.30Z"/></g>
<text x="1184.8" y="196.52" font-family="'DejaVu Sans','Liberation Sans',sans-serif" font-size="25.07" stroke="#000" stroke-width="0.3">NIMROD, ramping rate<tspan dx="5.43" dy="-0.39">∼</tspan><tspan dx="4.24" dy="0.39">0.08T/μs</tspan></text>
<text transform="translate(1469.4,659.5) scale(0.97,1)" text-anchor="middle" font-family="'DejaVu Sans','Liberation Sans',sans-serif" font-size="42.3" stroke="#000" stroke-width="0.3"><tspan font-style="italic" font-size="42.30">B</tspan><tspan font-style="italic" font-size="29.61" dy="6.6" dx="0.4">w</tspan><tspan font-style="normal" font-size="29.61" dx="1.0">2</tspan><tspan font-style="normal" font-size="42.30" dy="-6.6" dx="3.2">/</tspan><tspan font-style="italic" font-size="42.30">B</tspan><tspan font-style="italic" font-size="29.61" dy="6.6" dx="0.6">w</tspan><tspan font-style="normal" font-size="29.61" dx="1.7">1</tspan></text>
<text transform="translate(1028.5,299.5) rotate(-90)" text-anchor="middle" font-family="'DejaVu Sans','Liberation Sans',sans-serif" font-size="42.3" stroke="#000" stroke-width="0.3"><tspan font-style="italic" font-size="42.30">p</tspan><tspan font-style="normal" font-size="29.61" dy="6.6">2</tspan><tspan font-style="normal" font-size="42.30" dy="-6.6">/</tspan><tspan font-style="italic" font-size="42.30">p</tspan><tspan font-style="normal" font-size="29.61" dy="6.6">1</tspan></text>
<text font-family="'Liberation Sans','DejaVu Sans',sans-serif" font-size="44" fill="#000" stroke="#000" stroke-linejoin="round"><tspan x="969.10" y="61.11" font-size="41.96" stroke-width="2.40" textLength="7.54" lengthAdjust="spacingAndGlyphs">(</tspan><tspan x="981.76" y="63.63" font-size="43.21" stroke-width="0.38" textLength="23.53" lengthAdjust="spacingAndGlyphs">b</tspan><tspan x="1010.37" y="61.11" font-size="41.96" stroke-width="2.40" textLength="7.54" lengthAdjust="spacingAndGlyphs">)</tspan></text>
<clipPath id="cpc"><rect x="134.1" y="714.5" width="760.6" height="581.0999999999999"/></clipPath>
<g stroke="#acacac" stroke-dasharray="7.7 1.9 1.3 1.9" fill="none">
<g stroke-width="1.25">
<line x1="171.40" y1="1295.6" x2="171.40" y2="714.5"/>
<line x1="284.60" y1="1295.6" x2="284.60" y2="714.5"/>
<line x1="397.80" y1="1295.6" x2="397.80" y2="714.5"/>
<line x1="511.00" y1="1295.6" x2="511.00" y2="714.5"/>
<line x1="624.20" y1="1295.6" x2="624.20" y2="714.5"/>
<line x1="737.40" y1="1295.6" x2="737.40" y2="714.5"/>
<line x1="850.60" y1="1295.6" x2="850.60" y2="714.5"/>
</g>
<g stroke-width="1.55">
<line x1="134.1" y1="1266.00" x2="894.7" y2="1266.00"/>
<line x1="134.1" y1="1169.70" x2="894.7" y2="1169.70"/>
<line x1="134.1" y1="1073.40" x2="894.7" y2="1073.40"/>
<line x1="134.1" y1="977.10" x2="894.7" y2="977.10"/>
<line x1="134.1" y1="880.80" x2="894.7" y2="880.80"/>
<line x1="134.1" y1="784.50" x2="894.7" y2="784.50"/>
</g>
</g>
<g fill="none" stroke="#973435" stroke-width="1.7" stroke-linejoin="miter" clip-path="url(#cpc)">
<rect x="167.00" y="1261.82" width="8.80" height="8.80"/>
<rect x="176.04" y="1260.73" width="8.80" height="8.80"/>
<rect x="185.91" y="1256.25" width="8.80" height="8.80"/>
<rect x="197.79" y="1251.98" width="8.80" height="8.80"/>
<rect x="210.53" y="1246.35" width="8.80" height="8.80"/>
<rect x="222.07" y="1240.38" width="8.80" height="8.80"/>
<rect x="234.31" y="1232.80" width="8.80" height="8.80"/>
<rect x="246.41" y="1225.11" width="8.80" height="8.80"/>
<rect x="258.51" y="1217.27" width="8.80" height="8.80"/>
<rect x="270.60" y="1208.01" width="8.80" height="8.80"/>
<rect x="282.70" y="1199.12" width="8.80" height="8.80"/>
<rect x="294.80" y="1188.68" width="8.80" height="8.80"/>
<rect x="306.90" y="1178.18" width="8.80" height="8.80"/>
<rect x="318.82" y="1167.65" width="8.80" height="8.80"/>
<rect x="330.74" y="1156.69" width="8.80" height="8.80"/>
<rect x="342.93" y="1145.38" width="8.80" height="8.80"/>
<rect x="355.13" y="1133.40" width="8.80" height="8.80"/>
<rect x="367.45" y="1120.64" width="8.80" height="8.80"/>
<rect x="379.77" y="1107.48" width="8.80" height="8.80"/>
<rect x="392.43" y="1096.45" width="8.80" height="8.80"/>
<rect x="405.08" y="1087.24" width="8.80" height="8.80"/>
<rect x="417.82" y="1078.29" width="8.80" height="8.80"/>
<rect x="430.56" y="1068.12" width="8.80" height="8.80"/>
<rect x="443.55" y="1058.04" width="8.80" height="8.80"/>
<rect x="456.54" y="1047.30" width="8.80" height="8.80"/>
<rect x="469.33" y="1035.84" width="8.80" height="8.80"/>
<rect x="484.42" y="1024.07" width="8.80" height="8.80"/>
<rect x="499.51" y="1016.26" width="8.80" height="8.80"/>
<rect x="514.60" y="1004.58" width="8.80" height="8.80"/>
<rect x="529.69" y="995.02" width="8.80" height="8.80"/>
<rect x="544.98" y="986.14" width="8.80" height="8.80"/>
<rect x="560.28" y="978.76" width="8.80" height="8.80"/>
<rect x="575.58" y="967.29" width="8.80" height="8.80"/>
<rect x="590.87" y="956.47" width="8.80" height="8.80"/>
<rect x="606.17" y="945.71" width="8.80" height="8.80"/>
<rect x="622.11" y="935.65" width="8.80" height="8.80"/>
<rect x="637.80" y="927.14" width="8.80" height="8.80"/>
<rect x="653.79" y="912.46" width="8.80" height="8.80"/>
<rect x="669.89" y="898.82" width="8.80" height="8.80"/>
<rect x="686.50" y="886.18" width="8.80" height="8.80"/>
<rect x="704.30" y="873.87" width="8.80" height="8.80"/>
<rect x="721.29" y="861.96" width="8.80" height="8.80"/>
<rect x="738.28" y="845.53" width="8.80" height="8.80"/>
<rect x="755.83" y="828.93" width="8.80" height="8.80"/>
<rect x="774.33" y="812.51" width="8.80" height="8.80"/>
<rect x="794.19" y="792.46" width="8.80" height="8.80"/>
<rect x="812.71" y="776.40" width="8.80" height="8.80"/>
<rect x="831.74" y="761.90" width="8.80" height="8.80"/>
<rect x="852.32" y="739.78" width="8.80" height="8.80"/>
</g>
<g fill="none" stroke="#6e9031" stroke-width="1.7" stroke-linejoin="miter" clip-path="url(#cpc)">
<circle cx="171.40" cy="1266.22" r="4.40"/>
<circle cx="184.75" cy="1264.38" r="4.40"/>
<circle cx="198.66" cy="1261.40" r="4.40"/>
<circle cx="215.62" cy="1254.41" r="4.40"/>
<circle cx="231.89" cy="1246.82" r="4.40"/>
<circle cx="248.16" cy="1239.02" r="4.40"/>
<circle cx="264.57" cy="1228.79" r="4.40"/>
<circle cx="280.91" cy="1216.22" r="4.40"/>
<circle cx="297.26" cy="1203.63" r="4.40"/>
<circle cx="313.60" cy="1189.90" r="4.40"/>
<circle cx="329.94" cy="1176.42" r="4.40"/>
<circle cx="346.47" cy="1164.94" r="4.40"/>
<circle cx="363.01" cy="1154.03" r="4.40"/>
<circle cx="379.54" cy="1145.12" r="4.40"/>
<circle cx="396.08" cy="1134.83" r="4.40"/>
<circle cx="412.62" cy="1123.81" r="4.40"/>
<circle cx="429.15" cy="1109.22" r="4.40"/>
<circle cx="445.69" cy="1097.68" r="4.40"/>
<circle cx="462.23" cy="1081.68" r="4.40"/>
<circle cx="478.76" cy="1068.39" r="4.40"/>
<circle cx="495.30" cy="1058.07" r="4.40"/>
<circle cx="511.83" cy="1047.42" r="4.40"/>
<circle cx="528.24" cy="1033.60" r="4.40"/>
<circle cx="545.49" cy="1021.21" r="4.40"/>
<circle cx="562.18" cy="1005.80" r="4.40"/>
<circle cx="584.71" cy="988.49" r="4.40"/>
<circle cx="607.23" cy="971.22" r="4.40"/>
<circle cx="631.71" cy="957.15" r="4.40"/>
<circle cx="657.58" cy="945.65" r="4.40"/>
<circle cx="683.44" cy="926.45" r="4.40"/>
<circle cx="709.31" cy="905.20" r="4.40"/>
<circle cx="736.84" cy="887.71" r="4.40"/>
<circle cx="765.49" cy="871.38" r="4.40"/>
<circle cx="794.14" cy="851.26" r="4.40"/>
<circle cx="824.46" cy="829.65" r="4.40"/>
<circle cx="852.27" cy="806.89" r="4.40"/>
</g>
<g fill="none" stroke="#6a488d" stroke-width="1.7" stroke-linejoin="miter" clip-path="url(#cpc)">
<path d="M169.93 1261.82L172.87 1261.82L172.87 1264.76L175.80 1264.76L175.80 1267.69L172.87 1267.69L172.87 1270.62L169.93 1270.62L169.93 1267.69L167.00 1267.69L167.00 1264.76L169.93 1264.76Z"/>
<path d="M180.34 1260.62L183.27 1260.62L183.27 1263.56L186.20 1263.56L186.20 1266.49L183.27 1266.49L183.27 1269.42L180.34 1269.42L180.34 1266.49L177.40 1266.49L177.40 1263.56L180.34 1263.56Z"/>
<path d="M188.62 1259.58L191.56 1259.58L191.56 1262.51L194.49 1262.51L194.49 1265.44L191.56 1265.44L191.56 1268.38L188.62 1268.38L188.62 1265.44L185.69 1265.44L185.69 1262.51L188.62 1262.51Z"/>
<path d="M200.17 1256.69L203.10 1256.69L203.10 1259.63L206.03 1259.63L206.03 1262.56L203.10 1262.56L203.10 1265.49L200.17 1265.49L200.17 1262.56L197.23 1262.56L197.23 1259.63L200.17 1259.63Z"/>
<path d="M212.15 1253.69L215.09 1253.69L215.09 1256.63L218.02 1256.63L218.02 1259.56L215.09 1259.56L215.09 1262.49L212.15 1262.49L212.15 1259.56L209.22 1259.56L209.22 1256.63L212.15 1256.63Z"/>
<path d="M224.17 1250.02L227.10 1250.02L227.10 1252.95L230.04 1252.95L230.04 1255.89L227.10 1255.89L227.10 1258.82L224.17 1258.82L224.17 1255.89L221.24 1255.89L221.24 1252.95L224.17 1252.95Z"/>
<path d="M235.24 1242.25L238.17 1242.25L238.17 1245.18L241.11 1245.18L241.11 1248.12L238.17 1248.12L238.17 1251.05L235.24 1251.05L235.24 1248.12L232.31 1248.12L232.31 1245.18L235.24 1245.18Z"/>
<path d="M246.67 1237.05L249.60 1237.05L249.60 1239.99L252.54 1239.99L252.54 1242.92L249.60 1242.92L249.60 1245.85L246.67 1245.85L246.67 1242.92L243.74 1242.92L243.74 1239.99L246.67 1239.99Z"/>
<path d="M258.10 1230.30L261.03 1230.30L261.03 1233.24L263.97 1233.24L263.97 1236.17L261.03 1236.17L261.03 1239.10L258.10 1239.10L258.10 1236.17L255.17 1236.17L255.17 1233.24L258.10 1233.24Z"/>
<path d="M269.99 1223.43L272.92 1223.43L272.92 1226.37L275.86 1226.37L275.86 1229.30L272.92 1229.30L272.92 1232.23L269.99 1232.23L269.99 1229.30L267.06 1229.30L267.06 1226.37L269.99 1226.37Z"/>
<path d="M281.88 1215.59L284.82 1215.59L284.82 1218.52L287.75 1218.52L287.75 1221.45L284.82 1221.45L284.82 1224.39L281.88 1224.39L281.88 1221.45L278.95 1221.45L278.95 1218.52L281.88 1218.52Z"/>
<path d="M293.77 1206.29L296.71 1206.29L296.71 1209.23L299.64 1209.23L299.64 1212.16L296.71 1212.16L296.71 1215.09L293.77 1215.09L293.77 1212.16L290.84 1212.16L290.84 1209.23L293.77 1209.23Z"/>
<path d="M305.66 1196.87L308.60 1196.87L308.60 1199.81L311.53 1199.81L311.53 1202.74L308.60 1202.74L308.60 1205.67L305.66 1205.67L305.66 1202.74L302.73 1202.74L302.73 1199.81L305.66 1199.81Z"/>
<path d="M317.16 1187.30L320.09 1187.30L320.09 1190.23L323.02 1190.23L323.02 1193.17L320.09 1193.17L320.09 1196.10L317.16 1196.10L317.16 1193.17L314.22 1193.17L314.22 1190.23L317.16 1190.23Z"/>
<path d="M328.65 1176.13L331.59 1176.13L331.59 1179.07L334.52 1179.07L334.52 1182.00L331.59 1182.00L331.59 1184.93L328.65 1184.93L328.65 1182.00L325.72 1182.00L325.72 1179.07L328.65 1179.07Z"/>
<path d="M340.15 1168.23L343.08 1168.23L343.08 1171.16L346.02 1171.16L346.02 1174.10L343.08 1174.10L343.08 1177.03L340.15 1177.03L340.15 1174.10L337.22 1174.10L337.22 1171.16L340.15 1171.16Z"/>
<path d="M351.70 1161.51L354.64 1161.51L354.64 1164.44L357.57 1164.44L357.57 1167.37L354.64 1167.37L354.64 1170.31L351.70 1170.31L351.70 1167.37L348.77 1167.37L348.77 1164.44L351.70 1164.44Z"/>
<path d="M363.25 1154.72L366.19 1154.72L366.19 1157.65L369.12 1157.65L369.12 1160.59L366.19 1160.59L366.19 1163.52L363.25 1163.52L363.25 1160.59L360.32 1160.59L360.32 1157.65L363.25 1157.65Z"/>
<path d="M374.81 1150.02L377.74 1150.02L377.74 1152.95L380.67 1152.95L380.67 1155.88L377.74 1155.88L377.74 1158.82L374.81 1158.82L374.81 1155.88L371.87 1155.88L371.87 1152.95L374.81 1152.95Z"/>
<path d="M386.36 1143.82L389.29 1143.82L389.29 1146.75L392.22 1146.75L392.22 1149.69L389.29 1149.69L389.29 1152.62L386.36 1152.62L386.36 1149.69L383.42 1149.69L383.42 1146.75L386.36 1146.75Z"/>
<path d="M397.91 1138.56L400.84 1138.56L400.84 1141.49L403.78 1141.49L403.78 1144.43L400.84 1144.43L400.84 1147.36L397.91 1147.36L397.91 1144.43L394.98 1144.43L394.98 1141.49L397.91 1141.49Z"/>
<path d="M409.46 1133.82L412.39 1133.82L412.39 1136.75L415.33 1136.75L415.33 1139.68L412.39 1139.68L412.39 1142.62L409.46 1142.62L409.46 1139.68L406.53 1139.68L406.53 1136.75L409.46 1136.75Z"/>
<path d="M421.01 1128.18L423.95 1128.18L423.95 1131.12L426.88 1131.12L426.88 1134.05L423.95 1134.05L423.95 1136.98L421.01 1136.98L421.01 1134.05L418.08 1134.05L418.08 1131.12L421.01 1131.12Z"/>
<path d="M432.56 1122.66L435.50 1122.66L435.50 1125.59L438.43 1125.59L438.43 1128.52L435.50 1128.52L435.50 1131.46L432.56 1131.46L432.56 1128.52L429.63 1128.52L429.63 1125.59L432.56 1125.59Z"/>
<path d="M444.12 1116.35L447.05 1116.35L447.05 1119.28L449.98 1119.28L449.98 1122.21L447.05 1122.21L447.05 1125.15L444.12 1125.15L444.12 1122.21L441.18 1122.21L441.18 1119.28L444.12 1119.28Z"/>
<path d="M455.67 1108.01L458.60 1108.01L458.60 1110.95L461.53 1110.95L461.53 1113.88L458.60 1113.88L458.60 1116.81L455.67 1116.81L455.67 1113.88L452.73 1113.88L452.73 1110.95L455.67 1110.95Z"/>
<path d="M467.22 1099.01L470.15 1099.01L470.15 1101.94L473.09 1101.94L473.09 1104.87L470.15 1104.87L470.15 1107.81L467.22 1107.81L467.22 1104.87L464.29 1104.87L464.29 1101.94L467.22 1101.94Z"/>
<path d="M478.77 1094.06L481.71 1094.06L481.71 1097.00L484.64 1097.00L484.64 1099.93L481.71 1099.93L481.71 1102.86L478.77 1102.86L478.77 1099.93L475.84 1099.93L475.84 1097.00L478.77 1097.00Z"/>
<path d="M490.32 1083.37L493.26 1083.37L493.26 1086.30L496.19 1086.30L496.19 1089.23L493.26 1089.23L493.26 1092.17L490.32 1092.17L490.32 1089.23L487.39 1089.23L487.39 1086.30L490.32 1086.30Z"/>
<path d="M501.88 1072.03L504.81 1072.03L504.81 1074.96L507.74 1074.96L507.74 1077.89L504.81 1077.89L504.81 1080.83L501.88 1080.83L501.88 1077.89L498.94 1077.89L498.94 1074.96L501.88 1074.96Z"/>
<path d="M513.43 1062.54L516.36 1062.54L516.36 1065.48L519.29 1065.48L519.29 1068.41L516.36 1068.41L516.36 1071.34L513.43 1071.34L513.43 1068.41L510.49 1068.41L510.49 1065.48L513.43 1065.48Z"/>
<path d="M525.70 1059.08L528.64 1059.08L528.64 1062.01L531.57 1062.01L531.57 1064.95L528.64 1064.95L528.64 1067.88L525.70 1067.88L525.70 1064.95L522.77 1064.95L522.77 1062.01L525.70 1062.01Z"/>
<path d="M537.98 1047.48L540.92 1047.48L540.92 1050.41L543.85 1050.41L543.85 1053.34L540.92 1053.34L540.92 1056.28L537.98 1056.28L537.98 1053.34L535.05 1053.34L535.05 1050.41L537.98 1050.41Z"/>
<path d="M550.26 1035.21L553.19 1035.21L553.19 1038.14L556.13 1038.14L556.13 1041.07L553.19 1041.07L553.19 1044.01L550.26 1044.01L550.26 1041.07L547.33 1041.07L547.33 1038.14L550.26 1038.14Z"/>
<path d="M562.54 1022.78L565.47 1022.78L565.47 1025.71L568.40 1025.71L568.40 1028.64L565.47 1028.64L565.47 1031.58L562.54 1031.58L562.54 1028.64L559.60 1028.64L559.60 1025.71L562.54 1025.71Z"/>
<path d="M574.82 1014.29L577.75 1014.29L577.75 1017.22L580.68 1017.22L580.68 1020.16L577.75 1020.16L577.75 1023.09L574.82 1023.09L574.82 1020.16L571.88 1020.16L571.88 1017.22L574.82 1017.22Z"/>
<path d="M587.09 1005.60L590.03 1005.60L590.03 1008.53L592.96 1008.53L592.96 1011.46L590.03 1011.46L590.03 1014.40L587.09 1014.40L587.09 1011.46L584.16 1011.46L584.16 1008.53L587.09 1008.53Z"/>
<path d="M599.37 994.40L602.30 994.40L602.30 997.33L605.24 997.33L605.24 1000.26L602.30 1000.26L602.30 1003.20L599.37 1003.20L599.37 1000.26L596.44 1000.26L596.44 997.33L599.37 997.33Z"/>
<path d="M614.11 984.84L617.04 984.84L617.04 987.77L619.98 987.77L619.98 990.70L617.04 990.70L617.04 993.64L614.11 993.64L614.11 990.70L611.18 990.70L611.18 987.77L614.11 987.77Z"/>
<path d="M631.36 973.77L634.29 973.77L634.29 976.70L637.22 976.70L637.22 979.64L634.29 979.64L634.29 982.57L631.36 982.57L631.36 979.64L628.42 979.64L628.42 976.70L631.36 976.70Z"/>
<path d="M648.60 966.01L651.53 966.01L651.53 968.95L654.47 968.95L654.47 971.88L651.53 971.88L651.53 974.81L648.60 974.81L648.60 971.88L645.67 971.88L645.67 968.95L648.60 968.95Z"/>
<path d="M666.40 959.08L669.33 959.08L669.33 962.01L672.27 962.01L672.27 964.94L669.33 964.94L669.33 967.88L666.40 967.88L666.40 964.94L663.47 964.94L663.47 962.01L666.40 962.01Z"/>
<path d="M685.59 946.34L688.52 946.34L688.52 949.27L691.46 949.27L691.46 952.20L688.52 952.20L688.52 955.14L685.59 955.14L685.59 952.20L682.66 952.20L682.66 949.27L685.59 949.27Z"/>
<path d="M704.50 932.48L707.44 932.48L707.44 935.41L710.37 935.41L710.37 938.35L707.44 938.35L707.44 941.28L704.50 941.28L704.50 938.35L701.57 938.35L701.57 935.41L704.50 935.41Z"/>
<path d="M723.97 920.44L726.91 920.44L726.91 923.38L729.84 923.38L729.84 926.31L726.91 926.31L726.91 929.24L723.97 929.24L723.97 926.31L721.04 926.31L721.04 923.38L723.97 923.38Z"/>
<path d="M742.61 910.21L745.54 910.21L745.54 913.15L748.48 913.15L748.48 916.08L745.54 916.08L745.54 919.01L742.61 919.01L742.61 916.08L739.68 916.08L739.68 913.15L742.61 913.15Z"/>
<path d="M762.36 901.36L765.29 901.36L765.29 904.29L768.22 904.29L768.22 907.23L765.29 907.23L765.29 910.16L762.36 910.16L762.36 907.23L759.42 907.23L759.42 904.29L762.36 904.29Z"/>
<path d="M782.38 889.62L785.31 889.62L785.31 892.55L788.25 892.55L788.25 895.49L785.31 895.49L785.31 898.42L782.38 898.42L782.38 895.49L779.45 895.49L779.45 892.55L782.38 892.55Z"/>
<path d="M801.85 871.68L804.78 871.68L804.78 874.61L807.72 874.61L807.72 877.54L804.78 877.54L804.78 880.48L801.85 880.48L801.85 877.54L798.92 877.54L798.92 874.61L801.85 874.61Z"/>
<path d="M823.55 854.18L826.48 854.18L826.48 857.12L829.41 857.12L829.41 860.05L826.48 860.05L826.48 862.98L823.55 862.98L823.55 860.05L820.61 860.05L820.61 857.12L823.55 857.12Z"/>
<path d="M844.13 840.46L847.06 840.46L847.06 843.39L849.99 843.39L849.99 846.32L847.06 846.32L847.06 849.26L844.13 849.26L844.13 846.32L841.19 846.32L841.19 843.39L844.13 843.39Z"/>
</g>
<g fill="none" stroke="#2b8198" stroke-width="1.7" stroke-linejoin="miter" clip-path="url(#cpc)">
<path d="M169.20 1261.82L171.40 1264.02L173.60 1261.82L175.80 1264.02L173.60 1266.22L175.80 1268.42L173.60 1270.62L171.40 1268.42L169.20 1270.62L167.00 1268.42L169.20 1266.22L167.00 1264.02Z"/>
<path d="M178.60 1260.27L180.80 1262.47L183.00 1260.27L185.20 1262.47L183.00 1264.67L185.20 1266.87L183.00 1269.07L180.80 1266.87L178.60 1269.07L176.40 1266.87L178.60 1264.67L176.40 1262.47Z"/>
<path d="M186.53 1258.84L188.73 1261.04L190.93 1258.84L193.13 1261.04L190.93 1263.24L193.13 1265.44L190.93 1267.64L188.73 1265.44L186.53 1267.64L184.33 1265.44L186.53 1263.24L184.33 1261.04Z"/>
<path d="M194.79 1257.35L196.99 1259.55L199.19 1257.35L201.39 1259.55L199.19 1261.75L201.39 1263.95L199.19 1266.15L196.99 1263.95L194.79 1266.15L192.59 1263.95L194.79 1261.75L192.59 1259.55Z"/>
<path d="M205.19 1255.38L207.39 1257.58L209.59 1255.38L211.79 1257.58L209.59 1259.78L211.79 1261.98L209.59 1264.18L207.39 1261.98L205.19 1264.18L202.99 1261.98L205.19 1259.78L202.99 1257.58Z"/>
<path d="M216.07 1252.11L218.27 1254.31L220.47 1252.11L222.67 1254.31L220.47 1256.51L222.67 1258.71L220.47 1260.91L218.27 1258.71L216.07 1260.91L213.87 1258.71L216.07 1256.51L213.87 1254.31Z"/>
<path d="M226.94 1248.71L229.14 1250.91L231.34 1248.71L233.54 1250.91L231.34 1253.11L233.54 1255.31L231.34 1257.51L229.14 1255.31L226.94 1257.51L224.74 1255.31L226.94 1253.11L224.74 1250.91Z"/>
<path d="M237.12 1245.44L239.32 1247.64L241.52 1245.44L243.72 1247.64L241.52 1249.84L243.72 1252.04L241.52 1254.24L239.32 1252.04L237.12 1254.24L234.92 1252.04L237.12 1249.84L234.92 1247.64Z"/>
<path d="M246.74 1241.96L248.94 1244.16L251.14 1241.96L253.34 1244.16L251.14 1246.36L253.34 1248.56L251.14 1250.76L248.94 1248.56L246.74 1250.76L244.54 1248.56L246.74 1246.36L244.54 1244.16Z"/>
<path d="M256.92 1236.93L259.12 1239.13L261.32 1236.93L263.52 1239.13L261.32 1241.33L263.52 1243.53L261.32 1245.73L259.12 1243.53L256.92 1245.73L254.72 1243.53L256.92 1241.33L254.72 1239.13Z"/>
<path d="M266.77 1231.70L268.97 1233.90L271.17 1231.70L273.37 1233.90L271.17 1236.10L273.37 1238.30L271.17 1240.50L268.97 1238.30L266.77 1240.50L264.57 1238.30L266.77 1236.10L264.57 1233.90Z"/>
<path d="M276.95 1227.09L279.15 1229.29L281.35 1227.09L283.55 1229.29L281.35 1231.49L283.55 1233.69L281.35 1235.89L279.15 1233.69L276.95 1235.89L274.75 1233.69L276.95 1231.49L274.75 1229.29Z"/>
<path d="M287.13 1220.49L289.33 1222.69L291.53 1220.49L293.73 1222.69L291.53 1224.89L293.73 1227.09L291.53 1229.29L289.33 1227.09L287.13 1229.29L284.93 1227.09L287.13 1224.89L284.93 1222.69Z"/>
<path d="M297.31 1213.98L299.51 1216.18L301.71 1213.98L303.91 1216.18L301.71 1218.38L303.91 1220.58L301.71 1222.78L299.51 1220.58L297.31 1222.78L295.11 1220.58L297.31 1218.38L295.11 1216.18Z"/>
<path d="M307.49 1206.34L309.69 1208.54L311.89 1206.34L314.09 1208.54L311.89 1210.74L314.09 1212.94L311.89 1215.14L309.69 1212.94L307.49 1215.14L305.29 1212.94L307.49 1210.74L305.29 1208.54Z"/>
<path d="M317.67 1198.75L319.87 1200.95L322.07 1198.75L324.27 1200.95L322.07 1203.15L324.27 1205.35L322.07 1207.55L319.87 1205.35L317.67 1207.55L315.47 1205.35L317.67 1203.15L315.47 1200.95Z"/>
<path d="M327.85 1190.60L330.05 1192.80L332.25 1190.60L334.45 1192.80L332.25 1195.00L334.45 1197.20L332.25 1199.40L330.05 1197.20L327.85 1199.40L325.65 1197.20L327.85 1195.00L325.65 1192.80Z"/>
<path d="M338.03 1182.40L340.23 1184.60L342.43 1182.40L344.63 1184.60L342.43 1186.80L344.63 1189.00L342.43 1191.20L340.23 1189.00L338.03 1191.20L335.83 1189.00L338.03 1186.80L335.83 1184.60Z"/>
<path d="M348.20 1174.18L350.40 1176.38L352.60 1174.18L354.80 1176.38L352.60 1178.58L354.80 1180.78L352.60 1182.98L350.40 1180.78L348.20 1182.98L346.00 1180.78L348.20 1178.58L346.00 1176.38Z"/>
<path d="M358.38 1167.91L360.58 1170.11L362.78 1167.91L364.98 1170.11L362.78 1172.31L364.98 1174.51L362.78 1176.71L360.58 1174.51L358.38 1176.71L356.18 1174.51L358.38 1172.31L356.18 1170.11Z"/>
<path d="M368.56 1162.31L370.76 1164.51L372.96 1162.31L375.16 1164.51L372.96 1166.71L375.16 1168.91L372.96 1171.11L370.76 1168.91L368.56 1171.11L366.36 1168.91L368.56 1166.71L366.36 1164.51Z"/>
<path d="M378.73 1156.75L380.93 1158.95L383.13 1156.75L385.33 1158.95L383.13 1161.15L385.33 1163.35L383.13 1165.55L380.93 1163.35L378.73 1165.55L376.53 1163.35L378.73 1161.15L376.53 1158.95Z"/>
<path d="M388.91 1153.08L391.11 1155.28L393.31 1153.08L395.51 1155.28L393.31 1157.48L395.51 1159.68L393.31 1161.88L391.11 1159.68L388.91 1161.88L386.71 1159.68L388.91 1157.48L386.71 1155.28Z"/>
<path d="M399.08 1151.85L401.28 1154.05L403.48 1151.85L405.68 1154.05L403.48 1156.25L405.68 1158.45L403.48 1160.65L401.28 1158.45L399.08 1160.65L396.88 1158.45L399.08 1156.25L396.88 1154.05Z"/>
<path d="M409.26 1152.26L411.46 1154.46L413.66 1152.26L415.86 1154.46L413.66 1156.66L415.86 1158.86L413.66 1161.06L411.46 1158.86L409.26 1161.06L407.06 1158.86L409.26 1156.66L407.06 1154.46Z"/>
<path d="M419.44 1150.56L421.64 1152.76L423.84 1150.56L426.04 1152.76L423.84 1154.96L426.04 1157.16L423.84 1159.36L421.64 1157.16L419.44 1159.36L417.24 1157.16L419.44 1154.96L417.24 1152.76Z"/>
<path d="M429.61 1147.51L431.81 1149.71L434.01 1147.51L436.21 1149.71L434.01 1151.91L436.21 1154.11L434.01 1156.31L431.81 1154.11L429.61 1156.31L427.41 1154.11L429.61 1151.91L427.41 1149.71Z"/>
<path d="M439.79 1143.12L441.99 1145.32L444.19 1143.12L446.39 1145.32L444.19 1147.52L446.39 1149.72L444.19 1151.92L441.99 1149.72L439.79 1151.92L437.59 1149.72L439.79 1147.52L437.59 1145.32Z"/>
<path d="M449.97 1140.28L452.17 1142.48L454.37 1140.28L456.57 1142.48L454.37 1144.68L456.57 1146.88L454.37 1149.08L452.17 1146.88L449.97 1149.08L447.77 1146.88L449.97 1144.68L447.77 1142.48Z"/>
<path d="M460.14 1138.27L462.34 1140.47L464.54 1138.27L466.74 1140.47L464.54 1142.67L466.74 1144.87L464.54 1147.07L462.34 1144.87L460.14 1147.07L457.94 1144.87L460.14 1142.67L457.94 1140.47Z"/>
<path d="M470.32 1136.02L472.52 1138.22L474.72 1136.02L476.92 1138.22L474.72 1140.42L476.92 1142.62L474.72 1144.82L472.52 1142.62L470.32 1144.82L468.12 1142.62L470.32 1140.42L468.12 1138.22Z"/>
<path d="M480.50 1131.36L482.70 1133.56L484.90 1131.36L487.10 1133.56L484.90 1135.76L487.10 1137.96L484.90 1140.16L482.70 1137.96L480.50 1140.16L478.30 1137.96L480.50 1135.76L478.30 1133.56Z"/>
<path d="M490.67 1127.76L492.87 1129.96L495.07 1127.76L497.27 1129.96L495.07 1132.16L497.27 1134.36L495.07 1136.56L492.87 1134.36L490.67 1136.56L488.47 1134.36L490.67 1132.16L488.47 1129.96Z"/>
<path d="M500.85 1122.35L503.05 1124.55L505.25 1122.35L507.45 1124.55L505.25 1126.75L507.45 1128.95L505.25 1131.15L503.05 1128.95L500.85 1131.15L498.65 1128.95L500.85 1126.75L498.65 1124.55Z"/>
<path d="M511.03 1121.33L513.23 1123.53L515.43 1121.33L517.63 1123.53L515.43 1125.73L517.63 1127.93L515.43 1130.13L513.23 1127.93L511.03 1130.13L508.83 1127.93L511.03 1125.73L508.83 1123.53Z"/>
<path d="M521.37 1111.59L523.57 1113.79L525.77 1111.59L527.97 1113.79L525.77 1115.99L527.97 1118.19L525.77 1120.39L523.57 1118.19L521.37 1120.39L519.17 1118.19L521.37 1115.99L519.17 1113.79Z"/>
<path d="M531.71 1103.31L533.91 1105.51L536.11 1103.31L538.31 1105.51L536.11 1107.71L538.31 1109.91L536.11 1112.11L533.91 1109.91L531.71 1112.11L529.51 1109.91L531.71 1107.71L529.51 1105.51Z"/>
<path d="M542.05 1098.04L544.25 1100.24L546.45 1098.04L548.65 1100.24L546.45 1102.44L548.65 1104.64L546.45 1106.84L544.25 1104.64L542.05 1106.84L539.85 1104.64L542.05 1102.44L539.85 1100.24Z"/>
<path d="M552.40 1096.73L554.60 1098.93L556.80 1096.73L559.00 1098.93L556.80 1101.13L559.00 1103.33L556.80 1105.53L554.60 1103.33L552.40 1105.53L550.20 1103.33L552.40 1101.13L550.20 1098.93Z"/>
<path d="M562.74 1085.97L564.94 1088.17L567.14 1085.97L569.34 1088.17L567.14 1090.37L569.34 1092.57L567.14 1094.77L564.94 1092.57L562.74 1094.77L560.54 1092.57L562.74 1090.37L560.54 1088.17Z"/>
<path d="M573.08 1075.97L575.28 1078.17L577.48 1075.97L579.68 1078.17L577.48 1080.37L579.68 1082.57L577.48 1084.77L575.28 1082.57L573.08 1084.77L570.88 1082.57L573.08 1080.37L570.88 1078.17Z"/>
<path d="M583.43 1070.26L585.63 1072.46L587.83 1070.26L590.03 1072.46L587.83 1074.66L590.03 1076.86L587.83 1079.06L585.63 1076.86L583.43 1079.06L581.23 1076.86L583.43 1074.66L581.23 1072.46Z"/>
<path d="M593.77 1065.70L595.97 1067.90L598.17 1065.70L600.37 1067.90L598.17 1070.10L600.37 1072.30L598.17 1074.50L595.97 1072.30L593.77 1074.50L591.57 1072.30L593.77 1070.10L591.57 1067.90Z"/>
<path d="M604.11 1056.21L606.31 1058.41L608.51 1056.21L610.71 1058.41L608.51 1060.61L610.71 1062.81L608.51 1065.01L606.31 1062.81L604.11 1065.01L601.91 1062.81L604.11 1060.61L601.91 1058.41Z"/>
<path d="M614.46 1048.28L616.66 1050.48L618.86 1048.28L621.06 1050.48L618.86 1052.68L621.06 1054.88L618.86 1057.08L616.66 1054.88L614.46 1057.08L612.26 1054.88L614.46 1052.68L612.26 1050.48Z"/>
<path d="M624.80 1042.46L627.00 1044.66L629.20 1042.46L631.40 1044.66L629.20 1046.86L631.40 1049.06L629.20 1051.26L627.00 1049.06L624.80 1051.26L622.60 1049.06L624.80 1046.86L622.60 1044.66Z"/>
<path d="M635.14 1039.40L637.34 1041.60L639.54 1039.40L641.74 1041.60L639.54 1043.80L641.74 1046.00L639.54 1048.20L637.34 1046.00L635.14 1048.20L632.94 1046.00L635.14 1043.80L632.94 1041.60Z"/>
<path d="M645.48 1029.59L647.68 1031.79L649.88 1029.59L652.08 1031.79L649.88 1033.99L652.08 1036.19L649.88 1038.39L647.68 1036.19L645.48 1038.39L643.28 1036.19L645.48 1033.99L643.28 1031.79Z"/>
<path d="M655.83 1021.33L658.03 1023.53L660.23 1021.33L662.43 1023.53L660.23 1025.73L662.43 1027.93L660.23 1030.13L658.03 1027.93L655.83 1030.13L653.63 1027.93L655.83 1025.73L653.63 1023.53Z"/>
<path d="M666.17 1013.07L668.37 1015.27L670.57 1013.07L672.77 1015.27L670.57 1017.47L672.77 1019.67L670.57 1021.87L668.37 1019.67L666.17 1021.87L663.97 1019.67L666.17 1017.47L663.97 1015.27Z"/>
<path d="M676.51 1004.81L678.71 1007.01L680.91 1004.81L683.11 1007.01L680.91 1009.21L683.11 1011.41L680.91 1013.61L678.71 1011.41L676.51 1013.61L674.31 1011.41L676.51 1009.21L674.31 1007.01Z"/>
<path d="M691.26 993.18L693.46 995.38L695.66 993.18L697.86 995.38L695.66 997.58L697.86 999.78L695.66 1001.98L693.46 999.78L691.26 1001.98L689.06 999.78L691.26 997.58L689.06 995.38Z"/>
<path d="M707.11 987.98L709.31 990.18L711.51 987.98L713.71 990.18L711.51 992.38L713.71 994.58L711.51 996.78L709.31 994.58L707.11 996.78L704.91 994.58L707.11 992.38L704.91 990.18Z"/>
<path d="M724.35 973.73L726.55 975.93L728.75 973.73L730.95 975.93L728.75 978.13L730.95 980.33L728.75 982.53L726.55 980.33L724.35 982.53L722.15 980.33L724.35 978.13L722.15 975.93Z"/>
<path d="M741.60 959.06L743.80 961.26L746.00 959.06L748.20 961.26L746.00 963.46L748.20 965.66L746.00 967.86L743.80 965.66L741.60 967.86L739.40 965.66L741.60 963.46L739.40 961.26Z"/>
<path d="M758.84 946.99L761.04 949.19L763.24 946.99L765.44 949.19L763.24 951.39L765.44 953.59L763.24 955.79L761.04 953.59L758.84 955.79L756.64 953.59L758.84 951.39L756.64 949.19Z"/>
<path d="M775.81 932.17L778.01 934.37L780.21 932.17L782.41 934.37L780.21 936.57L782.41 938.77L780.21 940.97L778.01 938.77L775.81 940.97L773.61 938.77L775.81 936.57L773.61 934.37Z"/>
<path d="M792.50 910.48L794.70 912.68L796.90 910.48L799.10 912.68L796.90 914.88L799.10 917.08L796.90 919.28L794.70 917.08L792.50 919.28L790.30 917.08L792.50 914.88L790.30 912.68Z"/>
<path d="M809.46 909.39L811.66 911.59L813.86 909.39L816.06 911.59L813.86 913.79L816.06 915.99L813.86 918.19L811.66 915.99L809.46 918.19L807.26 915.99L809.46 913.79L807.26 911.59Z"/>
<path d="M826.71 905.16L828.91 907.36L831.11 905.16L833.31 907.36L831.11 909.56L833.31 911.76L831.11 913.96L828.91 911.76L826.71 913.96L824.51 911.76L826.71 909.56L824.51 907.36Z"/>
<path d="M845.90 889.19L848.10 891.39L850.30 889.19L852.50 891.39L850.30 893.59L852.50 895.79L850.30 897.99L848.10 895.79L845.90 897.99L843.70 895.79L845.90 893.59L843.70 891.39Z"/>
</g>
<polyline points="171.40,1266.00 174.85,1263.20 178.29,1260.41 181.74,1257.63 185.19,1254.85 188.64,1252.07 192.08,1249.30 195.53,1246.54 198.98,1243.78 202.42,1241.02 205.87,1238.27 209.32,1235.53 212.77,1232.79 216.21,1230.05 219.66,1227.32 223.11,1224.60 226.56,1221.88 230.00,1219.16 233.45,1216.43 236.90,1213.69 240.34,1210.95 243.79,1208.20 247.24,1205.45 250.69,1202.71 254.13,1199.98 257.58,1197.26 261.03,1194.56 264.47,1191.88 267.92,1189.22 271.37,1186.59 274.82,1183.99 278.26,1181.43 281.71,1178.91 285.16,1176.43 288.60,1173.98 292.05,1171.55 295.50,1169.14 298.95,1166.74 302.39,1164.37 305.84,1162.01 309.29,1159.66 312.74,1157.33 316.18,1155.01 319.63,1152.71 323.08,1150.42 326.52,1148.14 329.97,1145.86 333.42,1143.60 336.87,1141.34 340.31,1139.10 343.76,1136.86 347.21,1134.62 350.65,1132.39 354.10,1130.16 357.55,1127.93 361.00,1125.71 364.44,1123.48 367.89,1121.26 371.34,1119.03 374.78,1116.80 378.23,1114.57 381.68,1112.34 385.13,1110.10 388.57,1107.85 392.02,1105.60 395.47,1103.34 398.91,1101.07 402.36,1098.80 405.81,1096.52 409.26,1094.24 412.70,1091.95 416.15,1089.66 419.60,1087.37 423.05,1085.08 426.49,1082.78 429.94,1080.48 433.39,1078.19 436.83,1075.89 440.28,1073.60 443.73,1071.31 447.18,1069.02 450.62,1066.73 454.07,1064.45 457.52,1062.17 460.96,1059.89 464.41,1057.62 467.86,1055.36 471.31,1053.10 474.75,1050.85 478.20,1048.60 481.65,1046.37 485.09,1044.14 488.54,1041.93 491.99,1039.72 495.44,1037.52 498.88,1035.34 502.33,1033.16 505.78,1031.00 509.23,1028.85 512.67,1026.72 516.12,1024.60 519.57,1022.49 523.01,1020.40 526.46,1018.32 529.91,1016.25 533.36,1014.19 536.80,1012.14 540.25,1010.09 543.70,1008.06 547.14,1006.04 550.59,1004.02 554.04,1002.01 557.49,1000.00 560.93,998.00 564.38,996.00 567.83,994.01 571.27,992.02 574.72,990.03 578.17,988.04 581.62,986.05 585.06,984.06 588.51,982.07 591.96,980.08 595.41,978.08 598.85,976.08 602.30,974.08 605.75,972.07 609.19,970.06 612.64,968.04 616.09,966.01 619.54,963.98 622.98,961.93 626.43,959.88 629.88,957.82 633.32,955.76 636.77,953.69 640.22,951.62 643.67,949.54 647.11,947.46 650.56,945.37 654.01,943.28 657.45,941.19 660.90,939.10 664.35,937.01 667.80,934.91 671.24,932.81 674.69,930.72 678.14,928.62 681.59,926.52 685.03,924.43 688.48,922.33 691.93,920.24 695.37,918.15 698.82,916.06 702.27,913.98 705.72,911.90 709.16,909.82 712.61,907.75 716.06,905.69 719.50,903.63 722.95,901.57 726.40,899.52 729.85,897.48 733.29,895.44 736.74,893.42 740.19,891.40 743.63,889.38 747.08,887.36 750.53,885.35 753.98,883.34 757.42,881.34 760.87,879.33 764.32,877.33 767.76,875.33 771.21,873.34 774.66,871.35 778.11,869.36 781.55,867.37 785.00,865.39 788.45,863.41 791.90,861.43 795.34,859.46 798.79,857.49 802.24,855.52 805.68,853.55 809.13,851.59 812.58,849.63 816.03,847.68 819.47,845.73 822.92,843.78 826.37,841.83 829.81,839.89 833.26,837.95 836.71,836.01 840.16,834.08 843.60,832.15 847.05,830.22 850.50,828.30 853.94,826.38 857.39,824.46" fill="none" stroke="#2e5b93" stroke-width="2.45" stroke-linejoin="round" clip-path="url(#cpc)"/>
<g stroke="#000" stroke-width="1.6" fill="none">
<line x1="171.40" y1="1295.6" x2="171.40" y2="1300.8999999999999"/>
<line x1="284.60" y1="1295.6" x2="284.60" y2="1300.8999999999999"/>
<line x1="397.80" y1="1295.6" x2="397.80" y2="1300.8999999999999"/>
<line x1="511.00" y1="1295.6" x2="511.00" y2="1300.8999999999999"/>
<line x1="624.20" y1="1295.6" x2="624.20" y2="1300.8999999999999"/>
<line x1="737.40" y1="1295.6" x2="737.40" y2="1300.8999999999999"/>
<line x1="850.60" y1="1295.6" x2="850.60" y2="1300.8999999999999"/>
<line x1="134.1" y1="1266.00" x2="128.79999999999998" y2="1266.00"/>
<line x1="134.1" y1="1169.70" x2="128.79999999999998" y2="1169.70"/>
<line x1="134.1" y1="1073.40" x2="128.79999999999998" y2="1073.40"/>
<line x1="134.1" y1="977.10" x2="128.79999999999998" y2="977.10"/>
<line x1="134.1" y1="880.80" x2="128.79999999999998" y2="880.80"/>
<line x1="134.1" y1="784.50" x2="128.79999999999998" y2="784.50"/>
<rect x="134.1" y="714.5" width="760.6" height="581.0999999999999"/>
</g>
<g font-family="'DejaVu Sans','Liberation Sans',sans-serif" font-size="30.0" fill="#000" stroke="#000" stroke-width="0.3">
<text transform="translate(171.40,1328.10) scale(0.96,1)" text-anchor="middle">1</text>
<text transform="translate(284.60,1328.10) scale(0.96,1)" text-anchor="middle">2</text>
<text transform="translate(397.80,1328.10) scale(0.96,1)" text-anchor="middle">3</text>
<text transform="translate(511.00,1328.10) scale(0.96,1)" text-anchor="middle">4</text>
<text transform="translate(624.20,1328.10) scale(0.96,1)" text-anchor="middle">5</text>
<text transform="translate(737.40,1328.10) scale(0.96,1)" text-anchor="middle">6</text>
<text transform="translate(850.60,1328.10) scale(0.96,1)" text-anchor="middle">7</text>
<text transform="translate(123.30,1276.93) scale(0.96,1)" text-anchor="end">1</text>
<text transform="translate(123.30,1180.63) scale(0.96,1)" text-anchor="end">2</text>
<text transform="translate(123.30,1084.34) scale(0.96,1)" text-anchor="end">3</text>
<text transform="translate(123.30,988.03) scale(0.96,1)" text-anchor="end">4</text>
<text transform="translate(123.30,891.73) scale(0.96,1)" text-anchor="end">5</text>
<text transform="translate(123.30,795.43) scale(0.96,1)" text-anchor="end">6</text>
</g>
<rect x="145.6" y="727.1" width="502.4" height="188.9" rx="4.5" fill="#fff" fill-opacity="0.8" stroke="#d2d2d2" stroke-opacity="0.85" stroke-width="1.6"/>
<line x1="154.9" y1="747.3" x2="206.2" y2="747.3" stroke="#2e5b93" stroke-width="2.1"/>
<text transform="translate(224.9,756.20) scale(0.9653,1)" font-family="'DejaVu Sans','Liberation Sans',sans-serif" font-size="25.4" stroke="#000" stroke-width="0.3">Theory</text>
<g fill="none" stroke="#973435" stroke-width="1.7"><rect x="176.30" y="781.80" width="8.80" height="8.80"/></g>
<text transform="translate(224.9,792.30) scale(0.9653,1)" font-family="'DejaVu Sans','Liberation Sans',sans-serif" font-size="25.4" stroke="#000" stroke-width="0.3">NIMROD, ramping rate<tspan dx="5.50" dy="-0.40">∼</tspan><tspan dx="4.30" dy="0.40">0.03T/μs</tspan></text>
<g fill="none" stroke="#6e9031" stroke-width="1.7"><circle cx="180.70" cy="822.60" r="4.40"/></g>
<text transform="translate(224.9,828.70) scale(0.9653,1)" font-family="'DejaVu Sans','Liberation Sans',sans-serif" font-size="25.4" stroke="#000" stroke-width="0.3">NIMROD, ramping rate<tspan dx="5.50" dy="-0.40">∼</tspan><tspan dx="4.30" dy="0.40">0.05T/μs</tspan></text>
<g fill="none" stroke="#6a488d" stroke-width="1.7"><path d="M179.23 854.90L182.17 854.90L182.17 857.83L185.10 857.83L185.10 860.77L182.17 860.77L182.17 863.70L179.23 863.70L179.23 860.77L176.30 860.77L176.30 857.83L179.23 857.83Z"/></g>
<text transform="translate(224.9,865.40) scale(0.9653,1)" font-family="'DejaVu Sans','Liberation Sans',sans-serif" font-size="25.4" stroke="#000" stroke-width="0.3">NIMROD, ramping rate<tspan dx="5.50" dy="-0.40">∼</tspan><tspan dx="4.30" dy="0.40">0.06T/μs</tspan></text>
<g fill="none" stroke="#2b8198" stroke-width="1.7"><path d="M178.50 891.30L180.70 893.50L182.90 891.30L185.10 893.50L182.90 895.70L185.10 897.90L182.90 900.10L180.70 897.90L178.50 900.10L176.30 897.90L178.50 895.70L176.30 893.50Z"/></g>
<text transform="translate(224.9,901.80) scale(0.9653,1)" font-family="'DejaVu Sans','Liberation Sans',sans-serif" font-size="25.4" stroke="#000" stroke-width="0.3">NIMROD, ramping rate<tspan dx="5.50" dy="-0.40">∼</tspan><tspan dx="4.30" dy="0.40">0.08T/μs</tspan></text>
<text transform="translate(513.2,1371.5) scale(0.949,1)" text-anchor="middle" font-family="'DejaVu Sans','Liberation Sans',sans-serif" font-size="42.3" stroke="#000" stroke-width="0.3"><tspan font-style="italic" font-size="42.30">B</tspan><tspan font-style="italic" font-size="29.61" dy="6.6" dx="0.4">w</tspan><tspan font-style="normal" font-size="29.61" dx="1.0">2</tspan><tspan font-style="normal" font-size="42.30" dy="-6.6" dx="3.2">/</tspan><tspan font-style="italic" font-size="42.30">B</tspan><tspan font-style="italic" font-size="29.61" dy="6.6" dx="0.6">w</tspan><tspan font-style="normal" font-size="29.61" dx="1.7">1</tspan></text>
<text transform="translate(91,1005.5) rotate(-90)" text-anchor="middle" font-family="'DejaVu Sans','Liberation Sans',sans-serif" font-size="42.3" stroke="#000" stroke-width="0.3"><tspan font-style="italic" font-size="42.30">T</tspan><tspan font-style="normal" font-size="29.61" dy="6.6">2</tspan><tspan font-style="normal" font-size="42.30" dy="-6.6">/</tspan><tspan font-style="italic" font-size="42.30">T</tspan><tspan font-style="normal" font-size="29.61" dy="6.6">1</tspan></text>
<text font-family="'Liberation Sans','DejaVu Sans',sans-serif" font-size="44" fill="#000" stroke="#000" stroke-linejoin="round"><tspan x="0.17" y="702.81" font-size="41.96" stroke-width="2.40" textLength="7.16" lengthAdjust="spacingAndGlyphs">(</tspan><tspan x="12.40" y="704.91" font-size="39.70" stroke-width="0.76" textLength="18.60" lengthAdjust="spacingAndGlyphs">c</tspan><tspan x="35.36" y="702.81" font-size="41.96" stroke-width="2.40" textLength="7.92" lengthAdjust="spacingAndGlyphs">)</tspan></text>
<clipPath id="cpd"><rect x="1089.3" y="712.9" width="756.9000000000001" height="580.1999999999999"/></clipPath>
<g stroke="#acacac" stroke-dasharray="7.7 1.9 1.3 1.9" fill="none">
<g stroke-width="1.25">
<line x1="1126.70" y1="1293.1" x2="1126.70" y2="712.9"/>
<line x1="1239.30" y1="1293.1" x2="1239.30" y2="712.9"/>
<line x1="1351.90" y1="1293.1" x2="1351.90" y2="712.9"/>
<line x1="1464.50" y1="1293.1" x2="1464.50" y2="712.9"/>
<line x1="1577.10" y1="1293.1" x2="1577.10" y2="712.9"/>
<line x1="1689.70" y1="1293.1" x2="1689.70" y2="712.9"/>
<line x1="1802.30" y1="1293.1" x2="1802.30" y2="712.9"/>
</g>
<g stroke-width="1.55">
<line x1="1089.3" y1="1291.10" x2="1846.2" y2="1291.10"/>
<line x1="1089.3" y1="1223.51" x2="1846.2" y2="1223.51"/>
<line x1="1089.3" y1="1155.92" x2="1846.2" y2="1155.92"/>
<line x1="1089.3" y1="1088.34" x2="1846.2" y2="1088.34"/>
<line x1="1089.3" y1="1020.75" x2="1846.2" y2="1020.75"/>
<line x1="1089.3" y1="953.16" x2="1846.2" y2="953.16"/>
<line x1="1089.3" y1="885.57" x2="1846.2" y2="885.57"/>
<line x1="1089.3" y1="817.99" x2="1846.2" y2="817.99"/>
<line x1="1089.3" y1="750.40" x2="1846.2" y2="750.40"/>
</g>
</g>
<g fill="none" stroke="#973435" stroke-width="1.7" stroke-linejoin="miter" clip-path="url(#cpd)">
<rect x="1122.30" y="1259.58" width="8.80" height="8.80"/>
<rect x="1131.29" y="1255.09" width="8.80" height="8.80"/>
<rect x="1141.11" y="1252.16" width="8.80" height="8.80"/>
<rect x="1152.93" y="1249.05" width="8.80" height="8.80"/>
<rect x="1165.60" y="1241.46" width="8.80" height="8.80"/>
<rect x="1177.08" y="1233.04" width="8.80" height="8.80"/>
<rect x="1189.25" y="1221.94" width="8.80" height="8.80"/>
<rect x="1201.29" y="1206.30" width="8.80" height="8.80"/>
<rect x="1213.32" y="1185.02" width="8.80" height="8.80"/>
<rect x="1225.36" y="1151.72" width="8.80" height="8.80"/>
<rect x="1237.39" y="1115.99" width="8.80" height="8.80"/>
<rect x="1249.42" y="1091.89" width="8.80" height="8.80"/>
<rect x="1261.46" y="1082.96" width="8.80" height="8.80"/>
<rect x="1273.31" y="1080.72" width="8.80" height="8.80"/>
<rect x="1285.17" y="1077.65" width="8.80" height="8.80"/>
<rect x="1297.30" y="1068.63" width="8.80" height="8.80"/>
<rect x="1309.43" y="1052.96" width="8.80" height="8.80"/>
<rect x="1321.69" y="1031.74" width="8.80" height="8.80"/>
<rect x="1333.94" y="1011.03" width="8.80" height="8.80"/>
<rect x="1346.53" y="996.74" width="8.80" height="8.80"/>
<rect x="1359.12" y="990.28" width="8.80" height="8.80"/>
<rect x="1371.79" y="982.13" width="8.80" height="8.80"/>
<rect x="1384.46" y="973.69" width="8.80" height="8.80"/>
<rect x="1397.38" y="963.29" width="8.80" height="8.80"/>
<rect x="1410.30" y="954.18" width="8.80" height="8.80"/>
<rect x="1423.03" y="947.99" width="8.80" height="8.80"/>
<rect x="1438.04" y="942.31" width="8.80" height="8.80"/>
<rect x="1453.05" y="937.11" width="8.80" height="8.80"/>
<rect x="1468.05" y="932.09" width="8.80" height="8.80"/>
<rect x="1483.06" y="928.20" width="8.80" height="8.80"/>
<rect x="1498.28" y="925.11" width="8.80" height="8.80"/>
<rect x="1513.50" y="922.24" width="8.80" height="8.80"/>
<rect x="1528.71" y="918.93" width="8.80" height="8.80"/>
<rect x="1543.93" y="915.72" width="8.80" height="8.80"/>
<rect x="1559.14" y="913.38" width="8.80" height="8.80"/>
<rect x="1575.00" y="910.21" width="8.80" height="8.80"/>
<rect x="1590.60" y="907.32" width="8.80" height="8.80"/>
<rect x="1606.51" y="904.49" width="8.80" height="8.80"/>
<rect x="1622.53" y="901.63" width="8.80" height="8.80"/>
<rect x="1639.04" y="898.92" width="8.80" height="8.80"/>
<rect x="1656.75" y="895.97" width="8.80" height="8.80"/>
<rect x="1673.65" y="893.34" width="8.80" height="8.80"/>
<rect x="1690.56" y="891.15" width="8.80" height="8.80"/>
<rect x="1708.01" y="889.38" width="8.80" height="8.80"/>
<rect x="1726.41" y="887.61" width="8.80" height="8.80"/>
<rect x="1746.16" y="886.26" width="8.80" height="8.80"/>
<rect x="1764.59" y="885.60" width="8.80" height="8.80"/>
<rect x="1783.51" y="884.73" width="8.80" height="8.80"/>
<rect x="1803.99" y="884.49" width="8.80" height="8.80"/>
</g>
<g fill="none" stroke="#6e9031" stroke-width="1.7" stroke-linejoin="miter" clip-path="url(#cpd)">
<circle cx="1126.70" cy="1263.99" r="4.40"/>
<circle cx="1139.98" cy="1260.35" r="4.40"/>
<circle cx="1153.81" cy="1254.02" r="4.40"/>
<circle cx="1170.69" cy="1245.05" r="4.40"/>
<circle cx="1186.87" cy="1236.45" r="4.40"/>
<circle cx="1203.06" cy="1225.30" r="4.40"/>
<circle cx="1219.38" cy="1205.86" r="4.40"/>
<circle cx="1235.63" cy="1179.05" r="4.40"/>
<circle cx="1251.89" cy="1136.08" r="4.40"/>
<circle cx="1268.14" cy="1086.73" r="4.40"/>
<circle cx="1284.40" cy="1050.11" r="4.40"/>
<circle cx="1300.84" cy="1032.08" r="4.40"/>
<circle cx="1317.29" cy="1026.30" r="4.40"/>
<circle cx="1333.74" cy="1021.19" r="4.40"/>
<circle cx="1350.19" cy="1012.02" r="4.40"/>
<circle cx="1366.64" cy="995.26" r="4.40"/>
<circle cx="1383.09" cy="971.93" r="4.40"/>
<circle cx="1399.54" cy="947.09" r="4.40"/>
<circle cx="1415.98" cy="924.73" r="4.40"/>
<circle cx="1432.43" cy="907.45" r="4.40"/>
<circle cx="1448.88" cy="895.35" r="4.40"/>
<circle cx="1465.33" cy="881.45" r="4.40"/>
<circle cx="1481.65" cy="867.54" r="4.40"/>
<circle cx="1498.81" cy="854.67" r="4.40"/>
<circle cx="1515.41" cy="844.54" r="4.40"/>
<circle cx="1537.81" cy="835.48" r="4.40"/>
<circle cx="1560.22" cy="828.89" r="4.40"/>
<circle cx="1584.57" cy="824.63" r="4.40"/>
<circle cx="1610.30" cy="821.99" r="4.40"/>
<circle cx="1636.03" cy="821.34" r="4.40"/>
<circle cx="1661.76" cy="822.26" r="4.40"/>
<circle cx="1689.15" cy="824.45" r="4.40"/>
<circle cx="1717.64" cy="827.82" r="4.40"/>
<circle cx="1746.14" cy="831.37" r="4.40"/>
<circle cx="1776.29" cy="834.04" r="4.40"/>
<circle cx="1803.96" cy="835.56" r="4.40"/>
</g>
<g fill="none" stroke="#6a488d" stroke-width="1.7" stroke-linejoin="miter" clip-path="url(#cpd)">
<path d="M1125.23 1259.59L1128.17 1259.59L1128.17 1262.52L1131.10 1262.52L1131.10 1265.46L1128.17 1265.46L1128.17 1268.39L1125.23 1268.39L1125.23 1265.46L1122.30 1265.46L1122.30 1262.52L1125.23 1262.52Z"/>
<path d="M1135.58 1256.94L1138.51 1256.94L1138.51 1259.87L1141.45 1259.87L1141.45 1262.81L1138.51 1262.81L1138.51 1265.74L1135.58 1265.74L1135.58 1262.81L1132.65 1262.81L1132.65 1259.87L1135.58 1259.87Z"/>
<path d="M1143.82 1254.13L1146.76 1254.13L1146.76 1257.07L1149.69 1257.07L1149.69 1260.00L1146.76 1260.00L1146.76 1262.93L1143.82 1262.93L1143.82 1260.00L1140.89 1260.00L1140.89 1257.07L1143.82 1257.07Z"/>
<path d="M1155.31 1247.65L1158.24 1247.65L1158.24 1250.58L1161.17 1250.58L1161.17 1253.52L1158.24 1253.52L1158.24 1256.45L1155.31 1256.45L1155.31 1253.52L1152.37 1253.52L1152.37 1250.58L1155.31 1250.58Z"/>
<path d="M1167.23 1241.55L1170.16 1241.55L1170.16 1244.49L1173.10 1244.49L1173.10 1247.42L1170.16 1247.42L1170.16 1250.35L1167.23 1250.35L1167.23 1247.42L1164.30 1247.42L1164.30 1244.49L1167.23 1244.49Z"/>
<path d="M1179.18 1236.35L1182.12 1236.35L1182.12 1239.28L1185.05 1239.28L1185.05 1242.21L1182.12 1242.21L1182.12 1245.15L1179.18 1245.15L1179.18 1242.21L1176.25 1242.21L1176.25 1239.28L1179.18 1239.28Z"/>
<path d="M1190.19 1231.71L1193.13 1231.71L1193.13 1234.65L1196.06 1234.65L1196.06 1237.58L1193.13 1237.58L1193.13 1240.51L1190.19 1240.51L1190.19 1237.58L1187.26 1237.58L1187.26 1234.65L1190.19 1234.65Z"/>
<path d="M1201.56 1221.57L1204.50 1221.57L1204.50 1224.50L1207.43 1224.50L1207.43 1227.44L1204.50 1227.44L1204.50 1230.37L1201.56 1230.37L1201.56 1227.44L1198.63 1227.44L1198.63 1224.50L1201.56 1224.50Z"/>
<path d="M1212.93 1210.39L1215.87 1210.39L1215.87 1213.32L1218.80 1213.32L1218.80 1216.26L1215.87 1216.26L1215.87 1219.19L1212.93 1219.19L1212.93 1216.26L1210.00 1216.26L1210.00 1213.32L1212.93 1213.32Z"/>
<path d="M1224.76 1195.79L1227.69 1195.79L1227.69 1198.73L1230.63 1198.73L1230.63 1201.66L1227.69 1201.66L1227.69 1204.59L1224.76 1204.59L1224.76 1201.66L1221.83 1201.66L1221.83 1198.73L1224.76 1198.73Z"/>
<path d="M1236.59 1179.49L1239.52 1179.49L1239.52 1182.42L1242.46 1182.42L1242.46 1185.36L1239.52 1185.36L1239.52 1188.29L1236.59 1188.29L1236.59 1185.36L1233.66 1185.36L1233.66 1182.42L1236.59 1182.42Z"/>
<path d="M1248.42 1155.84L1251.35 1155.84L1251.35 1158.77L1254.28 1158.77L1254.28 1161.70L1251.35 1161.70L1251.35 1164.64L1248.42 1164.64L1248.42 1161.70L1245.48 1161.70L1245.48 1158.77L1248.42 1158.77Z"/>
<path d="M1260.24 1118.51L1263.18 1118.51L1263.18 1121.45L1266.11 1121.45L1266.11 1124.38L1263.18 1124.38L1263.18 1127.31L1260.24 1127.31L1260.24 1124.38L1257.31 1124.38L1257.31 1121.45L1260.24 1121.45Z"/>
<path d="M1271.68 1087.23L1274.61 1087.23L1274.61 1090.16L1277.54 1090.16L1277.54 1093.09L1274.61 1093.09L1274.61 1096.03L1271.68 1096.03L1271.68 1093.09L1268.74 1093.09L1268.74 1090.16L1271.68 1090.16Z"/>
<path d="M1283.11 1052.01L1286.05 1052.01L1286.05 1054.94L1288.98 1054.94L1288.98 1057.88L1286.05 1057.88L1286.05 1060.81L1283.11 1060.81L1283.11 1057.88L1280.18 1057.88L1280.18 1054.94L1283.11 1054.94Z"/>
<path d="M1294.55 1030.46L1297.48 1030.46L1297.48 1033.40L1300.41 1033.40L1300.41 1036.33L1297.48 1036.33L1297.48 1039.26L1294.55 1039.26L1294.55 1036.33L1291.61 1036.33L1291.61 1033.40L1294.55 1033.40Z"/>
<path d="M1306.04 1011.53L1308.97 1011.53L1308.97 1014.46L1311.91 1014.46L1311.91 1017.39L1308.97 1017.39L1308.97 1020.33L1306.04 1020.33L1306.04 1017.39L1303.11 1017.39L1303.11 1014.46L1306.04 1014.46Z"/>
<path d="M1317.53 1006.41L1320.46 1006.41L1320.46 1009.34L1323.40 1009.34L1323.40 1012.28L1320.46 1012.28L1320.46 1015.21L1317.53 1015.21L1317.53 1012.28L1314.60 1012.28L1314.60 1009.34L1317.53 1009.34Z"/>
<path d="M1329.02 996.90L1331.95 996.90L1331.95 999.83L1334.89 999.83L1334.89 1002.77L1331.95 1002.77L1331.95 1005.70L1329.02 1005.70L1329.02 1002.77L1326.09 1002.77L1326.09 999.83L1329.02 999.83Z"/>
<path d="M1340.51 997.88L1343.44 997.88L1343.44 1000.81L1346.38 1000.81L1346.38 1003.75L1343.44 1003.75L1343.44 1006.68L1340.51 1006.68L1340.51 1003.75L1337.58 1003.75L1337.58 1000.81L1340.51 1000.81Z"/>
<path d="M1352.00 990.29L1354.93 990.29L1354.93 993.23L1357.87 993.23L1357.87 996.16L1354.93 996.16L1354.93 999.09L1352.00 999.09L1352.00 996.16L1349.07 996.16L1349.07 993.23L1352.00 993.23Z"/>
<path d="M1363.49 984.11L1366.42 984.11L1366.42 987.04L1369.36 987.04L1369.36 989.98L1366.42 989.98L1366.42 992.91L1363.49 992.91L1363.49 989.98L1360.56 989.98L1360.56 987.04L1363.49 987.04Z"/>
<path d="M1374.98 975.09L1377.92 975.09L1377.92 978.02L1380.85 978.02L1380.85 980.96L1377.92 980.96L1377.92 983.89L1374.98 983.89L1374.98 980.96L1372.05 980.96L1372.05 978.02L1374.98 978.02Z"/>
<path d="M1386.47 962.72L1389.41 962.72L1389.41 965.65L1392.34 965.65L1392.34 968.59L1389.41 968.59L1389.41 971.52L1386.47 971.52L1386.47 968.59L1383.54 968.59L1383.54 965.65L1386.47 965.65Z"/>
<path d="M1397.96 947.86L1400.90 947.86L1400.90 950.80L1403.83 950.80L1403.83 953.73L1400.90 953.73L1400.90 956.66L1397.96 956.66L1397.96 953.73L1395.03 953.73L1395.03 950.80L1397.96 950.80Z"/>
<path d="M1409.45 932.54L1412.39 932.54L1412.39 935.48L1415.32 935.48L1415.32 938.41L1412.39 938.41L1412.39 941.34L1409.45 941.34L1409.45 938.41L1406.52 938.41L1406.52 935.48L1409.45 935.48Z"/>
<path d="M1420.94 916.20L1423.88 916.20L1423.88 919.14L1426.81 919.14L1426.81 922.07L1423.88 922.07L1423.88 925.00L1420.94 925.00L1420.94 922.07L1418.01 922.07L1418.01 919.14L1420.94 919.14Z"/>
<path d="M1432.43 900.55L1435.37 900.55L1435.37 903.48L1438.30 903.48L1438.30 906.41L1435.37 906.41L1435.37 909.35L1432.43 909.35L1432.43 906.41L1429.50 906.41L1429.50 903.48L1432.43 903.48Z"/>
<path d="M1443.93 886.12L1446.86 886.12L1446.86 889.06L1449.79 889.06L1449.79 891.99L1446.86 891.99L1446.86 894.92L1443.93 894.92L1443.93 891.99L1440.99 891.99L1440.99 889.06L1443.93 889.06Z"/>
<path d="M1455.42 872.74L1458.35 872.74L1458.35 875.68L1461.28 875.68L1461.28 878.61L1458.35 878.61L1458.35 881.54L1455.42 881.54L1455.42 878.61L1452.48 878.61L1452.48 875.68L1455.42 875.68Z"/>
<path d="M1466.91 862.72L1469.84 862.72L1469.84 865.65L1472.77 865.65L1472.77 868.58L1469.84 868.58L1469.84 871.52L1466.91 871.52L1466.91 868.58L1463.97 868.58L1463.97 865.65L1466.91 865.65Z"/>
<path d="M1479.12 853.12L1482.05 853.12L1482.05 856.06L1484.99 856.06L1484.99 858.99L1482.05 858.99L1482.05 861.92L1479.12 861.92L1479.12 858.99L1476.19 858.99L1476.19 856.06L1479.12 856.06Z"/>
<path d="M1491.33 843.45L1494.26 843.45L1494.26 846.38L1497.20 846.38L1497.20 849.32L1494.26 849.32L1494.26 852.25L1491.33 852.25L1491.33 849.32L1488.40 849.32L1488.40 846.38L1491.33 846.38Z"/>
<path d="M1503.54 834.29L1506.48 834.29L1506.48 837.22L1509.41 837.22L1509.41 840.15L1506.48 840.15L1506.48 843.09L1503.54 843.09L1503.54 840.15L1500.61 840.15L1500.61 837.22L1503.54 837.22Z"/>
<path d="M1515.76 824.46L1518.69 824.46L1518.69 827.40L1521.62 827.40L1521.62 830.33L1518.69 830.33L1518.69 833.26L1515.76 833.26L1515.76 830.33L1512.82 830.33L1512.82 827.40L1515.76 827.40Z"/>
<path d="M1527.97 815.44L1530.90 815.44L1530.90 818.38L1533.84 818.38L1533.84 821.31L1530.90 821.31L1530.90 824.24L1527.97 824.24L1527.97 821.31L1525.04 821.31L1525.04 818.38L1527.97 818.38Z"/>
<path d="M1540.18 807.05L1543.11 807.05L1543.11 809.98L1546.05 809.98L1546.05 812.92L1543.11 812.92L1543.11 815.85L1540.18 815.85L1540.18 812.92L1537.25 812.92L1537.25 809.98L1540.18 809.98Z"/>
<path d="M1552.39 799.75L1555.33 799.75L1555.33 802.68L1558.26 802.68L1558.26 805.62L1555.33 805.62L1555.33 808.55L1552.39 808.55L1552.39 805.62L1549.46 805.62L1549.46 802.68L1552.39 802.68Z"/>
<path d="M1567.06 794.02L1569.99 794.02L1569.99 796.95L1572.92 796.95L1572.92 799.88L1569.99 799.88L1569.99 802.82L1567.06 802.82L1567.06 799.88L1564.12 799.88L1564.12 796.95L1567.06 796.95Z"/>
<path d="M1584.21 788.23L1587.14 788.23L1587.14 791.17L1590.08 791.17L1590.08 794.10L1587.14 794.10L1587.14 797.03L1584.21 797.03L1584.21 794.10L1581.28 794.10L1581.28 791.17L1584.21 791.17Z"/>
<path d="M1601.36 783.75L1604.30 783.75L1604.30 786.68L1607.23 786.68L1607.23 789.61L1604.30 789.61L1604.30 792.55L1601.36 792.55L1601.36 789.61L1598.43 789.61L1598.43 786.68L1601.36 786.68Z"/>
<path d="M1619.07 780.23L1622.00 780.23L1622.00 783.16L1624.94 783.16L1624.94 786.10L1622.00 786.10L1622.00 789.03L1619.07 789.03L1619.07 786.10L1616.14 786.10L1616.14 783.16L1619.07 783.16Z"/>
<path d="M1638.16 778.01L1641.09 778.01L1641.09 780.94L1644.02 780.94L1644.02 783.87L1641.09 783.87L1641.09 786.81L1638.16 786.81L1638.16 783.87L1635.22 783.87L1635.22 780.94L1638.16 780.94Z"/>
<path d="M1656.97 775.59L1659.90 775.59L1659.90 778.52L1662.84 778.52L1662.84 781.46L1659.90 781.46L1659.90 784.39L1656.97 784.39L1656.97 781.46L1654.04 781.46L1654.04 778.52L1656.97 778.52Z"/>
<path d="M1676.34 774.70L1679.27 774.70L1679.27 777.64L1682.20 777.64L1682.20 780.57L1679.27 780.57L1679.27 783.50L1676.34 783.50L1676.34 780.57L1673.40 780.57L1673.40 777.64L1676.34 777.64Z"/>
<path d="M1694.87 774.49L1697.81 774.49L1697.81 777.42L1700.74 777.42L1700.74 780.36L1697.81 780.36L1697.81 783.29L1694.87 783.29L1694.87 780.36L1691.94 780.36L1691.94 777.42L1694.87 777.42Z"/>
<path d="M1714.52 776.08L1717.45 776.08L1717.45 779.02L1720.38 779.02L1720.38 781.95L1717.45 781.95L1717.45 784.88L1714.52 784.88L1714.52 781.95L1711.58 781.95L1711.58 779.02L1714.52 779.02Z"/>
<path d="M1734.44 777.87L1737.37 777.87L1737.37 780.81L1740.30 780.81L1740.30 783.74L1737.37 783.74L1737.37 786.67L1734.44 786.67L1734.44 783.74L1731.50 783.74L1731.50 780.81L1734.44 780.81Z"/>
<path d="M1753.80 779.64L1756.73 779.64L1756.73 782.57L1759.67 782.57L1759.67 785.51L1756.73 785.51L1756.73 788.44L1753.80 788.44L1753.80 785.51L1750.87 785.51L1750.87 782.57L1753.80 782.57Z"/>
<path d="M1775.38 781.90L1778.31 781.90L1778.31 784.84L1781.25 784.84L1781.25 787.77L1778.31 787.77L1778.31 790.70L1775.38 790.70L1775.38 787.77L1772.45 787.77L1772.45 784.84L1775.38 784.84Z"/>
<path d="M1795.85 783.82L1798.79 783.82L1798.79 786.76L1801.72 786.76L1801.72 789.69L1798.79 789.69L1798.79 792.62L1795.85 792.62L1795.85 789.69L1792.92 789.69L1792.92 786.76L1795.85 786.76Z"/>
</g>
<g fill="none" stroke="#2b8198" stroke-width="1.7" stroke-linejoin="miter" clip-path="url(#cpd)">
<path d="M1124.50 1259.59L1126.70 1261.79L1128.90 1259.59L1131.10 1261.79L1128.90 1263.99L1131.10 1266.19L1128.90 1268.39L1126.70 1266.19L1124.50 1268.39L1122.30 1266.19L1124.50 1263.99L1122.30 1261.79Z"/>
<path d="M1133.85 1257.37L1136.05 1259.57L1138.25 1257.37L1140.45 1259.57L1138.25 1261.77L1140.45 1263.97L1138.25 1266.17L1136.05 1263.97L1133.85 1266.17L1131.65 1263.97L1133.85 1261.77L1131.65 1259.57Z"/>
<path d="M1141.74 1254.80L1143.94 1257.00L1146.14 1254.80L1148.34 1257.00L1146.14 1259.20L1148.34 1261.40L1146.14 1263.60L1143.94 1261.40L1141.74 1263.60L1139.54 1261.40L1141.74 1259.20L1139.54 1257.00Z"/>
<path d="M1149.95 1251.64L1152.15 1253.84L1154.35 1251.64L1156.55 1253.84L1154.35 1256.04L1156.55 1258.24L1154.35 1260.44L1152.15 1258.24L1149.95 1260.44L1147.75 1258.24L1149.95 1256.04L1147.75 1253.84Z"/>
<path d="M1160.30 1244.72L1162.50 1246.92L1164.70 1244.72L1166.90 1246.92L1164.70 1249.12L1166.90 1251.32L1164.70 1253.52L1162.50 1251.32L1160.30 1253.52L1158.10 1251.32L1160.30 1249.12L1158.10 1246.92Z"/>
<path d="M1171.12 1239.91L1173.32 1242.11L1175.52 1239.91L1177.72 1242.11L1175.52 1244.31L1177.72 1246.51L1175.52 1248.71L1173.32 1246.51L1171.12 1248.71L1168.92 1246.51L1171.12 1244.31L1168.92 1242.11Z"/>
<path d="M1181.93 1237.07L1184.13 1239.27L1186.33 1237.07L1188.53 1239.27L1186.33 1241.47L1188.53 1243.67L1186.33 1245.87L1184.13 1243.67L1181.93 1245.87L1179.73 1243.67L1181.93 1241.47L1179.73 1239.27Z"/>
<path d="M1192.06 1233.75L1194.26 1235.95L1196.46 1233.75L1198.66 1235.95L1196.46 1238.15L1198.66 1240.35L1196.46 1242.55L1194.26 1240.35L1192.06 1242.55L1189.86 1240.35L1192.06 1238.15L1189.86 1235.95Z"/>
<path d="M1201.63 1225.05L1203.83 1227.25L1206.03 1225.05L1208.23 1227.25L1206.03 1229.45L1208.23 1231.65L1206.03 1233.85L1203.83 1231.65L1201.63 1233.85L1199.43 1231.65L1201.63 1229.45L1199.43 1227.25Z"/>
<path d="M1211.76 1213.98L1213.96 1216.18L1216.16 1213.98L1218.36 1216.18L1216.16 1218.38L1218.36 1220.58L1216.16 1222.78L1213.96 1220.58L1211.76 1222.78L1209.56 1220.58L1211.76 1218.38L1209.56 1216.18Z"/>
<path d="M1221.55 1206.07L1223.75 1208.27L1225.95 1206.07L1228.15 1208.27L1225.95 1210.47L1228.15 1212.67L1225.95 1214.87L1223.75 1212.67L1221.55 1214.87L1219.35 1212.67L1221.55 1210.47L1219.35 1208.27Z"/>
<path d="M1231.68 1196.82L1233.88 1199.02L1236.08 1196.82L1238.28 1199.02L1236.08 1201.22L1238.28 1203.42L1236.08 1205.62L1233.88 1203.42L1231.68 1205.62L1229.48 1203.42L1231.68 1201.22L1229.48 1199.02Z"/>
<path d="M1241.80 1181.81L1244.00 1184.01L1246.20 1181.81L1248.40 1184.01L1246.20 1186.21L1248.40 1188.41L1246.20 1190.61L1244.00 1188.41L1241.80 1190.61L1239.60 1188.41L1241.80 1186.21L1239.60 1184.01Z"/>
<path d="M1251.93 1163.51L1254.13 1165.71L1256.33 1163.51L1258.53 1165.71L1256.33 1167.91L1258.53 1170.11L1256.33 1172.31L1254.13 1170.11L1251.93 1172.31L1249.73 1170.11L1251.93 1167.91L1249.73 1165.71Z"/>
<path d="M1262.05 1140.81L1264.25 1143.01L1266.45 1140.81L1268.65 1143.01L1266.45 1145.21L1268.65 1147.41L1266.45 1149.61L1264.25 1147.41L1262.05 1149.61L1259.85 1147.41L1262.05 1145.21L1259.85 1143.01Z"/>
<path d="M1272.18 1115.24L1274.38 1117.44L1276.58 1115.24L1278.78 1117.44L1276.58 1119.64L1278.78 1121.84L1276.58 1124.04L1274.38 1121.84L1272.18 1124.04L1269.98 1121.84L1272.18 1119.64L1269.98 1117.44Z"/>
<path d="M1282.31 1080.39L1284.51 1082.59L1286.71 1080.39L1288.91 1082.59L1286.71 1084.79L1288.91 1086.99L1286.71 1089.19L1284.51 1086.99L1282.31 1089.19L1280.11 1086.99L1282.31 1084.79L1280.11 1082.59Z"/>
<path d="M1292.43 1052.14L1294.63 1054.34L1296.83 1052.14L1299.03 1054.34L1296.83 1056.54L1299.03 1058.74L1296.83 1060.94L1294.63 1058.74L1292.43 1060.94L1290.23 1058.74L1292.43 1056.54L1290.23 1054.34Z"/>
<path d="M1302.55 1031.20L1304.75 1033.40L1306.95 1031.20L1309.15 1033.40L1306.95 1035.60L1309.15 1037.80L1306.95 1040.00L1304.75 1037.80L1302.55 1040.00L1300.35 1037.80L1302.55 1035.60L1300.35 1033.40Z"/>
<path d="M1312.68 996.83L1314.88 999.03L1317.08 996.83L1319.28 999.03L1317.08 1001.23L1319.28 1003.43L1317.08 1005.63L1314.88 1003.43L1312.68 1005.63L1310.48 1003.43L1312.68 1001.23L1310.48 999.03Z"/>
<path d="M1322.80 995.99L1325.00 998.19L1327.20 995.99L1329.40 998.19L1327.20 1000.39L1329.40 1002.59L1327.20 1004.79L1325.00 1002.59L1322.80 1004.79L1320.60 1002.59L1322.80 1000.39L1320.60 998.19Z"/>
<path d="M1332.92 970.47L1335.12 972.67L1337.32 970.47L1339.52 972.67L1337.32 974.87L1339.52 977.07L1337.32 979.27L1335.12 977.07L1332.92 979.27L1330.72 977.07L1332.92 974.87L1330.72 972.67Z"/>
<path d="M1343.04 969.38L1345.24 971.58L1347.44 969.38L1349.64 971.58L1347.44 973.78L1349.64 975.98L1347.44 978.18L1345.24 975.98L1343.04 978.18L1340.84 975.98L1343.04 973.78L1340.84 971.58Z"/>
<path d="M1353.17 963.78L1355.37 965.98L1357.57 963.78L1359.77 965.98L1357.57 968.18L1359.77 970.38L1357.57 972.58L1355.37 970.38L1353.17 972.58L1350.97 970.38L1353.17 968.18L1350.97 965.98Z"/>
<path d="M1363.29 953.85L1365.49 956.05L1367.69 953.85L1369.89 956.05L1367.69 958.25L1369.89 960.45L1367.69 962.65L1365.49 960.45L1363.29 962.65L1361.09 960.45L1363.29 958.25L1361.09 956.05Z"/>
<path d="M1373.41 953.28L1375.61 955.48L1377.81 953.28L1380.01 955.48L1377.81 957.68L1380.01 959.88L1377.81 962.08L1375.61 959.88L1373.41 962.08L1371.21 959.88L1373.41 957.68L1371.21 955.48Z"/>
<path d="M1383.53 943.24L1385.73 945.44L1387.93 943.24L1390.13 945.44L1387.93 947.64L1390.13 949.84L1387.93 952.04L1385.73 949.84L1383.53 952.04L1381.33 949.84L1383.53 947.64L1381.33 945.44Z"/>
<path d="M1393.66 936.51L1395.86 938.71L1398.06 936.51L1400.26 938.71L1398.06 940.91L1400.26 943.11L1398.06 945.31L1395.86 943.11L1393.66 945.31L1391.46 943.11L1393.66 940.91L1391.46 938.71Z"/>
<path d="M1403.78 927.17L1405.98 929.37L1408.18 927.17L1410.38 929.37L1408.18 931.57L1410.38 933.77L1408.18 935.97L1405.98 933.77L1403.78 935.97L1401.58 933.77L1403.78 931.57L1401.58 929.37Z"/>
<path d="M1413.90 917.48L1416.10 919.68L1418.30 917.48L1420.50 919.68L1418.30 921.88L1420.50 924.08L1418.30 926.28L1416.10 924.08L1413.90 926.28L1411.70 924.08L1413.90 921.88L1411.70 919.68Z"/>
<path d="M1424.02 905.55L1426.22 907.75L1428.42 905.55L1430.62 907.75L1428.42 909.95L1430.62 912.15L1428.42 914.35L1426.22 912.15L1424.02 914.35L1421.82 912.15L1424.02 909.95L1421.82 907.75Z"/>
<path d="M1434.15 894.88L1436.35 897.08L1438.55 894.88L1440.75 897.08L1438.55 899.28L1440.75 901.48L1438.55 903.68L1436.35 901.48L1434.15 903.68L1431.95 901.48L1434.15 899.28L1431.95 897.08Z"/>
<path d="M1444.27 883.37L1446.47 885.57L1448.67 883.37L1450.87 885.57L1448.67 887.77L1450.87 889.97L1448.67 892.17L1446.47 889.97L1444.27 892.17L1442.07 889.97L1444.27 887.77L1442.07 885.57Z"/>
<path d="M1454.39 872.41L1456.59 874.61L1458.79 872.41L1460.99 874.61L1458.79 876.81L1460.99 879.01L1458.79 881.21L1456.59 879.01L1454.39 881.21L1452.19 879.01L1454.39 876.81L1452.19 874.61Z"/>
<path d="M1464.51 862.54L1466.71 864.74L1468.91 862.54L1471.11 864.74L1468.91 866.94L1471.11 869.14L1468.91 871.34L1466.71 869.14L1464.51 871.34L1462.31 869.14L1464.51 866.94L1462.31 864.74Z"/>
<path d="M1474.80 851.20L1477.00 853.40L1479.20 851.20L1481.40 853.40L1479.20 855.60L1481.40 857.80L1479.20 860.00L1477.00 857.80L1474.80 860.00L1472.60 857.80L1474.80 855.60L1472.60 853.40Z"/>
<path d="M1485.09 840.85L1487.29 843.05L1489.49 840.85L1491.69 843.05L1489.49 845.25L1491.69 847.45L1489.49 849.65L1487.29 847.45L1485.09 849.65L1482.89 847.45L1485.09 845.25L1482.89 843.05Z"/>
<path d="M1495.38 831.34L1497.58 833.54L1499.78 831.34L1501.98 833.54L1499.78 835.74L1501.98 837.94L1499.78 840.14L1497.58 837.94L1495.38 840.14L1493.18 837.94L1495.38 835.74L1493.18 833.54Z"/>
<path d="M1505.67 822.53L1507.87 824.73L1510.07 822.53L1512.27 824.73L1510.07 826.93L1512.27 829.13L1510.07 831.33L1507.87 829.13L1505.67 831.33L1503.47 829.13L1505.67 826.93L1503.47 824.73Z"/>
<path d="M1515.95 814.49L1518.15 816.69L1520.35 814.49L1522.55 816.69L1520.35 818.89L1522.55 821.09L1520.35 823.29L1518.15 821.09L1515.95 823.29L1513.75 821.09L1515.95 818.89L1513.75 816.69Z"/>
<path d="M1526.24 806.95L1528.44 809.15L1530.64 806.95L1532.84 809.15L1530.64 811.35L1532.84 813.55L1530.64 815.75L1528.44 813.55L1526.24 815.75L1524.04 813.55L1526.24 811.35L1524.04 809.15Z"/>
<path d="M1536.53 800.29L1538.73 802.49L1540.93 800.29L1543.13 802.49L1540.93 804.69L1543.13 806.89L1540.93 809.09L1538.73 806.89L1536.53 809.09L1534.33 806.89L1536.53 804.69L1534.33 802.49Z"/>
<path d="M1546.82 793.95L1549.02 796.15L1551.22 793.95L1553.42 796.15L1551.22 798.35L1553.42 800.55L1551.22 802.75L1549.02 800.55L1546.82 802.75L1544.62 800.55L1546.82 798.35L1544.62 796.15Z"/>
<path d="M1557.11 787.62L1559.31 789.82L1561.51 787.62L1563.71 789.82L1561.51 792.02L1563.71 794.22L1561.51 796.42L1559.31 794.22L1557.11 796.42L1554.91 794.22L1557.11 792.02L1554.91 789.82Z"/>
<path d="M1567.40 781.51L1569.60 783.71L1571.80 781.51L1574.00 783.71L1571.80 785.91L1574.00 788.11L1571.80 790.31L1569.60 788.11L1567.40 790.31L1565.20 788.11L1567.40 785.91L1565.20 783.71Z"/>
<path d="M1577.68 775.60L1579.88 777.80L1582.08 775.60L1584.28 777.80L1582.08 780.00L1584.28 782.20L1582.08 784.40L1579.88 782.20L1577.68 784.40L1575.48 782.20L1577.68 780.00L1575.48 777.80Z"/>
<path d="M1587.97 769.72L1590.17 771.92L1592.37 769.72L1594.57 771.92L1592.37 774.12L1594.57 776.32L1592.37 778.52L1590.17 776.32L1587.97 778.52L1585.77 776.32L1587.97 774.12L1585.77 771.92Z"/>
<path d="M1598.26 764.27L1600.46 766.47L1602.66 764.27L1604.86 766.47L1602.66 768.67L1604.86 770.87L1602.66 773.07L1600.46 770.87L1598.26 773.07L1596.06 770.87L1598.26 768.67L1596.06 766.47Z"/>
<path d="M1608.55 759.47L1610.75 761.67L1612.95 759.47L1615.15 761.67L1612.95 763.87L1615.15 766.07L1612.95 768.27L1610.75 766.07L1608.55 768.27L1606.35 766.07L1608.55 763.87L1606.35 761.67Z"/>
<path d="M1618.84 755.24L1621.04 757.44L1623.24 755.24L1625.44 757.44L1623.24 759.64L1625.44 761.84L1623.24 764.04L1621.04 761.84L1618.84 764.04L1616.64 761.84L1618.84 759.64L1616.64 757.44Z"/>
<path d="M1629.13 751.33L1631.33 753.53L1633.53 751.33L1635.73 753.53L1633.53 755.73L1635.73 757.93L1633.53 760.13L1631.33 757.93L1629.13 760.13L1626.93 757.93L1629.13 755.73L1626.93 753.53Z"/>
<path d="M1643.79 747.97L1645.99 750.17L1648.19 747.97L1650.39 750.17L1648.19 752.37L1650.39 754.57L1648.19 756.77L1645.99 754.57L1643.79 756.77L1641.59 754.57L1643.79 752.37L1641.59 750.17Z"/>
<path d="M1659.56 745.32L1661.76 747.52L1663.96 745.32L1666.16 747.52L1663.96 749.72L1666.16 751.92L1663.96 754.12L1661.76 751.92L1659.56 754.12L1657.36 751.92L1659.56 749.72L1657.36 747.52Z"/>
<path d="M1676.71 742.88L1678.91 745.08L1681.11 742.88L1683.31 745.08L1681.11 747.28L1683.31 749.48L1681.11 751.68L1678.91 749.48L1676.71 751.68L1674.51 749.48L1676.71 747.28L1674.51 745.08Z"/>
<path d="M1693.86 740.89L1696.06 743.09L1698.26 740.89L1700.46 743.09L1698.26 745.29L1700.46 747.49L1698.26 749.69L1696.06 747.49L1693.86 749.69L1691.66 747.49L1693.86 745.29L1691.66 743.09Z"/>
<path d="M1711.02 739.58L1713.22 741.78L1715.42 739.58L1717.62 741.78L1715.42 743.98L1717.62 746.18L1715.42 748.38L1713.22 746.18L1711.02 748.38L1708.82 746.18L1711.02 743.98L1708.82 741.78Z"/>
<path d="M1727.89 738.49L1730.09 740.69L1732.29 738.49L1734.49 740.69L1732.29 742.89L1734.49 745.09L1732.29 747.29L1730.09 745.09L1727.89 747.29L1725.69 745.09L1727.89 742.89L1725.69 740.69Z"/>
<path d="M1744.49 737.83L1746.69 740.03L1748.89 737.83L1751.09 740.03L1748.89 742.23L1751.09 744.43L1748.89 746.63L1746.69 744.43L1744.49 746.63L1742.29 744.43L1744.49 742.23L1742.29 740.03Z"/>
<path d="M1761.37 737.82L1763.57 740.02L1765.77 737.82L1767.97 740.02L1765.77 742.22L1767.97 744.42L1765.77 746.62L1763.57 744.42L1761.37 746.62L1759.17 744.42L1761.37 742.22L1759.17 740.02Z"/>
<path d="M1778.52 738.27L1780.72 740.47L1782.92 738.27L1785.12 740.47L1782.92 742.67L1785.12 744.87L1782.92 747.07L1780.72 744.87L1778.52 747.07L1776.32 744.87L1778.52 742.67L1776.32 740.47Z"/>
<path d="M1797.61 738.49L1799.81 740.69L1802.01 738.49L1804.21 740.69L1802.01 742.89L1804.21 745.09L1802.01 747.29L1799.81 745.09L1797.61 747.29L1795.41 745.09L1797.61 742.89L1795.41 740.69Z"/>
</g>
<polyline points="1126.70,1264.06 1130.13,1263.21 1133.56,1262.35 1136.99,1261.49 1140.42,1260.62 1143.84,1259.76 1147.27,1258.89 1150.70,1258.02 1154.13,1257.15 1157.56,1256.28 1160.99,1255.40 1164.42,1254.52 1167.85,1253.65 1171.28,1252.76 1174.70,1251.88 1178.13,1251.00 1181.56,1250.11 1184.99,1249.22 1188.42,1248.33 1191.85,1247.45 1195.28,1246.57 1198.71,1245.68 1202.14,1244.80 1205.57,1243.91 1208.99,1243.02 1212.42,1242.12 1215.85,1241.22 1219.28,1240.32 1222.71,1239.40 1226.14,1238.48 1229.57,1237.56 1233.00,1236.62 1236.43,1235.67 1239.85,1234.71 1243.28,1233.74 1246.71,1232.77 1250.14,1231.79 1253.57,1230.80 1257.00,1229.80 1260.43,1228.80 1263.86,1227.80 1267.29,1226.79 1270.71,1225.77 1274.14,1224.75 1277.57,1223.73 1281.00,1222.70 1284.43,1221.67 1287.86,1220.64 1291.29,1219.60 1294.72,1218.56 1298.15,1217.52 1301.58,1216.47 1305.00,1215.42 1308.43,1214.37 1311.86,1213.32 1315.29,1212.27 1318.72,1211.22 1322.15,1210.17 1325.58,1209.12 1329.01,1208.07 1332.44,1207.02 1335.86,1205.97 1339.29,1204.92 1342.72,1203.87 1346.15,1202.82 1349.58,1201.78 1353.01,1200.74 1356.44,1199.70 1359.87,1198.66 1363.30,1197.62 1366.72,1196.58 1370.15,1195.54 1373.58,1194.50 1377.01,1193.47 1380.44,1192.43 1383.87,1191.39 1387.30,1190.35 1390.73,1189.31 1394.16,1188.27 1397.59,1187.23 1401.01,1186.19 1404.44,1185.15 1407.87,1184.10 1411.30,1183.05 1414.73,1182.01 1418.16,1180.95 1421.59,1179.90 1425.02,1178.85 1428.45,1177.79 1431.87,1176.73 1435.30,1175.66 1438.73,1174.60 1442.16,1173.53 1445.59,1172.46 1449.02,1171.38 1452.45,1170.30 1455.88,1169.21 1459.31,1168.13 1462.73,1167.03 1466.16,1165.94 1469.59,1164.83 1473.02,1163.72 1476.45,1162.61 1479.88,1161.49 1483.31,1160.37 1486.74,1159.24 1490.17,1158.11 1493.59,1156.98 1497.02,1155.84 1500.45,1154.70 1503.88,1153.55 1507.31,1152.41 1510.74,1151.26 1514.17,1150.11 1517.60,1148.95 1521.03,1147.80 1524.46,1146.64 1527.88,1145.48 1531.31,1144.32 1534.74,1143.16 1538.17,1142.00 1541.60,1140.84 1545.03,1139.68 1548.46,1138.52 1551.89,1137.36 1555.32,1136.21 1558.74,1135.05 1562.17,1133.90 1565.60,1132.74 1569.03,1131.59 1572.46,1130.44 1575.89,1129.29 1579.32,1128.15 1582.75,1127.01 1586.18,1125.87 1589.60,1124.72 1593.03,1123.58 1596.46,1122.45 1599.89,1121.31 1603.32,1120.17 1606.75,1119.03 1610.18,1117.89 1613.61,1116.76 1617.04,1115.62 1620.47,1114.48 1623.89,1113.34 1627.32,1112.21 1630.75,1111.07 1634.18,1109.93 1637.61,1108.79 1641.04,1107.65 1644.47,1106.51 1647.90,1105.37 1651.33,1104.22 1654.75,1103.08 1658.18,1101.93 1661.61,1100.78 1665.04,1099.64 1668.47,1098.48 1671.90,1097.33 1675.33,1096.18 1678.76,1095.02 1682.19,1093.86 1685.61,1092.70 1689.04,1091.53 1692.47,1090.37 1695.90,1089.20 1699.33,1088.03 1702.76,1086.86 1706.19,1085.69 1709.62,1084.52 1713.05,1083.34 1716.48,1082.17 1719.90,1080.99 1723.33,1079.81 1726.76,1078.63 1730.19,1077.45 1733.62,1076.27 1737.05,1075.09 1740.48,1073.91 1743.91,1072.72 1747.34,1071.53 1750.76,1070.34 1754.19,1069.16 1757.62,1067.96 1761.05,1066.77 1764.48,1065.58 1767.91,1064.38 1771.34,1063.19 1774.77,1061.99 1778.20,1060.79 1781.62,1059.59 1785.05,1058.39 1788.48,1057.19 1791.91,1055.99 1795.34,1054.78 1798.77,1053.57 1802.20,1052.37 1805.63,1051.16 1809.06,1049.95" fill="none" stroke="#2e5b93" stroke-width="2.45" stroke-linejoin="round" clip-path="url(#cpd)"/>
<g stroke="#000" stroke-width="1.6" fill="none">
<line x1="1126.70" y1="1293.1" x2="1126.70" y2="1298.3999999999999"/>
<line x1="1239.30" y1="1293.1" x2="1239.30" y2="1298.3999999999999"/>
<line x1="1351.90" y1="1293.1" x2="1351.90" y2="1298.3999999999999"/>
<line x1="1464.50" y1="1293.1" x2="1464.50" y2="1298.3999999999999"/>
<line x1="1577.10" y1="1293.1" x2="1577.10" y2="1298.3999999999999"/>
<line x1="1689.70" y1="1293.1" x2="1689.70" y2="1298.3999999999999"/>
<line x1="1802.30" y1="1293.1" x2="1802.30" y2="1298.3999999999999"/>
<line x1="1089.3" y1="1291.10" x2="1084.0" y2="1291.10"/>
<line x1="1089.3" y1="1223.51" x2="1084.0" y2="1223.51"/>
<line x1="1089.3" y1="1155.92" x2="1084.0" y2="1155.92"/>
<line x1="1089.3" y1="1088.34" x2="1084.0" y2="1088.34"/>
<line x1="1089.3" y1="1020.75" x2="1084.0" y2="1020.75"/>
<line x1="1089.3" y1="953.16" x2="1084.0" y2="953.16"/>
<line x1="1089.3" y1="885.57" x2="1084.0" y2="885.57"/>
<line x1="1089.3" y1="817.99" x2="1084.0" y2="817.99"/>
<line x1="1089.3" y1="750.40" x2="1084.0" y2="750.40"/>
<rect x="1089.3" y="712.9" width="756.9000000000001" height="580.1999999999999"/>
</g>
<g font-family="'DejaVu Sans','Liberation Sans',sans-serif" font-size="30.0" fill="#000" stroke="#000" stroke-width="0.3">
<text transform="translate(1126.70,1325.60) scale(1.025,1)" text-anchor="middle">1</text>
<text transform="translate(1239.30,1325.60) scale(1.025,1)" text-anchor="middle">2</text>
<text transform="translate(1351.90,1325.60) scale(1.025,1)" text-anchor="middle">3</text>
<text transform="translate(1464.50,1325.60) scale(1.025,1)" text-anchor="middle">4</text>
<text transform="translate(1577.10,1325.60) scale(1.025,1)" text-anchor="middle">5</text>
<text transform="translate(1689.70,1325.60) scale(1.025,1)" text-anchor="middle">6</text>
<text transform="translate(1802.30,1325.60) scale(1.025,1)" text-anchor="middle">7</text>
<text transform="translate(1078.50,1302.03) scale(1.025,1)" text-anchor="end">0.0</text>
<text transform="translate(1078.50,1234.45) scale(1.025,1)" text-anchor="end">2.5</text>
<text transform="translate(1078.50,1166.86) scale(1.025,1)" text-anchor="end">5.0</text>
<text transform="translate(1078.50,1099.27) scale(1.025,1)" text-anchor="end">7.5</text>
<text transform="translate(1078.50,1031.68) scale(1.025,1)" text-anchor="end">10.0</text>
<text transform="translate(1078.50,964.10) scale(1.025,1)" text-anchor="end">12.5</text>
<text transform="translate(1078.50,896.51) scale(1.025,1)" text-anchor="end">15.0</text>
<text transform="translate(1078.50,828.92) scale(1.025,1)" text-anchor="end">17.5</text>
<text transform="translate(1078.50,761.33) scale(1.025,1)" text-anchor="end">20.0</text>
</g>
<rect x="1300.9" y="1091.8" width="532.0" height="188.0" rx="4.5" fill="#fff" fill-opacity="0.8" stroke="#d2d2d2" stroke-opacity="0.85" stroke-width="1.6"/>
<line x1="1310.2" y1="1111.1" x2="1364.0" y2="1111.1" stroke="#2e5b93" stroke-width="2.1"/>
<text transform="translate(1383.6,1120.00) scale(1.0245,1)" font-family="'DejaVu Sans','Liberation Sans',sans-serif" font-size="25.4" stroke="#000" stroke-width="0.3">Theory</text>
<g fill="none" stroke="#973435" stroke-width="1.7"><rect x="1332.80" y="1145.60" width="8.80" height="8.80"/></g>
<text transform="translate(1383.6,1156.10) scale(1.0245,1)" font-family="'DejaVu Sans','Liberation Sans',sans-serif" font-size="25.4" stroke="#000" stroke-width="0.3">NIMROD, ramping rate<tspan dx="5.50" dy="-0.40">∼</tspan><tspan dx="4.30" dy="0.40">0.03T/μs</tspan></text>
<g fill="none" stroke="#6e9031" stroke-width="1.7"><circle cx="1337.20" cy="1186.40" r="4.40"/></g>
<text transform="translate(1383.6,1192.50) scale(1.0245,1)" font-family="'DejaVu Sans','Liberation Sans',sans-serif" font-size="25.4" stroke="#000" stroke-width="0.3">NIMROD, ramping rate<tspan dx="5.50" dy="-0.40">∼</tspan><tspan dx="4.30" dy="0.40">0.05T/μs</tspan></text>
<g fill="none" stroke="#6a488d" stroke-width="1.7"><path d="M1335.73 1218.70L1338.67 1218.70L1338.67 1221.63L1341.60 1221.63L1341.60 1224.57L1338.67 1224.57L1338.67 1227.50L1335.73 1227.50L1335.73 1224.57L1332.80 1224.57L1332.80 1221.63L1335.73 1221.63Z"/></g>
<text transform="translate(1383.6,1229.20) scale(1.0245,1)" font-family="'DejaVu Sans','Liberation Sans',sans-serif" font-size="25.4" stroke="#000" stroke-width="0.3">NIMROD, ramping rate<tspan dx="5.50" dy="-0.40">∼</tspan><tspan dx="4.30" dy="0.40">0.06T/μs</tspan></text>
<g fill="none" stroke="#2b8198" stroke-width="1.7"><path d="M1335.00 1255.10L1337.20 1257.30L1339.40 1255.10L1341.60 1257.30L1339.40 1259.50L1341.60 1261.70L1339.40 1263.90L1337.20 1261.70L1335.00 1263.90L1332.80 1261.70L1335.00 1259.50L1332.80 1257.30Z"/></g>
<text transform="translate(1383.6,1265.60) scale(1.0245,1)" font-family="'DejaVu Sans','Liberation Sans',sans-serif" font-size="25.4" stroke="#000" stroke-width="0.3">NIMROD, ramping rate<tspan dx="5.50" dy="-0.40">∼</tspan><tspan dx="4.30" dy="0.40">0.08T/μs</tspan></text>
<text x="1466.3" y="1369.5" text-anchor="middle" font-family="'DejaVu Sans','Liberation Sans',sans-serif" font-size="42.3" stroke="#000" stroke-width="0.3"><tspan font-style="italic" font-size="42.30">B</tspan><tspan font-style="italic" font-size="29.61" dy="6.6" dx="0.4">w</tspan><tspan font-style="normal" font-size="29.61" dx="1.0">2</tspan><tspan font-style="normal" font-size="42.30" dy="-6.6" dx="3.2">/</tspan><tspan font-style="italic" font-size="42.30">B</tspan><tspan font-style="italic" font-size="29.61" dy="6.6" dx="0.6">w</tspan><tspan font-style="normal" font-size="29.61" dx="1.7">1</tspan></text>
<text transform="translate(995,1003.1) rotate(-90)" text-anchor="middle" font-family="'DejaVu Sans','Liberation Sans',sans-serif" font-size="42.3" stroke="#000" stroke-width="0.3"><tspan font-style="italic" font-size="42.30">n</tspan><tspan font-style="normal" font-size="29.61" dy="6.6">2</tspan><tspan font-style="normal" font-size="42.30" dy="-6.6">/</tspan><tspan font-style="italic" font-size="42.30">n</tspan><tspan font-style="normal" font-size="29.61" dy="6.6">1</tspan></text>
<text font-family="'Liberation Sans','DejaVu Sans',sans-serif" font-size="44" fill="#000" stroke="#000" stroke-linejoin="round"><tspan x="971.40" y="702.81" font-size="41.96" stroke-width="2.40" textLength="7.54" lengthAdjust="spacingAndGlyphs">(</tspan><tspan x="983.71" y="705.13" font-size="43.21" stroke-width="0.38" textLength="23.53" lengthAdjust="spacingAndGlyphs">d</tspan><tspan x="1013.07" y="702.81" font-size="41.96" stroke-width="2.40" textLength="7.54" lengthAdjust="spacingAndGlyphs">)</tspan></text>
<clipPath id="cpe"><rect x="135.8" y="1437.8" width="757.7" height="579.5"/></clipPath>
<g stroke="#acacac" stroke-dasharray="7.7 1.9 1.3 1.9" fill="none">
<g stroke-width="1.25">
<line x1="173.50" y1="2017.3" x2="173.50" y2="1437.8"/>
<line x1="286.30" y1="2017.3" x2="286.30" y2="1437.8"/>
<line x1="399.10" y1="2017.3" x2="399.10" y2="1437.8"/>
<line x1="511.90" y1="2017.3" x2="511.90" y2="1437.8"/>
<line x1="624.70" y1="2017.3" x2="624.70" y2="1437.8"/>
<line x1="737.50" y1="2017.3" x2="737.50" y2="1437.8"/>
<line x1="850.30" y1="2017.3" x2="850.30" y2="1437.8"/>
</g>
<g stroke-width="1.55">
<line x1="135.8" y1="2015.50" x2="893.5" y2="2015.50"/>
<line x1="135.8" y1="1946.90" x2="893.5" y2="1946.90"/>
<line x1="135.8" y1="1878.30" x2="893.5" y2="1878.30"/>
<line x1="135.8" y1="1809.70" x2="893.5" y2="1809.70"/>
<line x1="135.8" y1="1741.10" x2="893.5" y2="1741.10"/>
<line x1="135.8" y1="1672.50" x2="893.5" y2="1672.50"/>
<line x1="135.8" y1="1603.90" x2="893.5" y2="1603.90"/>
<line x1="135.8" y1="1535.30" x2="893.5" y2="1535.30"/>
<line x1="135.8" y1="1466.70" x2="893.5" y2="1466.70"/>
</g>
</g>
<g fill="none" stroke="#973435" stroke-width="1.7" stroke-linejoin="miter" clip-path="url(#cpe)">
<rect x="169.10" y="1462.27" width="8.80" height="8.80"/>
<rect x="178.11" y="1496.65" width="8.80" height="8.80"/>
<rect x="187.95" y="1532.72" width="8.80" height="8.80"/>
<rect x="199.78" y="1569.84" width="8.80" height="8.80"/>
<rect x="212.47" y="1604.07" width="8.80" height="8.80"/>
<rect x="223.98" y="1631.57" width="8.80" height="8.80"/>
<rect x="236.17" y="1654.16" width="8.80" height="8.80"/>
<rect x="248.23" y="1672.32" width="8.80" height="8.80"/>
<rect x="260.28" y="1687.56" width="8.80" height="8.80"/>
<rect x="272.34" y="1702.24" width="8.80" height="8.80"/>
<rect x="284.39" y="1716.01" width="8.80" height="8.80"/>
<rect x="296.45" y="1730.52" width="8.80" height="8.80"/>
<rect x="308.51" y="1744.69" width="8.80" height="8.80"/>
<rect x="320.38" y="1757.49" width="8.80" height="8.80"/>
<rect x="332.26" y="1769.29" width="8.80" height="8.80"/>
<rect x="344.41" y="1778.94" width="8.80" height="8.80"/>
<rect x="356.56" y="1785.49" width="8.80" height="8.80"/>
<rect x="368.84" y="1789.69" width="8.80" height="8.80"/>
<rect x="381.12" y="1792.70" width="8.80" height="8.80"/>
<rect x="393.73" y="1797.05" width="8.80" height="8.80"/>
<rect x="406.34" y="1801.47" width="8.80" height="8.80"/>
<rect x="419.03" y="1806.30" width="8.80" height="8.80"/>
<rect x="431.73" y="1810.30" width="8.80" height="8.80"/>
<rect x="444.67" y="1813.37" width="8.80" height="8.80"/>
<rect x="457.61" y="1815.60" width="8.80" height="8.80"/>
<rect x="470.36" y="1818.24" width="8.80" height="8.80"/>
<rect x="485.40" y="1821.09" width="8.80" height="8.80"/>
<rect x="500.43" y="1823.62" width="8.80" height="8.80"/>
<rect x="515.47" y="1826.09" width="8.80" height="8.80"/>
<rect x="530.50" y="1828.24" width="8.80" height="8.80"/>
<rect x="545.75" y="1830.47" width="8.80" height="8.80"/>
<rect x="560.99" y="1833.00" width="8.80" height="8.80"/>
<rect x="576.23" y="1834.86" width="8.80" height="8.80"/>
<rect x="591.48" y="1836.77" width="8.80" height="8.80"/>
<rect x="606.72" y="1838.67" width="8.80" height="8.80"/>
<rect x="622.60" y="1840.93" width="8.80" height="8.80"/>
<rect x="638.23" y="1842.77" width="8.80" height="8.80"/>
<rect x="654.17" y="1844.65" width="8.80" height="8.80"/>
<rect x="670.21" y="1846.26" width="8.80" height="8.80"/>
<rect x="686.76" y="1847.85" width="8.80" height="8.80"/>
<rect x="704.50" y="1850.10" width="8.80" height="8.80"/>
<rect x="721.43" y="1851.98" width="8.80" height="8.80"/>
<rect x="738.37" y="1853.60" width="8.80" height="8.80"/>
<rect x="755.85" y="1855.13" width="8.80" height="8.80"/>
<rect x="774.28" y="1856.41" width="8.80" height="8.80"/>
<rect x="794.07" y="1857.64" width="8.80" height="8.80"/>
<rect x="812.53" y="1859.54" width="8.80" height="8.80"/>
<rect x="831.49" y="1860.81" width="8.80" height="8.80"/>
<rect x="852.00" y="1862.09" width="8.80" height="8.80"/>
</g>
<g fill="none" stroke="#6e9031" stroke-width="1.7" stroke-linejoin="miter" clip-path="url(#cpe)">
<circle cx="173.50" cy="1466.67" r="4.40"/>
<circle cx="186.80" cy="1513.45" r="4.40"/>
<circle cx="200.66" cy="1569.31" r="4.40"/>
<circle cx="217.57" cy="1618.94" r="4.40"/>
<circle cx="233.78" cy="1667.19" r="4.40"/>
<circle cx="249.99" cy="1702.21" r="4.40"/>
<circle cx="266.35" cy="1729.49" r="4.40"/>
<circle cx="282.63" cy="1750.77" r="4.40"/>
<circle cx="298.91" cy="1766.92" r="4.40"/>
<circle cx="315.19" cy="1782.76" r="4.40"/>
<circle cx="331.48" cy="1798.59" r="4.40"/>
<circle cx="347.95" cy="1814.37" r="4.40"/>
<circle cx="364.43" cy="1829.48" r="4.40"/>
<circle cx="380.91" cy="1842.75" r="4.40"/>
<circle cx="397.39" cy="1854.40" r="4.40"/>
<circle cx="413.86" cy="1863.50" r="4.40"/>
<circle cx="430.34" cy="1869.72" r="4.40"/>
<circle cx="446.82" cy="1873.83" r="4.40"/>
<circle cx="463.30" cy="1876.84" r="4.40"/>
<circle cx="479.78" cy="1879.80" r="4.40"/>
<circle cx="496.25" cy="1883.20" r="4.40"/>
<circle cx="512.73" cy="1886.13" r="4.40"/>
<circle cx="529.08" cy="1888.40" r="4.40"/>
<circle cx="546.27" cy="1890.91" r="4.40"/>
<circle cx="562.90" cy="1892.12" r="4.40"/>
<circle cx="585.34" cy="1893.42" r="4.40"/>
<circle cx="607.79" cy="1894.36" r="4.40"/>
<circle cx="632.18" cy="1895.64" r="4.40"/>
<circle cx="657.96" cy="1896.91" r="4.40"/>
<circle cx="683.73" cy="1897.85" r="4.40"/>
<circle cx="709.51" cy="1899.13" r="4.40"/>
<circle cx="736.95" cy="1900.39" r="4.40"/>
<circle cx="765.49" cy="1901.34" r="4.40"/>
<circle cx="794.04" cy="1902.28" r="4.40"/>
<circle cx="824.25" cy="1903.24" r="4.40"/>
<circle cx="851.96" cy="1904.18" r="4.40"/>
</g>
<g fill="none" stroke="#6a488d" stroke-width="1.7" stroke-linejoin="miter" clip-path="url(#cpe)">
<path d="M172.03 1462.27L174.97 1462.27L174.97 1465.20L177.90 1465.20L177.90 1468.13L174.97 1468.13L174.97 1471.07L172.03 1471.07L172.03 1468.13L169.10 1468.13L169.10 1465.20L172.03 1465.20Z"/>
<path d="M182.40 1492.60L185.33 1492.60L185.33 1495.54L188.27 1495.54L188.27 1498.47L185.33 1498.47L185.33 1501.40L182.40 1501.40L182.40 1498.47L179.47 1498.47L179.47 1495.54L182.40 1495.54Z"/>
<path d="M190.66 1531.82L193.59 1531.82L193.59 1534.75L196.52 1534.75L196.52 1537.69L193.59 1537.69L193.59 1540.62L190.66 1540.62L190.66 1537.69L187.72 1537.69L187.72 1534.75L190.66 1534.75Z"/>
<path d="M202.16 1575.85L205.09 1575.85L205.09 1578.78L208.03 1578.78L208.03 1581.71L205.09 1581.71L205.09 1584.65L202.16 1584.65L202.16 1581.71L199.23 1581.71L199.23 1578.78L202.16 1578.78Z"/>
<path d="M214.10 1612.01L217.04 1612.01L217.04 1614.94L219.97 1614.94L219.97 1617.88L217.04 1617.88L217.04 1620.81L214.10 1620.81L214.10 1617.88L211.17 1617.88L211.17 1614.94L214.10 1614.94Z"/>
<path d="M226.08 1646.94L229.01 1646.94L229.01 1649.88L231.94 1649.88L231.94 1652.81L229.01 1652.81L229.01 1655.74L226.08 1655.74L226.08 1652.81L223.14 1652.81L223.14 1649.88L226.08 1649.88Z"/>
<path d="M237.11 1680.82L240.04 1680.82L240.04 1683.76L242.97 1683.76L242.97 1686.69L240.04 1686.69L240.04 1689.62L237.11 1689.62L237.11 1686.69L234.17 1686.69L234.17 1683.76L237.11 1683.76Z"/>
<path d="M248.50 1705.97L251.43 1705.97L251.43 1708.90L254.37 1708.90L254.37 1711.84L251.43 1711.84L251.43 1714.77L248.50 1714.77L248.50 1711.84L245.57 1711.84L245.57 1708.90L248.50 1708.90Z"/>
<path d="M259.89 1728.54L262.82 1728.54L262.82 1731.47L265.76 1731.47L265.76 1734.41L262.82 1734.41L262.82 1737.34L259.89 1737.34L259.89 1734.41L256.96 1734.41L256.96 1731.47L259.89 1731.47Z"/>
<path d="M271.74 1748.66L274.67 1748.66L274.67 1751.60L277.60 1751.60L277.60 1754.53L274.67 1754.53L274.67 1757.46L271.74 1757.46L271.74 1754.53L268.80 1754.53L268.80 1751.60L271.74 1751.60Z"/>
<path d="M283.59 1763.56L286.52 1763.56L286.52 1766.49L289.45 1766.49L289.45 1769.42L286.52 1769.42L286.52 1772.36L283.59 1772.36L283.59 1769.42L280.65 1769.42L280.65 1766.49L283.59 1766.49Z"/>
<path d="M295.43 1776.50L298.37 1776.50L298.37 1779.43L301.30 1779.43L301.30 1782.36L298.37 1782.36L298.37 1785.30L295.43 1785.30L295.43 1782.36L292.50 1782.36L292.50 1779.43L295.43 1779.43Z"/>
<path d="M307.28 1788.09L310.22 1788.09L310.22 1791.03L313.15 1791.03L313.15 1793.96L310.22 1793.96L310.22 1796.89L307.28 1796.89L307.28 1793.96L304.35 1793.96L304.35 1791.03L307.28 1791.03Z"/>
<path d="M318.74 1798.25L321.67 1798.25L321.67 1801.18L324.60 1801.18L324.60 1804.12L321.67 1804.12L321.67 1807.05L318.74 1807.05L318.74 1804.12L315.80 1804.12L315.80 1801.18L318.74 1801.18Z"/>
<path d="M330.19 1808.82L333.13 1808.82L333.13 1811.76L336.06 1811.76L336.06 1814.69L333.13 1814.69L333.13 1817.62L330.19 1817.62L330.19 1814.69L327.26 1814.69L327.26 1811.76L330.19 1811.76Z"/>
<path d="M341.65 1818.49L344.58 1818.49L344.58 1821.43L347.52 1821.43L347.52 1824.36L344.58 1824.36L344.58 1827.29L341.65 1827.29L341.65 1824.36L338.72 1824.36L338.72 1821.43L341.65 1821.43Z"/>
<path d="M353.16 1829.53L356.09 1829.53L356.09 1832.46L359.03 1832.46L359.03 1835.39L356.09 1835.39L356.09 1838.33L353.16 1838.33L353.16 1835.39L350.23 1835.39L350.23 1832.46L353.16 1832.46Z"/>
<path d="M364.67 1838.99L367.60 1838.99L367.60 1841.92L370.54 1841.92L370.54 1844.86L367.60 1844.86L367.60 1847.79L364.67 1847.79L364.67 1844.86L361.74 1844.86L361.74 1841.92L364.67 1841.92Z"/>
<path d="M376.18 1848.86L379.12 1848.86L379.12 1851.80L382.05 1851.80L382.05 1854.73L379.12 1854.73L379.12 1857.66L376.18 1857.66L376.18 1854.73L373.25 1854.73L373.25 1851.80L376.18 1851.80Z"/>
<path d="M387.69 1857.87L390.63 1857.87L390.63 1860.80L393.56 1860.80L393.56 1863.73L390.63 1863.73L390.63 1866.67L387.69 1866.67L387.69 1863.73L384.76 1863.73L384.76 1860.80L387.69 1860.80Z"/>
<path d="M399.20 1866.60L402.14 1866.60L402.14 1869.54L405.07 1869.54L405.07 1872.47L402.14 1872.47L402.14 1875.40L399.20 1875.40L399.20 1872.47L396.27 1872.47L396.27 1869.54L399.20 1869.54Z"/>
<path d="M410.71 1874.52L413.65 1874.52L413.65 1877.45L416.58 1877.45L416.58 1880.39L413.65 1880.39L413.65 1883.32L410.71 1883.32L410.71 1880.39L407.78 1880.39L407.78 1877.45L410.71 1877.45Z"/>
<path d="M422.23 1881.79L425.16 1881.79L425.16 1884.73L428.09 1884.73L428.09 1887.66L425.16 1887.66L425.16 1890.59L422.23 1890.59L422.23 1887.66L419.29 1887.66L419.29 1884.73L422.23 1884.73Z"/>
<path d="M433.74 1887.04L436.67 1887.04L436.67 1889.98L439.60 1889.98L439.60 1892.91L436.67 1892.91L436.67 1895.84L433.74 1895.84L433.74 1892.91L430.80 1892.91L430.80 1889.98L433.74 1889.98Z"/>
<path d="M445.25 1892.69L448.18 1892.69L448.18 1895.63L451.11 1895.63L451.11 1898.56L448.18 1898.56L448.18 1901.49L445.25 1901.49L445.25 1898.56L442.31 1898.56L442.31 1895.63L445.25 1895.63Z"/>
<path d="M456.76 1896.39L459.69 1896.39L459.69 1899.32L462.63 1899.32L462.63 1902.26L459.69 1902.26L459.69 1905.19L456.76 1905.19L456.76 1902.26L453.83 1902.26L453.83 1899.32L456.76 1899.32Z"/>
<path d="M468.27 1899.74L471.20 1899.74L471.20 1902.67L474.14 1902.67L474.14 1905.61L471.20 1905.61L471.20 1908.54L468.27 1908.54L468.27 1905.61L465.34 1905.61L465.34 1902.67L468.27 1902.67Z"/>
<path d="M479.78 1902.43L482.71 1902.43L482.71 1905.37L485.65 1905.37L485.65 1908.30L482.71 1908.30L482.71 1911.23L479.78 1911.23L479.78 1908.30L476.85 1908.30L476.85 1905.37L479.78 1905.37Z"/>
<path d="M491.29 1904.55L494.22 1904.55L494.22 1907.48L497.16 1907.48L497.16 1910.42L494.22 1910.42L494.22 1913.35L491.29 1913.35L491.29 1910.42L488.36 1910.42L488.36 1907.48L491.29 1907.48Z"/>
<path d="M502.80 1906.42L505.74 1906.42L505.74 1909.35L508.67 1909.35L508.67 1912.28L505.74 1912.28L505.74 1915.22L502.80 1915.22L502.80 1912.28L499.87 1912.28L499.87 1909.35L502.80 1909.35Z"/>
<path d="M514.31 1908.24L517.25 1908.24L517.25 1911.17L520.18 1911.17L520.18 1914.10L517.25 1914.10L517.25 1917.04L514.31 1917.04L514.31 1914.10L511.38 1914.10L511.38 1911.17L514.31 1911.17Z"/>
<path d="M526.55 1909.86L529.48 1909.86L529.48 1912.79L532.41 1912.79L532.41 1915.73L529.48 1915.73L529.48 1918.66L526.55 1918.66L526.55 1915.73L523.61 1915.73L523.61 1912.79L526.55 1912.79Z"/>
<path d="M538.78 1912.47L541.72 1912.47L541.72 1915.40L544.65 1915.40L544.65 1918.33L541.72 1918.33L541.72 1921.27L538.78 1921.27L538.78 1918.33L535.85 1918.33L535.85 1915.40L538.78 1915.40Z"/>
<path d="M551.02 1914.37L553.95 1914.37L553.95 1917.30L556.88 1917.30L556.88 1920.24L553.95 1920.24L553.95 1923.17L551.02 1923.17L551.02 1920.24L548.08 1920.24L548.08 1917.30L551.02 1917.30Z"/>
<path d="M563.25 1915.34L566.18 1915.34L566.18 1918.27L569.12 1918.27L569.12 1921.20L566.18 1921.20L566.18 1924.14L563.25 1924.14L563.25 1921.20L560.32 1921.20L560.32 1918.27L563.25 1918.27Z"/>
<path d="M575.48 1916.32L578.42 1916.32L578.42 1919.26L581.35 1919.26L581.35 1922.19L578.42 1922.19L578.42 1925.12L575.48 1925.12L575.48 1922.19L572.55 1922.19L572.55 1919.26L575.48 1919.26Z"/>
<path d="M587.72 1917.56L590.65 1917.56L590.65 1920.49L593.59 1920.49L593.59 1923.43L590.65 1923.43L590.65 1926.36L587.72 1926.36L587.72 1923.43L584.79 1923.43L584.79 1920.49L587.72 1920.49Z"/>
<path d="M599.95 1918.21L602.89 1918.21L602.89 1921.15L605.82 1921.15L605.82 1924.08L602.89 1924.08L602.89 1927.01L599.95 1927.01L599.95 1924.08L597.02 1924.08L597.02 1921.15L599.95 1921.15Z"/>
<path d="M614.64 1919.09L617.58 1919.09L617.58 1922.03L620.51 1922.03L620.51 1924.96L617.58 1924.96L617.58 1927.89L614.64 1927.89L614.64 1924.96L611.71 1924.96L611.71 1922.03L614.64 1922.03Z"/>
<path d="M631.82 1920.07L634.76 1920.07L634.76 1923.01L637.69 1923.01L637.69 1925.94L634.76 1925.94L634.76 1928.87L631.82 1928.87L631.82 1925.94L628.89 1925.94L628.89 1923.01L631.82 1923.01Z"/>
<path d="M649.01 1921.32L651.94 1921.32L651.94 1924.25L654.87 1924.25L654.87 1927.19L651.94 1927.19L651.94 1930.12L649.01 1930.12L649.01 1927.19L646.07 1927.19L646.07 1924.25L649.01 1924.25Z"/>
<path d="M666.75 1922.25L669.68 1922.25L669.68 1925.19L672.61 1925.19L672.61 1928.12L669.68 1928.12L669.68 1931.05L666.75 1931.05L666.75 1928.12L663.81 1928.12L663.81 1925.19L666.75 1925.19Z"/>
<path d="M685.87 1922.89L688.80 1922.89L688.80 1925.83L691.74 1925.83L691.74 1928.76L688.80 1928.76L688.80 1931.69L685.87 1931.69L685.87 1928.76L682.94 1928.76L682.94 1925.83L685.87 1925.83Z"/>
<path d="M704.72 1923.52L707.65 1923.52L707.65 1926.46L710.58 1926.46L710.58 1929.39L707.65 1929.39L707.65 1932.32L704.72 1932.32L704.72 1929.39L701.78 1929.39L701.78 1926.46L704.72 1926.46Z"/>
<path d="M724.12 1924.18L727.05 1924.18L727.05 1927.11L729.98 1927.11L729.98 1930.05L727.05 1930.05L727.05 1932.98L724.12 1932.98L724.12 1930.05L721.18 1930.05L721.18 1927.11L724.12 1927.11Z"/>
<path d="M742.68 1924.79L745.62 1924.79L745.62 1927.72L748.55 1927.72L748.55 1930.66L745.62 1930.66L745.62 1933.59L742.68 1933.59L742.68 1930.66L739.75 1930.66L739.75 1927.72L742.68 1927.72Z"/>
<path d="M762.36 1925.75L765.30 1925.75L765.30 1928.68L768.23 1928.68L768.23 1931.62L765.30 1931.62L765.30 1934.55L762.36 1934.55L762.36 1931.62L759.43 1931.62L759.43 1928.68L762.36 1928.68Z"/>
<path d="M782.32 1926.40L785.25 1926.40L785.25 1929.33L788.18 1929.33L788.18 1932.27L785.25 1932.27L785.25 1935.20L782.32 1935.20L782.32 1932.27L779.38 1932.27L779.38 1929.33L782.32 1929.33Z"/>
<path d="M801.72 1927.32L804.65 1927.32L804.65 1930.26L807.58 1930.26L807.58 1933.19L804.65 1933.19L804.65 1936.12L801.72 1936.12L801.72 1933.19L798.78 1933.19L798.78 1930.26L801.72 1930.26Z"/>
<path d="M823.34 1927.99L826.27 1927.99L826.27 1930.92L829.20 1930.92L829.20 1933.86L826.27 1933.86L826.27 1936.79L823.34 1936.79L823.34 1933.86L820.40 1933.86L820.40 1930.92L823.34 1930.92Z"/>
<path d="M843.84 1928.90L846.78 1928.90L846.78 1931.83L849.71 1931.83L849.71 1934.76L846.78 1934.76L846.78 1937.70L843.84 1937.70L843.84 1934.76L840.91 1934.76L840.91 1931.83L843.84 1931.83Z"/>
</g>
<g fill="none" stroke="#2b8198" stroke-width="1.7" stroke-linejoin="miter" clip-path="url(#cpe)">
<path d="M171.30 1462.27L173.50 1464.47L175.70 1462.27L177.90 1464.47L175.70 1466.67L177.90 1468.87L175.70 1471.07L173.50 1468.87L171.30 1471.07L169.10 1468.87L171.30 1466.67L169.10 1464.47Z"/>
<path d="M180.67 1484.88L182.87 1487.08L185.07 1484.88L187.27 1487.08L185.07 1489.28L187.27 1491.48L185.07 1493.68L182.87 1491.48L180.67 1493.68L178.47 1491.48L180.67 1489.28L178.47 1487.08Z"/>
<path d="M188.57 1517.15L190.77 1519.35L192.97 1517.15L195.17 1519.35L192.97 1521.55L195.17 1523.75L192.97 1525.95L190.77 1523.75L188.57 1525.95L186.37 1523.75L188.57 1521.55L186.37 1519.35Z"/>
<path d="M196.80 1556.19L199.00 1558.39L201.20 1556.19L203.40 1558.39L201.20 1560.59L203.40 1562.79L201.20 1564.99L199.00 1562.79L196.80 1564.99L194.60 1562.79L196.80 1560.59L194.60 1558.39Z"/>
<path d="M207.16 1596.09L209.36 1598.29L211.56 1596.09L213.76 1598.29L211.56 1600.49L213.76 1602.69L211.56 1604.89L209.36 1602.69L207.16 1604.89L204.96 1602.69L207.16 1600.49L204.96 1598.29Z"/>
<path d="M218.00 1632.20L220.20 1634.40L222.40 1632.20L224.60 1634.40L222.40 1636.60L224.60 1638.80L222.40 1641.00L220.20 1638.80L218.00 1641.00L215.80 1638.80L218.00 1636.60L215.80 1634.40Z"/>
<path d="M228.84 1661.09L231.04 1663.29L233.24 1661.09L235.44 1663.29L233.24 1665.49L235.44 1667.69L233.24 1669.89L231.04 1667.69L228.84 1669.89L226.64 1667.69L228.84 1665.49L226.64 1663.29Z"/>
<path d="M238.98 1690.00L241.18 1692.20L243.38 1690.00L245.58 1692.20L243.38 1694.40L245.58 1696.60L243.38 1698.80L241.18 1696.60L238.98 1698.80L236.78 1696.60L238.98 1694.40L236.78 1692.20Z"/>
<path d="M248.57 1718.25L250.77 1720.45L252.97 1718.25L255.17 1720.45L252.97 1722.65L255.17 1724.85L252.97 1727.05L250.77 1724.85L248.57 1727.05L246.37 1724.85L248.57 1722.65L246.37 1720.45Z"/>
<path d="M258.71 1744.86L260.91 1747.06L263.11 1744.86L265.31 1747.06L263.11 1749.26L265.31 1751.46L263.11 1753.66L260.91 1751.46L258.71 1753.66L256.51 1751.46L258.71 1749.26L256.51 1747.06Z"/>
<path d="M268.52 1762.69L270.72 1764.89L272.92 1762.69L275.12 1764.89L272.92 1767.09L275.12 1769.29L272.92 1771.49L270.72 1769.29L268.52 1771.49L266.32 1769.29L268.52 1767.09L266.32 1764.89Z"/>
<path d="M278.67 1778.12L280.87 1780.32L283.07 1778.12L285.27 1780.32L283.07 1782.52L285.27 1784.72L283.07 1786.92L280.87 1784.72L278.67 1786.92L276.47 1784.72L278.67 1782.52L276.47 1780.32Z"/>
<path d="M288.81 1793.89L291.01 1796.09L293.21 1793.89L295.41 1796.09L293.21 1798.29L295.41 1800.49L293.21 1802.69L291.01 1800.49L288.81 1802.69L286.61 1800.49L288.81 1798.29L286.61 1796.09Z"/>
<path d="M298.96 1807.42L301.16 1809.62L303.36 1807.42L305.56 1809.62L303.36 1811.82L305.56 1814.02L303.36 1816.22L301.16 1814.02L298.96 1816.22L296.76 1814.02L298.96 1811.82L296.76 1809.62Z"/>
<path d="M309.10 1817.79L311.30 1819.99L313.50 1817.79L315.70 1819.99L313.50 1822.19L315.70 1824.39L313.50 1826.59L311.30 1824.39L309.10 1826.59L306.90 1824.39L309.10 1822.19L306.90 1819.99Z"/>
<path d="M319.24 1827.27L321.44 1829.47L323.64 1827.27L325.84 1829.47L323.64 1831.67L325.84 1833.87L323.64 1836.07L321.44 1833.87L319.24 1836.07L317.04 1833.87L319.24 1831.67L317.04 1829.47Z"/>
<path d="M329.39 1835.45L331.59 1837.65L333.79 1835.45L335.99 1837.65L333.79 1839.85L335.99 1842.05L333.79 1844.25L331.59 1842.05L329.39 1844.25L327.19 1842.05L329.39 1839.85L327.19 1837.65Z"/>
<path d="M339.53 1843.65L341.73 1845.85L343.93 1843.65L346.13 1845.85L343.93 1848.05L346.13 1850.25L343.93 1852.45L341.73 1850.25L339.53 1852.45L337.33 1850.25L339.53 1848.05L337.33 1845.85Z"/>
<path d="M349.67 1851.98L351.87 1854.18L354.07 1851.98L356.27 1854.18L354.07 1856.38L356.27 1858.58L354.07 1860.78L351.87 1858.58L349.67 1860.78L347.47 1858.58L349.67 1856.38L347.47 1854.18Z"/>
<path d="M359.81 1859.71L362.01 1861.91L364.21 1859.71L366.41 1861.91L364.21 1864.11L366.41 1866.31L364.21 1868.51L362.01 1866.31L359.81 1868.51L357.61 1866.31L359.81 1864.11L357.61 1861.91Z"/>
<path d="M369.95 1867.10L372.15 1869.30L374.35 1867.10L376.55 1869.30L374.35 1871.50L376.55 1873.70L374.35 1875.90L372.15 1873.70L369.95 1875.90L367.75 1873.70L369.95 1871.50L367.75 1869.30Z"/>
<path d="M380.09 1876.04L382.29 1878.24L384.49 1876.04L386.69 1878.24L384.49 1880.44L386.69 1882.64L384.49 1884.84L382.29 1882.64L380.09 1884.84L377.89 1882.64L380.09 1880.44L377.89 1878.24Z"/>
<path d="M390.23 1882.71L392.43 1884.91L394.63 1882.71L396.83 1884.91L394.63 1887.11L396.83 1889.31L394.63 1891.51L392.43 1889.31L390.23 1891.51L388.03 1889.31L390.23 1887.11L388.03 1884.91Z"/>
<path d="M400.37 1890.29L402.57 1892.49L404.77 1890.29L406.97 1892.49L404.77 1894.69L406.97 1896.89L404.77 1899.09L402.57 1896.89L400.37 1899.09L398.17 1896.89L400.37 1894.69L398.17 1892.49Z"/>
<path d="M410.51 1897.28L412.71 1899.48L414.91 1897.28L417.11 1899.48L414.91 1901.68L417.11 1903.88L414.91 1906.08L412.71 1903.88L410.51 1906.08L408.31 1903.88L410.51 1901.68L408.31 1899.48Z"/>
<path d="M420.65 1904.09L422.85 1906.29L425.05 1904.09L427.25 1906.29L425.05 1908.49L427.25 1910.69L425.05 1912.89L422.85 1910.69L420.65 1912.89L418.45 1910.69L420.65 1908.49L418.45 1906.29Z"/>
<path d="M430.79 1910.42L432.99 1912.62L435.19 1910.42L437.39 1912.62L435.19 1914.82L437.39 1917.02L435.19 1919.22L432.99 1917.02L430.79 1919.22L428.59 1917.02L430.79 1914.82L428.59 1912.62Z"/>
<path d="M440.93 1917.47L443.13 1919.67L445.33 1917.47L447.53 1919.67L445.33 1921.87L447.53 1924.07L445.33 1926.27L443.13 1924.07L440.93 1926.27L438.73 1924.07L440.93 1921.87L438.73 1919.67Z"/>
<path d="M451.07 1923.54L453.27 1925.74L455.47 1923.54L457.67 1925.74L455.47 1927.94L457.67 1930.14L455.47 1932.34L453.27 1930.14L451.07 1932.34L448.87 1930.14L451.07 1927.94L448.87 1925.74Z"/>
<path d="M461.22 1928.87L463.42 1931.07L465.62 1928.87L467.82 1931.07L465.62 1933.27L467.82 1935.47L465.62 1937.67L463.42 1935.47L461.22 1937.67L459.02 1935.47L461.22 1933.27L459.02 1931.07Z"/>
<path d="M471.36 1933.88L473.56 1936.08L475.76 1933.88L477.96 1936.08L475.76 1938.28L477.96 1940.48L475.76 1942.68L473.56 1940.48L471.36 1942.68L469.16 1940.48L471.36 1938.28L469.16 1936.08Z"/>
<path d="M481.50 1938.47L483.70 1940.67L485.90 1938.47L488.10 1940.67L485.90 1942.87L488.10 1945.07L485.90 1947.27L483.70 1945.07L481.50 1947.27L479.30 1945.07L481.50 1942.87L479.30 1940.67Z"/>
<path d="M491.64 1942.27L493.84 1944.47L496.04 1942.27L498.24 1944.47L496.04 1946.67L498.24 1948.87L496.04 1951.07L493.84 1948.87L491.64 1951.07L489.44 1948.87L491.64 1946.67L489.44 1944.47Z"/>
<path d="M501.78 1946.07L503.98 1948.27L506.18 1946.07L508.38 1948.27L506.18 1950.47L508.38 1952.67L506.18 1954.87L503.98 1952.67L501.78 1954.87L499.58 1952.67L501.78 1950.47L499.58 1948.27Z"/>
<path d="M511.92 1949.63L514.12 1951.83L516.32 1949.63L518.52 1951.83L516.32 1954.03L518.52 1956.23L516.32 1958.43L514.12 1956.23L511.92 1958.43L509.72 1956.23L511.92 1954.03L509.72 1951.83Z"/>
<path d="M522.22 1952.14L524.42 1954.34L526.62 1952.14L528.82 1954.34L526.62 1956.54L528.82 1958.74L526.62 1960.94L524.42 1958.74L522.22 1960.94L520.02 1958.74L522.22 1956.54L520.02 1954.34Z"/>
<path d="M532.53 1954.60L534.73 1956.80L536.93 1954.60L539.13 1956.80L536.93 1959.00L539.13 1961.20L536.93 1963.40L534.73 1961.20L532.53 1963.40L530.33 1961.20L532.53 1959.00L530.33 1956.80Z"/>
<path d="M542.84 1956.52L545.04 1958.72L547.24 1956.52L549.44 1958.72L547.24 1960.92L549.44 1963.12L547.24 1965.32L545.04 1963.12L542.84 1965.32L540.64 1963.12L542.84 1960.92L540.64 1958.72Z"/>
<path d="M553.14 1958.34L555.34 1960.54L557.54 1958.34L559.74 1960.54L557.54 1962.74L559.74 1964.94L557.54 1967.14L555.34 1964.94L553.14 1967.14L550.94 1964.94L553.14 1962.74L550.94 1960.54Z"/>
<path d="M563.45 1959.95L565.65 1962.15L567.85 1959.95L570.05 1962.15L567.85 1964.35L570.05 1966.55L567.85 1968.75L565.65 1966.55L563.45 1968.75L561.25 1966.55L563.45 1964.35L561.25 1962.15Z"/>
<path d="M573.76 1961.73L575.96 1963.93L578.16 1961.73L580.36 1963.93L578.16 1966.13L580.36 1968.33L578.16 1970.53L575.96 1968.33L573.76 1970.53L571.56 1968.33L573.76 1966.13L571.56 1963.93Z"/>
<path d="M584.06 1963.02L586.26 1965.22L588.46 1963.02L590.66 1965.22L588.46 1967.42L590.66 1969.62L588.46 1971.82L586.26 1969.62L584.06 1971.82L581.86 1969.62L584.06 1967.42L581.86 1965.22Z"/>
<path d="M594.37 1964.58L596.57 1966.78L598.77 1964.58L600.97 1966.78L598.77 1968.98L600.97 1971.18L598.77 1973.38L596.57 1971.18L594.37 1973.38L592.17 1971.18L594.37 1968.98L592.17 1966.78Z"/>
<path d="M604.68 1966.11L606.88 1968.31L609.08 1966.11L611.28 1968.31L609.08 1970.51L611.28 1972.71L609.08 1974.91L606.88 1972.71L604.68 1974.91L602.48 1972.71L604.68 1970.51L602.48 1968.31Z"/>
<path d="M614.98 1967.36L617.18 1969.56L619.38 1967.36L621.58 1969.56L619.38 1971.76L621.58 1973.96L619.38 1976.16L617.18 1973.96L614.98 1976.16L612.78 1973.96L614.98 1971.76L612.78 1969.56Z"/>
<path d="M625.29 1968.61L627.49 1970.81L629.69 1968.61L631.89 1970.81L629.69 1973.01L631.89 1975.21L629.69 1977.41L627.49 1975.21L625.29 1977.41L623.09 1975.21L625.29 1973.01L623.09 1970.81Z"/>
<path d="M635.60 1969.85L637.80 1972.05L640.00 1969.85L642.20 1972.05L640.00 1974.25L642.20 1976.45L640.00 1978.65L637.80 1976.45L635.60 1978.65L633.40 1976.45L635.60 1974.25L633.40 1972.05Z"/>
<path d="M645.90 1971.08L648.10 1973.28L650.30 1971.08L652.50 1973.28L650.30 1975.48L652.50 1977.68L650.30 1979.88L648.10 1977.68L645.90 1979.88L643.70 1977.68L645.90 1975.48L643.70 1973.28Z"/>
<path d="M656.21 1972.02L658.41 1974.22L660.61 1972.02L662.81 1974.22L660.61 1976.42L662.81 1978.62L660.61 1980.82L658.41 1978.62L656.21 1980.82L654.01 1978.62L656.21 1976.42L654.01 1974.22Z"/>
<path d="M666.51 1972.98L668.71 1975.18L670.91 1972.98L673.11 1975.18L670.91 1977.38L673.11 1979.58L670.91 1981.78L668.71 1979.58L666.51 1981.78L664.31 1979.58L666.51 1977.38L664.31 1975.18Z"/>
<path d="M676.82 1974.53L679.02 1976.73L681.22 1974.53L683.42 1976.73L681.22 1978.93L683.42 1981.13L681.22 1983.33L679.02 1981.13L676.82 1983.33L674.62 1981.13L676.82 1978.93L674.62 1976.73Z"/>
<path d="M691.51 1975.80L693.71 1978.00L695.91 1975.80L698.11 1978.00L695.91 1980.20L698.11 1982.40L695.91 1984.60L693.71 1982.40L691.51 1984.60L689.31 1982.40L691.51 1980.20L689.31 1978.00Z"/>
<path d="M707.31 1976.74L709.51 1978.94L711.71 1976.74L713.91 1978.94L711.71 1981.14L713.91 1983.34L711.71 1985.54L709.51 1983.34L707.31 1985.54L705.11 1983.34L707.31 1981.14L705.11 1978.94Z"/>
<path d="M724.49 1977.70L726.69 1979.90L728.89 1977.70L731.09 1979.90L728.89 1982.10L731.09 1984.30L728.89 1986.50L726.69 1984.30L724.49 1986.50L722.29 1984.30L724.49 1982.10L722.29 1979.90Z"/>
<path d="M741.67 1978.64L743.87 1980.84L746.07 1978.64L748.27 1980.84L746.07 1983.04L748.27 1985.24L746.07 1987.44L743.87 1985.24L741.67 1987.44L739.47 1985.24L741.67 1983.04L739.47 1980.84Z"/>
<path d="M758.86 1979.61L761.06 1981.81L763.26 1979.61L765.46 1981.81L763.26 1984.01L765.46 1986.21L763.26 1988.41L761.06 1986.21L758.86 1988.41L756.66 1986.21L758.86 1984.01L756.66 1981.81Z"/>
<path d="M775.76 1980.53L777.96 1982.73L780.16 1980.53L782.36 1982.73L780.16 1984.93L782.36 1987.13L780.16 1989.33L777.96 1987.13L775.76 1989.33L773.56 1987.13L775.76 1984.93L773.56 1982.73Z"/>
<path d="M792.39 1981.45L794.59 1983.65L796.79 1981.45L798.99 1983.65L796.79 1985.85L798.99 1988.05L796.79 1990.25L794.59 1988.05L792.39 1990.25L790.19 1988.05L792.39 1985.85L790.19 1983.65Z"/>
<path d="M809.30 1982.41L811.50 1984.61L813.70 1982.41L815.90 1984.61L813.70 1986.81L815.90 1989.01L813.70 1991.21L811.50 1989.01L809.30 1991.21L807.10 1989.01L809.30 1986.81L807.10 1984.61Z"/>
<path d="M826.48 1983.36L828.68 1985.56L830.88 1983.36L833.08 1985.56L830.88 1987.76L833.08 1989.96L830.88 1992.16L828.68 1989.96L826.48 1992.16L824.28 1989.96L826.48 1987.76L824.28 1985.56Z"/>
<path d="M845.61 1984.32L847.81 1986.52L850.01 1984.32L852.21 1986.52L850.01 1988.72L852.21 1990.92L850.01 1993.12L847.81 1990.92L845.61 1993.12L843.41 1990.92L845.61 1988.72L843.41 1986.52Z"/>
</g>
<polyline points="173.50,1466.70 176.94,1473.01 180.37,1479.08 183.81,1484.92 187.24,1490.56 190.68,1496.00 194.11,1501.26 197.55,1506.34 200.98,1511.25 204.42,1516.02 207.85,1520.63 211.29,1525.11 214.72,1529.45 218.16,1533.67 221.59,1537.77 225.03,1541.76 228.46,1545.64 231.90,1549.42 235.33,1553.10 238.77,1556.69 242.20,1560.18 245.64,1563.59 249.07,1566.92 252.51,1570.18 255.94,1573.35 259.38,1576.46 262.81,1579.49 266.25,1582.46 269.68,1585.36 273.12,1588.20 276.55,1590.98 279.99,1593.71 283.42,1596.38 286.86,1599.00 290.29,1601.56 293.73,1604.08 297.16,1606.54 300.60,1608.96 304.03,1611.34 307.47,1613.67 310.90,1615.96 314.34,1618.21 317.77,1620.42 321.21,1622.59 324.64,1624.73 328.08,1626.83 331.51,1628.89 334.95,1630.92 338.38,1632.92 341.82,1634.88 345.25,1636.81 348.69,1638.72 352.12,1640.59 355.56,1642.44 358.99,1644.25 362.43,1646.04 365.86,1647.81 369.30,1649.54 372.73,1651.26 376.17,1652.94 379.60,1654.61 383.04,1656.25 386.47,1657.87 389.91,1659.46 393.34,1661.04 396.78,1662.59 400.21,1664.12 403.65,1665.64 407.08,1667.13 410.52,1668.60 413.95,1670.06 417.39,1671.49 420.82,1672.91 424.26,1674.31 427.69,1675.70 431.13,1677.06 434.56,1678.41 438.00,1679.75 441.43,1681.07 444.87,1682.37 448.30,1683.66 451.74,1684.93 455.17,1686.19 458.61,1687.43 462.04,1688.66 465.48,1689.88 468.91,1691.08 472.35,1692.27 475.78,1693.45 479.22,1694.61 482.65,1695.76 486.09,1696.90 489.52,1698.03 492.96,1699.15 496.39,1700.25 499.83,1701.35 503.26,1702.43 506.70,1703.50 510.13,1704.56 513.57,1705.61 517.00,1706.65 520.44,1707.68 523.87,1708.70 527.31,1709.71 530.74,1710.71 534.18,1711.70 537.61,1712.68 541.05,1713.65 544.48,1714.61 547.92,1715.56 551.35,1716.51 554.79,1717.44 558.22,1718.37 561.66,1719.29 565.09,1720.20 568.53,1721.11 571.96,1722.00 575.40,1722.89 578.83,1723.77 582.27,1724.64 585.70,1725.51 589.14,1726.36 592.57,1727.21 596.01,1728.06 599.44,1728.89 602.88,1729.72 606.31,1730.54 609.75,1731.36 613.18,1732.17 616.62,1732.97 620.05,1733.76 623.49,1734.55 626.92,1735.34 630.36,1736.11 633.79,1736.88 637.23,1737.65 640.66,1738.41 644.10,1739.16 647.53,1739.91 650.97,1740.65 654.40,1741.38 657.84,1742.11 661.27,1742.84 664.71,1743.56 668.14,1744.27 671.58,1744.98 675.01,1745.68 678.45,1746.38 681.88,1747.08 685.32,1747.76 688.75,1748.45 692.19,1749.13 695.62,1749.80 699.06,1750.47 702.49,1751.13 705.93,1751.79 709.36,1752.45 712.80,1753.10 716.23,1753.74 719.67,1754.39 723.10,1755.02 726.54,1755.66 729.97,1756.29 733.41,1756.91 736.84,1757.53 740.28,1758.15 743.71,1758.76 747.15,1759.37 750.58,1759.97 754.02,1760.57 757.45,1761.17 760.89,1761.76 764.32,1762.35 767.76,1762.93 771.19,1763.52 774.63,1764.09 778.06,1764.67 781.50,1765.24 784.93,1765.81 788.37,1766.37 791.80,1766.93 795.24,1767.49 798.67,1768.04 802.11,1768.59 805.54,1769.13 808.98,1769.68 812.41,1770.22 815.85,1770.75 819.28,1771.29 822.72,1771.82 826.15,1772.35 829.59,1772.87 833.02,1773.39 836.46,1773.91 839.89,1774.42 843.33,1774.94 846.76,1775.45 850.20,1775.95 853.63,1776.46 857.07,1776.96" fill="none" stroke="#2e5b93" stroke-width="2.45" stroke-linejoin="round" clip-path="url(#cpe)"/>
<g stroke="#000" stroke-width="1.6" fill="none">
<line x1="173.50" y1="2017.3" x2="173.50" y2="2022.6"/>
<line x1="286.30" y1="2017.3" x2="286.30" y2="2022.6"/>
<line x1="399.10" y1="2017.3" x2="399.10" y2="2022.6"/>
<line x1="511.90" y1="2017.3" x2="511.90" y2="2022.6"/>
<line x1="624.70" y1="2017.3" x2="624.70" y2="2022.6"/>
<line x1="737.50" y1="2017.3" x2="737.50" y2="2022.6"/>
<line x1="850.30" y1="2017.3" x2="850.30" y2="2022.6"/>
<line x1="135.8" y1="2015.50" x2="130.5" y2="2015.50"/>
<line x1="135.8" y1="1946.90" x2="130.5" y2="1946.90"/>
<line x1="135.8" y1="1878.30" x2="130.5" y2="1878.30"/>
<line x1="135.8" y1="1809.70" x2="130.5" y2="1809.70"/>
<line x1="135.8" y1="1741.10" x2="130.5" y2="1741.10"/>
<line x1="135.8" y1="1672.50" x2="130.5" y2="1672.50"/>
<line x1="135.8" y1="1603.90" x2="130.5" y2="1603.90"/>
<line x1="135.8" y1="1535.30" x2="130.5" y2="1535.30"/>
<line x1="135.8" y1="1466.70" x2="130.5" y2="1466.70"/>
<rect x="135.8" y="1437.8" width="757.7" height="579.5"/>
</g>
<g font-family="'DejaVu Sans','Liberation Sans',sans-serif" font-size="30.0" fill="#000" stroke="#000" stroke-width="0.3">
<text transform="translate(173.50,2049.80) scale(1.0,1)" text-anchor="middle">1</text>
<text transform="translate(286.30,2049.80) scale(1.0,1)" text-anchor="middle">2</text>
<text transform="translate(399.10,2049.80) scale(1.0,1)" text-anchor="middle">3</text>
<text transform="translate(511.90,2049.80) scale(1.0,1)" text-anchor="middle">4</text>
<text transform="translate(624.70,2049.80) scale(1.0,1)" text-anchor="middle">5</text>
<text transform="translate(737.50,2049.80) scale(1.0,1)" text-anchor="middle">6</text>
<text transform="translate(850.30,2049.80) scale(1.0,1)" text-anchor="middle">7</text>
<text transform="translate(125.00,2026.43) scale(1.0,1)" text-anchor="end">0.2</text>
<text transform="translate(125.00,1957.84) scale(1.0,1)" text-anchor="end">0.3</text>
<text transform="translate(125.00,1889.23) scale(1.0,1)" text-anchor="end">0.4</text>
<text transform="translate(125.00,1820.63) scale(1.0,1)" text-anchor="end">0.5</text>
<text transform="translate(125.00,1752.04) scale(1.0,1)" text-anchor="end">0.6</text>
<text transform="translate(125.00,1683.43) scale(1.0,1)" text-anchor="end">0.7</text>
<text transform="translate(125.00,1614.84) scale(1.0,1)" text-anchor="end">0.8</text>
<text transform="translate(125.00,1546.23) scale(1.0,1)" text-anchor="end">0.9</text>
<text transform="translate(125.00,1477.63) scale(1.0,1)" text-anchor="end">1.0</text>
</g>
<rect x="360.7" y="1449.9" width="520.4" height="188.5" rx="4.5" fill="#fff" fill-opacity="0.8" stroke="#d2d2d2" stroke-opacity="0.85" stroke-width="1.6"/>
<line x1="370.8" y1="1469.7" x2="424.0" y2="1469.7" stroke="#2e5b93" stroke-width="2.1"/>
<text x="441.6" y="1478.60" font-family="'DejaVu Sans','Liberation Sans',sans-serif" font-size="25.4" stroke="#000" stroke-width="0.3">Theory</text>
<g fill="none" stroke="#973435" stroke-width="1.7"><rect x="393.00" y="1504.40" width="8.80" height="8.80"/></g>
<text x="441.6" y="1514.90" font-family="'DejaVu Sans','Liberation Sans',sans-serif" font-size="25.4" stroke="#000" stroke-width="0.3">NIMROD, ramping rate<tspan dx="5.50" dy="-0.40">∼</tspan><tspan dx="4.30" dy="0.40">0.03T/μs</tspan></text>
<g fill="none" stroke="#6e9031" stroke-width="1.7"><circle cx="397.40" cy="1545.20" r="4.40"/></g>
<text x="441.6" y="1551.30" font-family="'DejaVu Sans','Liberation Sans',sans-serif" font-size="25.4" stroke="#000" stroke-width="0.3">NIMROD, ramping rate<tspan dx="5.50" dy="-0.40">∼</tspan><tspan dx="4.30" dy="0.40">0.05T/μs</tspan></text>
<g fill="none" stroke="#6a488d" stroke-width="1.7"><path d="M395.93 1576.90L398.87 1576.90L398.87 1579.83L401.80 1579.83L401.80 1582.77L398.87 1582.77L398.87 1585.70L395.93 1585.70L395.93 1582.77L393.00 1582.77L393.00 1579.83L395.93 1579.83Z"/></g>
<text x="441.6" y="1587.40" font-family="'DejaVu Sans','Liberation Sans',sans-serif" font-size="25.4" stroke="#000" stroke-width="0.3">NIMROD, ramping rate<tspan dx="5.50" dy="-0.40">∼</tspan><tspan dx="4.30" dy="0.40">0.06T/μs</tspan></text>
<g fill="none" stroke="#2b8198" stroke-width="1.7"><path d="M395.20 1613.50L397.40 1615.70L399.60 1613.50L401.80 1615.70L399.60 1617.90L401.80 1620.10L399.60 1622.30L397.40 1620.10L395.20 1622.30L393.00 1620.10L395.20 1617.90L393.00 1615.70Z"/></g>
<text x="441.6" y="1624.00" font-family="'DejaVu Sans','Liberation Sans',sans-serif" font-size="25.4" stroke="#000" stroke-width="0.3">NIMROD, ramping rate<tspan dx="5.50" dy="-0.40">∼</tspan><tspan dx="4.30" dy="0.40">0.08T/μs</tspan></text>
<text transform="translate(513.7,2093.4) scale(0.98,1)" text-anchor="middle" font-family="'DejaVu Sans','Liberation Sans',sans-serif" font-size="42.3" stroke="#000" stroke-width="0.3"><tspan font-style="italic" font-size="42.30">B</tspan><tspan font-style="italic" font-size="29.61" dy="6.6" dx="0.4">w</tspan><tspan font-style="normal" font-size="29.61" dx="1.0">2</tspan><tspan font-style="normal" font-size="42.30" dy="-6.6" dx="3.2">/</tspan><tspan font-style="italic" font-size="42.30">B</tspan><tspan font-style="italic" font-size="29.61" dy="6.6" dx="0.6">w</tspan><tspan font-style="normal" font-size="29.61" dx="1.7">1</tspan></text>
<text transform="translate(62.5,1728.5) rotate(-90)" text-anchor="middle" font-family="'DejaVu Sans','Liberation Sans',sans-serif" font-size="42.3" stroke="#000" stroke-width="0.3"><tspan font-style="italic" font-size="42.30">x</tspan><tspan font-style="italic" font-size="29.61" dy="6.6">s</tspan><tspan font-style="normal" font-size="29.61">2</tspan><tspan font-style="normal" font-size="42.30" dy="-6.6" dx="1.0">/</tspan><tspan font-style="italic" font-size="42.30">x</tspan><tspan font-style="italic" font-size="29.61" dy="6.6">s</tspan><tspan font-style="normal" font-size="29.61">1</tspan></text>
<text font-family="'Liberation Sans','DejaVu Sans',sans-serif" font-size="44" fill="#000" stroke="#000" stroke-linejoin="round"><tspan x="0.17" y="1411.11" font-size="41.96" stroke-width="2.40" textLength="7.16" lengthAdjust="spacingAndGlyphs">(</tspan><tspan x="12.16" y="1413.52" font-size="40.09" stroke-width="0.54" textLength="22.35" lengthAdjust="spacingAndGlyphs">e</tspan><tspan x="39.06" y="1411.11" font-size="41.96" stroke-width="2.40" textLength="7.92" lengthAdjust="spacingAndGlyphs">)</tspan></text>
<clipPath id="cpf"><rect x="1079.8" y="1443.8" width="756.9000000000001" height="571.5"/></clipPath>
<g stroke="#acacac" stroke-dasharray="7.7 1.9 1.3 1.9" fill="none">
<g stroke-width="1.25">
<line x1="1117.80" y1="2015.3" x2="1117.80" y2="1443.8"/>
<line x1="1230.35" y1="2015.3" x2="1230.35" y2="1443.8"/>
<line x1="1342.90" y1="2015.3" x2="1342.90" y2="1443.8"/>
<line x1="1455.45" y1="2015.3" x2="1455.45" y2="1443.8"/>
<line x1="1568.00" y1="2015.3" x2="1568.00" y2="1443.8"/>
<line x1="1680.55" y1="2015.3" x2="1680.55" y2="1443.8"/>
<line x1="1793.10" y1="2015.3" x2="1793.10" y2="1443.8"/>
</g>
<g stroke-width="1.55">
<line x1="1079.8" y1="1944.30" x2="1836.7" y2="1944.30"/>
<line x1="1079.8" y1="1826.40" x2="1836.7" y2="1826.40"/>
<line x1="1079.8" y1="1708.50" x2="1836.7" y2="1708.50"/>
<line x1="1079.8" y1="1590.60" x2="1836.7" y2="1590.60"/>
<line x1="1079.8" y1="1472.70" x2="1836.7" y2="1472.70"/>
</g>
</g>
<g fill="none" stroke="#973435" stroke-width="1.7" stroke-linejoin="miter" clip-path="url(#cpf)">
<rect x="1113.40" y="1468.44" width="8.80" height="8.80"/>
<rect x="1122.39" y="1538.39" width="8.80" height="8.80"/>
<rect x="1132.20" y="1594.48" width="8.80" height="8.80"/>
<rect x="1144.01" y="1626.59" width="8.80" height="8.80"/>
<rect x="1156.68" y="1638.30" width="8.80" height="8.80"/>
<rect x="1168.15" y="1647.14" width="8.80" height="8.80"/>
<rect x="1180.32" y="1662.80" width="8.80" height="8.80"/>
<rect x="1192.35" y="1682.13" width="8.80" height="8.80"/>
<rect x="1204.38" y="1704.44" width="8.80" height="8.80"/>
<rect x="1216.41" y="1731.57" width="8.80" height="8.80"/>
<rect x="1228.44" y="1759.35" width="8.80" height="8.80"/>
<rect x="1240.47" y="1798.58" width="8.80" height="8.80"/>
<rect x="1252.50" y="1818.48" width="8.80" height="8.80"/>
<rect x="1264.35" y="1809.14" width="8.80" height="8.80"/>
<rect x="1276.20" y="1799.12" width="8.80" height="8.80"/>
<rect x="1288.32" y="1794.55" width="8.80" height="8.80"/>
<rect x="1300.45" y="1800.43" width="8.80" height="8.80"/>
<rect x="1312.70" y="1811.98" width="8.80" height="8.80"/>
<rect x="1324.95" y="1829.77" width="8.80" height="8.80"/>
<rect x="1337.53" y="1842.85" width="8.80" height="8.80"/>
<rect x="1350.11" y="1854.22" width="8.80" height="8.80"/>
<rect x="1362.78" y="1859.59" width="8.80" height="8.80"/>
<rect x="1375.45" y="1862.81" width="8.80" height="8.80"/>
<rect x="1388.36" y="1873.33" width="8.80" height="8.80"/>
<rect x="1401.27" y="1878.86" width="8.80" height="8.80"/>
<rect x="1413.99" y="1882.69" width="8.80" height="8.80"/>
<rect x="1429.00" y="1888.74" width="8.80" height="8.80"/>
<rect x="1444.00" y="1892.70" width="8.80" height="8.80"/>
<rect x="1459.00" y="1897.84" width="8.80" height="8.80"/>
<rect x="1474.00" y="1903.84" width="8.80" height="8.80"/>
<rect x="1489.21" y="1907.98" width="8.80" height="8.80"/>
<rect x="1504.42" y="1912.82" width="8.80" height="8.80"/>
<rect x="1519.63" y="1917.58" width="8.80" height="8.80"/>
<rect x="1534.84" y="1922.31" width="8.80" height="8.80"/>
<rect x="1550.05" y="1925.47" width="8.80" height="8.80"/>
<rect x="1565.90" y="1928.12" width="8.80" height="8.80"/>
<rect x="1581.49" y="1932.45" width="8.80" height="8.80"/>
<rect x="1597.39" y="1934.96" width="8.80" height="8.80"/>
<rect x="1613.40" y="1941.11" width="8.80" height="8.80"/>
<rect x="1629.91" y="1941.26" width="8.80" height="8.80"/>
<rect x="1647.61" y="1947.04" width="8.80" height="8.80"/>
<rect x="1664.51" y="1952.34" width="8.80" height="8.80"/>
<rect x="1681.40" y="1952.47" width="8.80" height="8.80"/>
<rect x="1698.85" y="1957.06" width="8.80" height="8.80"/>
<rect x="1717.24" y="1957.72" width="8.80" height="8.80"/>
<rect x="1736.99" y="1960.90" width="8.80" height="8.80"/>
<rect x="1755.41" y="1965.89" width="8.80" height="8.80"/>
<rect x="1774.32" y="1965.96" width="8.80" height="8.80"/>
<rect x="1794.78" y="1971.34" width="8.80" height="8.80"/>
</g>
<g fill="none" stroke="#6e9031" stroke-width="1.7" stroke-linejoin="miter" clip-path="url(#cpf)">
<circle cx="1117.80" cy="1472.83" r="4.40"/>
<circle cx="1131.07" cy="1569.73" r="4.40"/>
<circle cx="1144.90" cy="1638.24" r="4.40"/>
<circle cx="1161.77" cy="1667.30" r="4.40"/>
<circle cx="1177.95" cy="1681.80" r="4.40"/>
<circle cx="1194.12" cy="1694.38" r="4.40"/>
<circle cx="1210.44" cy="1711.33" r="4.40"/>
<circle cx="1226.69" cy="1738.16" r="4.40"/>
<circle cx="1242.93" cy="1759.55" r="4.40"/>
<circle cx="1259.18" cy="1791.93" r="4.40"/>
<circle cx="1275.43" cy="1828.93" r="4.40"/>
<circle cx="1291.87" cy="1853.49" r="4.40"/>
<circle cx="1308.31" cy="1864.91" r="4.40"/>
<circle cx="1324.75" cy="1857.69" r="4.40"/>
<circle cx="1341.19" cy="1851.14" r="4.40"/>
<circle cx="1357.63" cy="1842.32" r="4.40"/>
<circle cx="1374.07" cy="1842.88" r="4.40"/>
<circle cx="1390.51" cy="1855.03" r="4.40"/>
<circle cx="1406.96" cy="1867.35" r="4.40"/>
<circle cx="1423.40" cy="1878.99" r="4.40"/>
<circle cx="1439.84" cy="1889.03" r="4.40"/>
<circle cx="1456.28" cy="1893.41" r="4.40"/>
<circle cx="1472.60" cy="1902.20" r="4.40"/>
<circle cx="1489.74" cy="1912.62" r="4.40"/>
<circle cx="1506.33" cy="1917.14" r="4.40"/>
<circle cx="1528.73" cy="1927.33" r="4.40"/>
<circle cx="1551.13" cy="1932.93" r="4.40"/>
<circle cx="1575.47" cy="1938.25" r="4.40"/>
<circle cx="1601.18" cy="1945.81" r="4.40"/>
<circle cx="1626.90" cy="1950.91" r="4.40"/>
<circle cx="1652.62" cy="1956.88" r="4.40"/>
<circle cx="1680.00" cy="1963.73" r="4.40"/>
<circle cx="1708.48" cy="1970.06" r="4.40"/>
<circle cx="1736.96" cy="1970.52" r="4.40"/>
<circle cx="1767.11" cy="1975.33" r="4.40"/>
<circle cx="1794.76" cy="1981.28" r="4.40"/>
</g>
<g fill="none" stroke="#6a488d" stroke-width="1.7" stroke-linejoin="miter" clip-path="url(#cpf)">
<path d="M1116.33 1468.41L1119.27 1468.41L1119.27 1471.35L1122.20 1471.35L1122.20 1474.28L1119.27 1474.28L1119.27 1477.21L1116.33 1477.21L1116.33 1474.28L1113.40 1474.28L1113.40 1471.35L1116.33 1471.35Z"/>
<path d="M1126.68 1537.88L1129.61 1537.88L1129.61 1540.81L1132.54 1540.81L1132.54 1543.74L1129.61 1543.74L1129.61 1546.68L1126.68 1546.68L1126.68 1543.74L1123.74 1543.74L1123.74 1540.81L1126.68 1540.81Z"/>
<path d="M1134.92 1600.72L1137.85 1600.72L1137.85 1603.65L1140.78 1603.65L1140.78 1606.59L1137.85 1606.59L1137.85 1609.52L1134.92 1609.52L1134.92 1606.59L1131.98 1606.59L1131.98 1603.65L1134.92 1603.65Z"/>
<path d="M1146.39 1644.41L1149.33 1644.41L1149.33 1647.35L1152.26 1647.35L1152.26 1650.28L1149.33 1650.28L1149.33 1653.21L1146.39 1653.21L1146.39 1650.28L1143.46 1650.28L1143.46 1647.35L1146.39 1647.35Z"/>
<path d="M1158.31 1665.87L1161.24 1665.87L1161.24 1668.80L1164.18 1668.80L1164.18 1671.73L1161.24 1671.73L1161.24 1674.67L1158.31 1674.67L1158.31 1671.73L1155.38 1671.73L1155.38 1668.80L1158.31 1668.80Z"/>
<path d="M1170.26 1683.11L1173.19 1683.11L1173.19 1686.05L1176.12 1686.05L1176.12 1688.98L1173.19 1688.98L1173.19 1691.91L1170.26 1691.91L1170.26 1688.98L1167.32 1688.98L1167.32 1686.05L1170.26 1686.05Z"/>
<path d="M1181.26 1692.02L1184.20 1692.02L1184.20 1694.95L1187.13 1694.95L1187.13 1697.88L1184.20 1697.88L1184.20 1700.82L1181.26 1700.82L1181.26 1697.88L1178.33 1697.88L1178.33 1694.95L1181.26 1694.95Z"/>
<path d="M1192.63 1701.96L1195.56 1701.96L1195.56 1704.89L1198.50 1704.89L1198.50 1707.83L1195.56 1707.83L1195.56 1710.76L1192.63 1710.76L1192.63 1707.83L1189.70 1707.83L1189.70 1704.89L1192.63 1704.89Z"/>
<path d="M1204.00 1707.33L1206.93 1707.33L1206.93 1710.27L1209.86 1710.27L1209.86 1713.20L1206.93 1713.20L1206.93 1716.13L1204.00 1716.13L1204.00 1713.20L1201.06 1713.20L1201.06 1710.27L1204.00 1710.27Z"/>
<path d="M1215.82 1720.23L1218.75 1720.23L1218.75 1723.16L1221.68 1723.16L1221.68 1726.10L1218.75 1726.10L1218.75 1729.03L1215.82 1729.03L1215.82 1726.10L1212.88 1726.10L1212.88 1723.16L1215.82 1723.16Z"/>
<path d="M1227.64 1733.31L1230.57 1733.31L1230.57 1736.24L1233.51 1736.24L1233.51 1739.18L1230.57 1739.18L1230.57 1742.11L1227.64 1742.11L1227.64 1739.18L1224.71 1739.18L1224.71 1736.24L1227.64 1736.24Z"/>
<path d="M1239.46 1751.62L1242.39 1751.62L1242.39 1754.55L1245.33 1754.55L1245.33 1757.49L1242.39 1757.49L1242.39 1760.42L1239.46 1760.42L1239.46 1757.49L1236.53 1757.49L1236.53 1754.55L1239.46 1754.55Z"/>
<path d="M1251.28 1766.93L1254.22 1766.93L1254.22 1769.87L1257.15 1769.87L1257.15 1772.80L1254.22 1772.80L1254.22 1775.73L1251.28 1775.73L1251.28 1772.80L1248.35 1772.80L1248.35 1769.87L1251.28 1769.87Z"/>
<path d="M1262.71 1787.04L1265.65 1787.04L1265.65 1789.97L1268.58 1789.97L1268.58 1792.90L1265.65 1792.90L1265.65 1795.84L1262.71 1795.84L1262.71 1792.90L1259.78 1792.90L1259.78 1789.97L1262.71 1789.97Z"/>
<path d="M1274.14 1806.65L1277.08 1806.65L1277.08 1809.59L1280.01 1809.59L1280.01 1812.52L1277.08 1812.52L1277.08 1815.45L1274.14 1815.45L1274.14 1812.52L1271.21 1812.52L1271.21 1809.59L1274.14 1809.59Z"/>
<path d="M1285.57 1828.98L1288.51 1828.98L1288.51 1831.91L1291.44 1831.91L1291.44 1834.85L1288.51 1834.85L1288.51 1837.78L1285.57 1837.78L1285.57 1834.85L1282.64 1834.85L1282.64 1831.91L1285.57 1831.91Z"/>
<path d="M1297.06 1849.46L1299.99 1849.46L1299.99 1852.39L1302.93 1852.39L1302.93 1855.32L1299.99 1855.32L1299.99 1858.26L1297.06 1858.26L1297.06 1855.32L1294.13 1855.32L1294.13 1852.39L1297.06 1852.39Z"/>
<path d="M1308.54 1868.73L1311.48 1868.73L1311.48 1871.66L1314.41 1871.66L1314.41 1874.59L1311.48 1874.59L1311.48 1877.53L1308.54 1877.53L1308.54 1874.59L1305.61 1874.59L1305.61 1871.66L1308.54 1871.66Z"/>
<path d="M1320.03 1879.51L1322.96 1879.51L1322.96 1882.45L1325.90 1882.45L1325.90 1885.38L1322.96 1885.38L1322.96 1888.31L1320.03 1888.31L1320.03 1885.38L1317.10 1885.38L1317.10 1882.45L1320.03 1882.45Z"/>
<path d="M1331.51 1878.75L1334.45 1878.75L1334.45 1881.69L1337.38 1881.69L1337.38 1884.62L1334.45 1884.62L1334.45 1887.55L1331.51 1887.55L1331.51 1884.62L1328.58 1884.62L1328.58 1881.69L1331.51 1881.69Z"/>
<path d="M1343.00 1872.49L1345.93 1872.49L1345.93 1875.43L1348.87 1875.43L1348.87 1878.36L1345.93 1878.36L1345.93 1881.29L1343.00 1881.29L1343.00 1878.36L1340.07 1878.36L1340.07 1875.43L1343.00 1875.43Z"/>
<path d="M1354.49 1867.09L1357.42 1867.09L1357.42 1870.03L1360.35 1870.03L1360.35 1872.96L1357.42 1872.96L1357.42 1875.89L1354.49 1875.89L1354.49 1872.96L1351.55 1872.96L1351.55 1870.03L1354.49 1870.03Z"/>
<path d="M1365.97 1862.19L1368.90 1862.19L1368.90 1865.13L1371.84 1865.13L1371.84 1868.06L1368.90 1868.06L1368.90 1870.99L1365.97 1870.99L1365.97 1868.06L1363.04 1868.06L1363.04 1865.13L1365.97 1865.13Z"/>
<path d="M1377.46 1859.45L1380.39 1859.45L1380.39 1862.39L1383.32 1862.39L1383.32 1865.32L1380.39 1865.32L1380.39 1868.25L1377.46 1868.25L1377.46 1865.32L1374.52 1865.32L1374.52 1862.39L1377.46 1862.39Z"/>
<path d="M1388.94 1858.07L1391.88 1858.07L1391.88 1861.01L1394.81 1861.01L1394.81 1863.94L1391.88 1863.94L1391.88 1866.87L1388.94 1866.87L1388.94 1863.94L1386.01 1863.94L1386.01 1861.01L1388.94 1861.01Z"/>
<path d="M1400.43 1854.92L1403.36 1854.92L1403.36 1857.86L1406.29 1857.86L1406.29 1860.79L1403.36 1860.79L1403.36 1863.72L1400.43 1863.72L1400.43 1860.79L1397.49 1860.79L1397.49 1857.86L1400.43 1857.86Z"/>
<path d="M1411.91 1859.91L1414.85 1859.91L1414.85 1862.85L1417.78 1862.85L1417.78 1865.78L1414.85 1865.78L1414.85 1868.71L1411.91 1868.71L1411.91 1865.78L1408.98 1865.78L1408.98 1862.85L1411.91 1862.85Z"/>
<path d="M1423.40 1868.16L1426.33 1868.16L1426.33 1871.09L1429.27 1871.09L1429.27 1874.03L1426.33 1874.03L1426.33 1876.96L1423.40 1876.96L1423.40 1874.03L1420.47 1874.03L1420.47 1871.09L1423.40 1871.09Z"/>
<path d="M1434.88 1873.71L1437.82 1873.71L1437.82 1876.64L1440.75 1876.64L1440.75 1879.57L1437.82 1879.57L1437.82 1882.51L1434.88 1882.51L1434.88 1879.57L1431.95 1879.57L1431.95 1876.64L1434.88 1876.64Z"/>
<path d="M1446.37 1884.37L1449.30 1884.37L1449.30 1887.31L1452.24 1887.31L1452.24 1890.24L1449.30 1890.24L1449.30 1893.17L1446.37 1893.17L1446.37 1890.24L1443.44 1890.24L1443.44 1887.31L1446.37 1887.31Z"/>
<path d="M1457.85 1888.30L1460.79 1888.30L1460.79 1891.24L1463.72 1891.24L1463.72 1894.17L1460.79 1894.17L1460.79 1897.10L1457.85 1897.10L1457.85 1894.17L1454.92 1894.17L1454.92 1891.24L1457.85 1891.24Z"/>
<path d="M1470.06 1893.23L1473.00 1893.23L1473.00 1896.16L1475.93 1896.16L1475.93 1899.10L1473.00 1899.10L1473.00 1902.03L1470.06 1902.03L1470.06 1899.10L1467.13 1899.10L1467.13 1896.16L1470.06 1896.16Z"/>
<path d="M1482.27 1897.80L1485.20 1897.80L1485.20 1900.73L1488.14 1900.73L1488.14 1903.66L1485.20 1903.66L1485.20 1906.60L1482.27 1906.60L1482.27 1903.66L1479.34 1903.66L1479.34 1900.73L1482.27 1900.73Z"/>
<path d="M1494.48 1904.36L1497.41 1904.36L1497.41 1907.30L1500.34 1907.30L1500.34 1910.23L1497.41 1910.23L1497.41 1913.16L1494.48 1913.16L1494.48 1910.23L1491.54 1910.23L1491.54 1907.30L1494.48 1907.30Z"/>
<path d="M1506.68 1913.05L1509.62 1913.05L1509.62 1915.99L1512.55 1915.99L1512.55 1918.92L1509.62 1918.92L1509.62 1921.85L1506.68 1921.85L1506.68 1918.92L1503.75 1918.92L1503.75 1915.99L1506.68 1915.99Z"/>
<path d="M1518.89 1916.60L1521.82 1916.60L1521.82 1919.54L1524.76 1919.54L1524.76 1922.47L1521.82 1922.47L1521.82 1925.40L1518.89 1925.40L1518.89 1922.47L1515.96 1922.47L1515.96 1919.54L1518.89 1919.54Z"/>
<path d="M1531.10 1922.95L1534.03 1922.95L1534.03 1925.89L1536.96 1925.89L1536.96 1928.82L1534.03 1928.82L1534.03 1931.75L1531.10 1931.75L1531.10 1928.82L1528.16 1928.82L1528.16 1925.89L1531.10 1925.89Z"/>
<path d="M1543.30 1928.40L1546.24 1928.40L1546.24 1931.33L1549.17 1931.33L1549.17 1934.27L1546.24 1934.27L1546.24 1937.20L1543.30 1937.20L1543.30 1934.27L1540.37 1934.27L1540.37 1931.33L1543.30 1931.33Z"/>
<path d="M1557.96 1932.35L1560.89 1932.35L1560.89 1935.28L1563.83 1935.28L1563.83 1938.21L1560.89 1938.21L1560.89 1941.15L1557.96 1941.15L1557.96 1938.21L1555.03 1938.21L1555.03 1935.28L1557.96 1935.28Z"/>
<path d="M1575.11 1934.06L1578.04 1934.06L1578.04 1936.99L1580.97 1936.99L1580.97 1939.92L1578.04 1939.92L1578.04 1942.86L1575.11 1942.86L1575.11 1939.92L1572.17 1939.92L1572.17 1936.99L1575.11 1936.99Z"/>
<path d="M1592.25 1941.32L1595.18 1941.32L1595.18 1944.26L1598.12 1944.26L1598.12 1947.19L1595.18 1947.19L1595.18 1950.12L1592.25 1950.12L1592.25 1947.19L1589.32 1947.19L1589.32 1944.26L1592.25 1944.26Z"/>
<path d="M1609.95 1946.21L1612.88 1946.21L1612.88 1949.14L1615.82 1949.14L1615.82 1952.07L1612.88 1952.07L1612.88 1955.01L1609.95 1955.01L1609.95 1952.07L1607.02 1952.07L1607.02 1949.14L1609.95 1949.14Z"/>
<path d="M1629.03 1952.23L1631.96 1952.23L1631.96 1955.16L1634.90 1955.16L1634.90 1958.10L1631.96 1958.10L1631.96 1961.03L1629.03 1961.03L1629.03 1958.10L1626.10 1958.10L1626.10 1955.16L1629.03 1955.16Z"/>
<path d="M1647.83 1956.96L1650.77 1956.96L1650.77 1959.89L1653.70 1959.89L1653.70 1962.82L1650.77 1962.82L1650.77 1965.76L1647.83 1965.76L1647.83 1962.82L1644.90 1962.82L1644.90 1959.89L1647.83 1959.89Z"/>
<path d="M1667.19 1957.12L1670.13 1957.12L1670.13 1960.05L1673.06 1960.05L1673.06 1962.99L1670.13 1962.99L1670.13 1965.92L1667.19 1965.92L1667.19 1962.99L1664.26 1962.99L1664.26 1960.05L1667.19 1960.05Z"/>
<path d="M1685.72 1961.14L1688.65 1961.14L1688.65 1964.07L1691.59 1964.07L1691.59 1967.00L1688.65 1967.00L1688.65 1969.94L1685.72 1969.94L1685.72 1967.00L1682.79 1967.00L1682.79 1964.07L1685.72 1964.07Z"/>
<path d="M1705.35 1965.64L1708.29 1965.64L1708.29 1968.57L1711.22 1968.57L1711.22 1971.50L1708.29 1971.50L1708.29 1974.44L1705.35 1974.44L1705.35 1971.50L1702.42 1971.50L1702.42 1968.57L1705.35 1968.57Z"/>
<path d="M1725.26 1965.90L1728.20 1965.90L1728.20 1968.83L1731.13 1968.83L1731.13 1971.77L1728.20 1971.77L1728.20 1974.70L1725.26 1974.70L1725.26 1971.77L1722.33 1971.77L1722.33 1968.83L1725.26 1968.83Z"/>
<path d="M1744.62 1971.50L1747.56 1971.50L1747.56 1974.44L1750.49 1974.44L1750.49 1977.37L1747.56 1977.37L1747.56 1980.30L1744.62 1980.30L1744.62 1977.37L1741.69 1977.37L1741.69 1974.44L1744.62 1974.44Z"/>
<path d="M1766.19 1977.04L1769.13 1977.04L1769.13 1979.98L1772.06 1979.98L1772.06 1982.91L1769.13 1982.91L1769.13 1985.84L1766.19 1985.84L1766.19 1982.91L1763.26 1982.91L1763.26 1979.98L1766.19 1979.98Z"/>
<path d="M1786.66 1977.04L1789.59 1977.04L1789.59 1979.98L1792.52 1979.98L1792.52 1982.91L1789.59 1982.91L1789.59 1985.84L1786.66 1985.84L1786.66 1982.91L1783.72 1982.91L1783.72 1979.98L1786.66 1979.98Z"/>
</g>
<g fill="none" stroke="#2b8198" stroke-width="1.7" stroke-linejoin="miter" clip-path="url(#cpf)">
<path d="M1115.60 1468.38L1117.80 1470.58L1120.00 1468.38L1122.20 1470.58L1120.00 1472.78L1122.20 1474.98L1120.00 1477.18L1117.80 1474.98L1115.60 1477.18L1113.40 1474.98L1115.60 1472.78L1113.40 1470.58Z"/>
<path d="M1124.95 1519.48L1127.15 1521.68L1129.35 1519.48L1131.55 1521.68L1129.35 1523.88L1131.55 1526.08L1129.35 1528.28L1127.15 1526.08L1124.95 1528.28L1122.75 1526.08L1124.95 1523.88L1122.75 1521.68Z"/>
<path d="M1132.83 1581.90L1135.03 1584.10L1137.23 1581.90L1139.43 1584.10L1137.23 1586.30L1139.43 1588.50L1137.23 1590.70L1135.03 1588.50L1132.83 1590.70L1130.63 1588.50L1132.83 1586.30L1130.63 1584.10Z"/>
<path d="M1141.04 1629.11L1143.24 1631.31L1145.44 1629.11L1147.64 1631.31L1145.44 1633.51L1147.64 1635.71L1145.44 1637.91L1143.24 1635.71L1141.04 1637.91L1138.84 1635.71L1141.04 1633.51L1138.84 1631.31Z"/>
<path d="M1151.38 1665.94L1153.58 1668.14L1155.78 1665.94L1157.98 1668.14L1155.78 1670.34L1157.98 1672.54L1155.78 1674.74L1153.58 1672.54L1151.38 1674.74L1149.18 1672.54L1151.38 1670.34L1149.18 1668.14Z"/>
<path d="M1162.20 1688.03L1164.40 1690.23L1166.60 1688.03L1168.80 1690.23L1166.60 1692.43L1168.80 1694.63L1166.60 1696.83L1164.40 1694.63L1162.20 1696.83L1160.00 1694.63L1162.20 1692.43L1160.00 1690.23Z"/>
<path d="M1173.01 1702.81L1175.21 1705.01L1177.41 1702.81L1179.61 1705.01L1177.41 1707.21L1179.61 1709.41L1177.41 1711.61L1175.21 1709.41L1173.01 1711.61L1170.81 1709.41L1173.01 1707.21L1170.81 1705.01Z"/>
<path d="M1183.13 1712.13L1185.33 1714.33L1187.53 1712.13L1189.73 1714.33L1187.53 1716.53L1189.73 1718.73L1187.53 1720.93L1185.33 1718.73L1183.13 1720.93L1180.93 1718.73L1183.13 1716.53L1180.93 1714.33Z"/>
<path d="M1192.70 1716.05L1194.90 1718.25L1197.10 1716.05L1199.30 1718.25L1197.10 1720.45L1199.30 1722.65L1197.10 1724.85L1194.90 1722.65L1192.70 1724.85L1190.50 1722.65L1192.70 1720.45L1190.50 1718.25Z"/>
<path d="M1202.82 1721.19L1205.02 1723.39L1207.22 1721.19L1209.42 1723.39L1207.22 1725.59L1209.42 1727.79L1207.22 1729.99L1205.02 1727.79L1202.82 1729.99L1200.62 1727.79L1202.82 1725.59L1200.62 1723.39Z"/>
<path d="M1212.61 1726.73L1214.81 1728.93L1217.01 1726.73L1219.21 1728.93L1217.01 1731.13L1219.21 1733.33L1217.01 1735.53L1214.81 1733.33L1212.61 1735.53L1210.41 1733.33L1212.61 1731.13L1210.41 1728.93Z"/>
<path d="M1222.73 1732.88L1224.93 1735.08L1227.13 1732.88L1229.33 1735.08L1227.13 1737.28L1229.33 1739.48L1227.13 1741.68L1224.93 1739.48L1222.73 1741.68L1220.53 1739.48L1222.73 1737.28L1220.53 1735.08Z"/>
<path d="M1232.85 1745.65L1235.05 1747.85L1237.25 1745.65L1239.45 1747.85L1237.25 1750.05L1239.45 1752.25L1237.25 1754.45L1235.05 1752.25L1232.85 1754.45L1230.65 1752.25L1232.85 1750.05L1230.65 1747.85Z"/>
<path d="M1242.97 1757.59L1245.17 1759.79L1247.37 1757.59L1249.57 1759.79L1247.37 1761.99L1249.57 1764.19L1247.37 1766.39L1245.17 1764.19L1242.97 1766.39L1240.77 1764.19L1242.97 1761.99L1240.77 1759.79Z"/>
<path d="M1253.09 1769.83L1255.29 1772.03L1257.49 1769.83L1259.69 1772.03L1257.49 1774.23L1259.69 1776.43L1257.49 1778.63L1255.29 1776.43L1253.09 1778.63L1250.89 1776.43L1253.09 1774.23L1250.89 1772.03Z"/>
<path d="M1263.21 1781.10L1265.41 1783.30L1267.61 1781.10L1269.81 1783.30L1267.61 1785.50L1269.81 1787.70L1267.61 1789.90L1265.41 1787.70L1263.21 1789.90L1261.01 1787.70L1263.21 1785.50L1261.01 1783.30Z"/>
<path d="M1273.34 1794.02L1275.54 1796.22L1277.74 1794.02L1279.94 1796.22L1277.74 1798.42L1279.94 1800.62L1277.74 1802.82L1275.54 1800.62L1273.34 1802.82L1271.14 1800.62L1273.34 1798.42L1271.14 1796.22Z"/>
<path d="M1283.46 1809.09L1285.66 1811.29L1287.86 1809.09L1290.06 1811.29L1287.86 1813.49L1290.06 1815.69L1287.86 1817.89L1285.66 1815.69L1283.46 1817.89L1281.26 1815.69L1283.46 1813.49L1281.26 1811.29Z"/>
<path d="M1293.58 1823.71L1295.78 1825.91L1297.98 1823.71L1300.18 1825.91L1297.98 1828.11L1300.18 1830.31L1297.98 1832.51L1295.78 1830.31L1293.58 1832.51L1291.38 1830.31L1293.58 1828.11L1291.38 1825.91Z"/>
<path d="M1303.69 1838.02L1305.89 1840.22L1308.09 1838.02L1310.29 1840.22L1308.09 1842.42L1310.29 1844.62L1308.09 1846.82L1305.89 1844.62L1303.69 1846.82L1301.49 1844.62L1303.69 1842.42L1301.49 1840.22Z"/>
<path d="M1313.81 1858.08L1316.01 1860.28L1318.21 1858.08L1320.41 1860.28L1318.21 1862.48L1320.41 1864.68L1318.21 1866.88L1316.01 1864.68L1313.81 1866.88L1311.61 1864.68L1313.81 1862.48L1311.61 1860.28Z"/>
<path d="M1323.93 1873.03L1326.13 1875.23L1328.33 1873.03L1330.53 1875.23L1328.33 1877.43L1330.53 1879.63L1328.33 1881.83L1326.13 1879.63L1323.93 1881.83L1321.73 1879.63L1323.93 1877.43L1321.73 1875.23Z"/>
<path d="M1334.05 1886.09L1336.25 1888.29L1338.45 1886.09L1340.65 1888.29L1338.45 1890.49L1340.65 1892.69L1338.45 1894.89L1336.25 1892.69L1334.05 1894.89L1331.85 1892.69L1334.05 1890.49L1331.85 1888.29Z"/>
<path d="M1344.16 1898.20L1346.36 1900.40L1348.56 1898.20L1350.76 1900.40L1348.56 1902.60L1350.76 1904.80L1348.56 1907.00L1346.36 1904.80L1344.16 1907.00L1341.96 1904.80L1344.16 1902.60L1341.96 1900.40Z"/>
<path d="M1354.28 1903.90L1356.48 1906.10L1358.68 1903.90L1360.88 1906.10L1358.68 1908.30L1360.88 1910.50L1358.68 1912.70L1356.48 1910.50L1354.28 1912.70L1352.08 1910.50L1354.28 1908.30L1352.08 1906.10Z"/>
<path d="M1364.40 1903.90L1366.60 1906.10L1368.80 1903.90L1371.00 1906.10L1368.80 1908.30L1371.00 1910.50L1368.80 1912.70L1366.60 1910.50L1364.40 1912.70L1362.20 1910.50L1364.40 1908.30L1362.20 1906.10Z"/>
<path d="M1374.52 1903.90L1376.72 1906.10L1378.92 1903.90L1381.12 1906.10L1378.92 1908.30L1381.12 1910.50L1378.92 1912.70L1376.72 1910.50L1374.52 1912.70L1372.32 1910.50L1374.52 1908.30L1372.32 1906.10Z"/>
<path d="M1384.64 1902.85L1386.84 1905.05L1389.04 1902.85L1391.24 1905.05L1389.04 1907.25L1391.24 1909.45L1389.04 1911.65L1386.84 1909.45L1384.64 1911.65L1382.44 1909.45L1384.64 1907.25L1382.44 1905.05Z"/>
<path d="M1394.75 1896.75L1396.95 1898.95L1399.15 1896.75L1401.35 1898.95L1399.15 1901.15L1401.35 1903.35L1399.15 1905.55L1396.95 1903.35L1394.75 1905.55L1392.55 1903.35L1394.75 1901.15L1392.55 1898.95Z"/>
<path d="M1404.87 1891.25L1407.07 1893.45L1409.27 1891.25L1411.47 1893.45L1409.27 1895.65L1411.47 1897.85L1409.27 1900.05L1407.07 1897.85L1404.87 1900.05L1402.67 1897.85L1404.87 1895.65L1402.67 1893.45Z"/>
<path d="M1414.99 1886.50L1417.19 1888.70L1419.39 1886.50L1421.59 1888.70L1419.39 1890.90L1421.59 1893.10L1419.39 1895.30L1417.19 1893.10L1414.99 1895.30L1412.79 1893.10L1414.99 1890.90L1412.79 1888.70Z"/>
<path d="M1425.11 1881.94L1427.31 1884.14L1429.51 1881.94L1431.71 1884.14L1429.51 1886.34L1431.71 1888.54L1429.51 1890.74L1427.31 1888.54L1425.11 1890.74L1422.91 1888.54L1425.11 1886.34L1422.91 1884.14Z"/>
<path d="M1435.23 1879.00L1437.43 1881.20L1439.63 1879.00L1441.83 1881.20L1439.63 1883.40L1441.83 1885.60L1439.63 1887.80L1437.43 1885.60L1435.23 1887.80L1433.03 1885.60L1435.23 1883.40L1433.03 1881.20Z"/>
<path d="M1445.34 1879.51L1447.54 1881.71L1449.74 1879.51L1451.94 1881.71L1449.74 1883.91L1451.94 1886.11L1449.74 1888.31L1447.54 1886.11L1445.34 1888.31L1443.14 1886.11L1445.34 1883.91L1443.14 1881.71Z"/>
<path d="M1455.46 1880.16L1457.66 1882.36L1459.86 1880.16L1462.06 1882.36L1459.86 1884.56L1462.06 1886.76L1459.86 1888.96L1457.66 1886.76L1455.46 1888.96L1453.26 1886.76L1455.46 1884.56L1453.26 1882.36Z"/>
<path d="M1465.75 1884.01L1467.95 1886.21L1470.15 1884.01L1472.35 1886.21L1470.15 1888.41L1472.35 1890.61L1470.15 1892.81L1467.95 1890.61L1465.75 1892.81L1463.55 1890.61L1465.75 1888.41L1463.55 1886.21Z"/>
<path d="M1476.03 1887.04L1478.23 1889.24L1480.43 1887.04L1482.63 1889.24L1480.43 1891.44L1482.63 1893.64L1480.43 1895.84L1478.23 1893.64L1476.03 1895.84L1473.83 1893.64L1476.03 1891.44L1473.83 1889.24Z"/>
<path d="M1486.31 1893.34L1488.51 1895.54L1490.71 1893.34L1492.91 1895.54L1490.71 1897.74L1492.91 1899.94L1490.71 1902.14L1488.51 1899.94L1486.31 1902.14L1484.11 1899.94L1486.31 1897.74L1484.11 1895.54Z"/>
<path d="M1496.60 1899.19L1498.80 1901.39L1501.00 1899.19L1503.20 1901.39L1501.00 1903.59L1503.20 1905.79L1501.00 1907.99L1498.80 1905.79L1496.60 1907.99L1494.40 1905.79L1496.60 1903.59L1494.40 1901.39Z"/>
<path d="M1506.88 1904.82L1509.08 1907.02L1511.28 1904.82L1513.48 1907.02L1511.28 1909.22L1513.48 1911.42L1511.28 1913.62L1509.08 1911.42L1506.88 1913.62L1504.68 1911.42L1506.88 1909.22L1504.68 1907.02Z"/>
<path d="M1517.16 1908.48L1519.36 1910.68L1521.56 1908.48L1523.76 1910.68L1521.56 1912.88L1523.76 1915.08L1521.56 1917.28L1519.36 1915.08L1517.16 1917.28L1514.96 1915.08L1517.16 1912.88L1514.96 1910.68Z"/>
<path d="M1527.45 1911.33L1529.65 1913.53L1531.85 1911.33L1534.05 1913.53L1531.85 1915.73L1534.05 1917.93L1531.85 1920.13L1529.65 1917.93L1527.45 1920.13L1525.25 1917.93L1527.45 1915.73L1525.25 1913.53Z"/>
<path d="M1537.73 1917.05L1539.93 1919.25L1542.13 1917.05L1544.33 1919.25L1542.13 1921.45L1544.33 1923.65L1542.13 1925.85L1539.93 1923.65L1537.73 1925.85L1535.53 1923.65L1537.73 1921.45L1535.53 1919.25Z"/>
<path d="M1548.02 1923.18L1550.22 1925.38L1552.42 1923.18L1554.62 1925.38L1552.42 1927.58L1554.62 1929.78L1552.42 1931.98L1550.22 1929.78L1548.02 1931.98L1545.82 1929.78L1548.02 1927.58L1545.82 1925.38Z"/>
<path d="M1558.30 1927.96L1560.50 1930.16L1562.70 1927.96L1564.90 1930.16L1562.70 1932.36L1564.90 1934.56L1562.70 1936.76L1560.50 1934.56L1558.30 1936.76L1556.10 1934.56L1558.30 1932.36L1556.10 1930.16Z"/>
<path d="M1568.58 1928.74L1570.78 1930.94L1572.98 1928.74L1575.18 1930.94L1572.98 1933.14L1575.18 1935.34L1572.98 1937.54L1570.78 1935.34L1568.58 1937.54L1566.38 1935.34L1568.58 1933.14L1566.38 1930.94Z"/>
<path d="M1578.87 1934.09L1581.07 1936.29L1583.27 1934.09L1585.47 1936.29L1583.27 1938.49L1585.47 1940.69L1583.27 1942.89L1581.07 1940.69L1578.87 1942.89L1576.67 1940.69L1578.87 1938.49L1576.67 1936.29Z"/>
<path d="M1589.15 1935.55L1591.35 1937.75L1593.55 1935.55L1595.75 1937.75L1593.55 1939.95L1595.75 1942.15L1593.55 1944.35L1591.35 1942.15L1589.15 1944.35L1586.95 1942.15L1589.15 1939.95L1586.95 1937.75Z"/>
<path d="M1599.43 1941.78L1601.63 1943.98L1603.83 1941.78L1606.03 1943.98L1603.83 1946.18L1606.03 1948.38L1603.83 1950.58L1601.63 1948.38L1599.43 1950.58L1597.23 1948.38L1599.43 1946.18L1597.23 1943.98Z"/>
<path d="M1609.72 1947.91L1611.92 1950.11L1614.12 1947.91L1616.32 1950.11L1614.12 1952.31L1616.32 1954.51L1614.12 1956.71L1611.92 1954.51L1609.72 1956.71L1607.52 1954.51L1609.72 1952.31L1607.52 1950.11Z"/>
<path d="M1620.00 1952.34L1622.20 1954.54L1624.40 1952.34L1626.60 1954.54L1624.40 1956.74L1626.60 1958.94L1624.40 1961.14L1622.20 1958.94L1620.00 1961.14L1617.80 1958.94L1620.00 1956.74L1617.80 1954.54Z"/>
<path d="M1634.66 1952.56L1636.86 1954.76L1639.06 1952.56L1641.26 1954.76L1639.06 1956.96L1641.26 1959.16L1639.06 1961.36L1636.86 1959.16L1634.66 1961.36L1632.46 1959.16L1634.66 1956.96L1632.46 1954.76Z"/>
<path d="M1650.42 1957.84L1652.62 1960.04L1654.82 1957.84L1657.02 1960.04L1654.82 1962.24L1657.02 1964.44L1654.82 1966.64L1652.62 1964.44L1650.42 1966.64L1648.22 1964.44L1650.42 1962.24L1648.22 1960.04Z"/>
<path d="M1667.57 1961.38L1669.77 1963.58L1671.97 1961.38L1674.17 1963.58L1671.97 1965.78L1674.17 1967.98L1671.97 1970.18L1669.77 1967.98L1667.57 1970.18L1665.37 1967.98L1667.57 1965.78L1665.37 1963.58Z"/>
<path d="M1684.71 1966.16L1686.91 1968.36L1689.11 1966.16L1691.31 1968.36L1689.11 1970.56L1691.31 1972.76L1689.11 1974.96L1686.91 1972.76L1684.71 1974.96L1682.51 1972.76L1684.71 1970.56L1682.51 1968.36Z"/>
<path d="M1701.86 1971.34L1704.06 1973.54L1706.26 1971.34L1708.46 1973.54L1706.26 1975.74L1708.46 1977.94L1706.26 1980.14L1704.06 1977.94L1701.86 1980.14L1699.66 1977.94L1701.86 1975.74L1699.66 1973.54Z"/>
<path d="M1718.72 1971.50L1720.92 1973.70L1723.12 1971.50L1725.32 1973.70L1723.12 1975.90L1725.32 1978.10L1723.12 1980.30L1720.92 1978.10L1718.72 1980.30L1716.52 1978.10L1718.72 1975.90L1716.52 1973.70Z"/>
<path d="M1735.32 1977.03L1737.52 1979.23L1739.72 1977.03L1741.92 1979.23L1739.72 1981.43L1741.92 1983.63L1739.72 1985.83L1737.52 1983.63L1735.32 1985.83L1733.12 1983.63L1735.32 1981.43L1733.12 1979.23Z"/>
<path d="M1752.19 1977.05L1754.39 1979.25L1756.59 1977.05L1758.79 1979.25L1756.59 1981.45L1758.79 1983.65L1756.59 1985.85L1754.39 1983.65L1752.19 1985.85L1749.99 1983.65L1752.19 1981.45L1749.99 1979.25Z"/>
<path d="M1769.33 1981.79L1771.53 1983.99L1773.73 1981.79L1775.93 1983.99L1773.73 1986.19L1775.93 1988.39L1773.73 1990.59L1771.53 1988.39L1769.33 1990.59L1767.13 1988.39L1769.33 1986.19L1767.13 1983.99Z"/>
<path d="M1788.41 1981.79L1790.61 1983.99L1792.81 1981.79L1795.01 1983.99L1792.81 1986.19L1795.01 1988.39L1792.81 1990.59L1790.61 1988.39L1788.41 1990.59L1786.21 1988.39L1788.41 1986.19L1786.21 1983.99Z"/>
</g>
<polyline points="1117.80,1472.70 1120.08,1483.04 1122.36,1493.15 1124.64,1502.99 1126.92,1512.49 1129.20,1521.60 1131.48,1530.48 1133.76,1539.25 1136.04,1547.85 1138.32,1556.21 1140.60,1564.29 1142.88,1572.02 1145.16,1579.35 1147.43,1586.29 1149.71,1593.09 1151.99,1599.77 1154.27,1606.30 1156.55,1612.69 1158.83,1618.93 1161.11,1625.00 1163.39,1630.90 1165.67,1636.62 1167.95,1642.16 1170.23,1647.50 1172.51,1652.63 1174.79,1657.56 1177.07,1662.32 1179.35,1666.93 1181.63,1671.40 1183.91,1675.75 1186.19,1679.96 1188.47,1684.07 1190.75,1688.06 1193.03,1691.95 1195.31,1695.74 1197.59,1699.45 1199.87,1703.07 1202.15,1706.63 1204.43,1710.13 1206.70,1713.58 1208.98,1716.98 1211.26,1720.32 1213.54,1723.59 1215.82,1726.77 1218.10,1729.88 1220.38,1732.88 1222.66,1735.78 1224.94,1738.57 1227.22,1741.24 1229.50,1743.78 1231.78,1746.21 1234.06,1748.58 1236.34,1750.92 1238.62,1753.22 1240.90,1755.49 1243.18,1757.71 1245.46,1759.90 1247.74,1762.06 1250.02,1764.18 1252.30,1766.26 1254.58,1768.32 1256.86,1770.34 1259.14,1772.32 1261.42,1774.28 1263.69,1776.20 1265.97,1778.10 1268.25,1779.96 1270.53,1781.80 1272.81,1783.60 1275.09,1785.38 1277.37,1787.13 1279.65,1788.86 1281.93,1790.56 1284.21,1792.23 1286.49,1793.88 1288.77,1795.51 1291.05,1797.12 1293.33,1798.72 1295.61,1800.30 1297.89,1801.86 1300.17,1803.40 1302.45,1804.93 1304.73,1806.43 1307.01,1807.92 1309.29,1809.38 1311.57,1810.83 1313.85,1812.25 1316.13,1813.65 1318.41,1815.02 1320.69,1816.37 1322.96,1817.70 1325.24,1819.00 1327.52,1820.28 1329.80,1821.53 1332.08,1822.75 1334.36,1823.95 1336.64,1825.11 1338.92,1826.25 1341.20,1827.36 1343.48,1828.44 1345.76,1829.51 1348.04,1830.57 1350.32,1831.62 1352.60,1832.66 1354.88,1833.70 1357.16,1834.73 1359.44,1835.75 1361.72,1836.76 1364.00,1837.76 1366.28,1838.76 1368.56,1839.75 1370.84,1840.73 1373.12,1841.71 1375.40,1842.67 1377.68,1843.63 1379.95,1844.58 1382.23,1845.53 1384.51,1846.46 1386.79,1847.39 1389.07,1848.30 1391.35,1849.21 1393.63,1850.12 1395.91,1851.01 1398.19,1851.89 1400.47,1852.77 1402.75,1853.64 1405.03,1854.50 1407.31,1855.35 1409.59,1856.20 1411.87,1857.03 1414.15,1857.86 1416.43,1858.68 1418.71,1859.49 1420.99,1860.29 1423.27,1861.08 1425.55,1861.86 1427.83,1862.64 1430.11,1863.40 1432.39,1864.16 1434.67,1864.91 1436.95,1865.65 1439.22,1866.38 1441.50,1867.10 1443.78,1867.81 1446.06,1868.52 1448.34,1869.21 1450.62,1869.90 1452.90,1870.57 1455.18,1871.24 1457.46,1871.90 1459.74,1872.55 1462.02,1873.20 1464.30,1873.84 1466.58,1874.47 1468.86,1875.09 1471.14,1875.71 1473.42,1876.32 1475.70,1876.92 1477.98,1877.52 1480.26,1878.11 1482.54,1878.70 1484.82,1879.28 1487.10,1879.86 1489.38,1880.43 1491.66,1880.99 1493.94,1881.55 1496.21,1882.10 1498.49,1882.65 1500.77,1883.19 1503.05,1883.73 1505.33,1884.27 1507.61,1884.80 1509.89,1885.32 1512.17,1885.84 1514.45,1886.36 1516.73,1886.87 1519.01,1887.38 1521.29,1887.89 1523.57,1888.39 1525.85,1888.88 1528.13,1889.38 1530.41,1889.87 1532.69,1890.36 1534.97,1890.84 1537.25,1891.32 1539.53,1891.80 1541.81,1892.28 1544.09,1892.75 1546.37,1893.23 1548.65,1893.70 1550.93,1894.16 1553.21,1894.63 1555.48,1895.09 1557.76,1895.56 1560.04,1896.02 1562.32,1896.47 1564.60,1896.93 1566.88,1897.39 1569.16,1897.84 1571.44,1898.30 1573.72,1898.75 1576.00,1899.20 1578.28,1899.65 1580.56,1900.09 1582.84,1900.54 1585.12,1900.98 1587.40,1901.42 1589.68,1901.86 1591.96,1902.30 1594.24,1902.73 1596.52,1903.17 1598.80,1903.60 1601.08,1904.03 1603.36,1904.45 1605.64,1904.88 1607.92,1905.30 1610.20,1905.72 1612.47,1906.13 1614.75,1906.55 1617.03,1906.96 1619.31,1907.37 1621.59,1907.78 1623.87,1908.18 1626.15,1908.58 1628.43,1908.98 1630.71,1909.38 1632.99,1909.77 1635.27,1910.16 1637.55,1910.55 1639.83,1910.93 1642.11,1911.31 1644.39,1911.69 1646.67,1912.06 1648.95,1912.44 1651.23,1912.80 1653.51,1913.17 1655.79,1913.53 1658.07,1913.89 1660.35,1914.25 1662.63,1914.60 1664.91,1914.95 1667.19,1915.29 1669.47,1915.63 1671.74,1915.97 1674.02,1916.31 1676.30,1916.64 1678.58,1916.96 1680.86,1917.29 1683.14,1917.61 1685.42,1917.93 1687.70,1918.24 1689.98,1918.56 1692.26,1918.88 1694.54,1919.19 1696.82,1919.50 1699.10,1919.81 1701.38,1920.12 1703.66,1920.42 1705.94,1920.73 1708.22,1921.03 1710.50,1921.33 1712.78,1921.63 1715.06,1921.93 1717.34,1922.22 1719.62,1922.52 1721.90,1922.81 1724.18,1923.10 1726.46,1923.39 1728.73,1923.67 1731.01,1923.96 1733.29,1924.24 1735.57,1924.52 1737.85,1924.79 1740.13,1925.07 1742.41,1925.34 1744.69,1925.61 1746.97,1925.88 1749.25,1926.14 1751.53,1926.41 1753.81,1926.67 1756.09,1926.93 1758.37,1927.18 1760.65,1927.43 1762.93,1927.69 1765.21,1927.93 1767.49,1928.18 1769.77,1928.42 1772.05,1928.66 1774.33,1928.90 1776.61,1929.14 1778.89,1929.37 1781.17,1929.60 1783.45,1929.82 1785.73,1930.05 1788.00,1930.27 1790.28,1930.49 1792.56,1930.70 1794.84,1930.92 1797.12,1931.12 1799.40,1931.33" fill="none" stroke="#2e5b93" stroke-width="2.45" stroke-linejoin="round" clip-path="url(#cpf)"/>
<g stroke="#000" stroke-width="1.6" fill="none">
<line x1="1117.80" y1="2015.3" x2="1117.80" y2="2020.6"/>
<line x1="1230.35" y1="2015.3" x2="1230.35" y2="2020.6"/>
<line x1="1342.90" y1="2015.3" x2="1342.90" y2="2020.6"/>
<line x1="1455.45" y1="2015.3" x2="1455.45" y2="2020.6"/>
<line x1="1568.00" y1="2015.3" x2="1568.00" y2="2020.6"/>
<line x1="1680.55" y1="2015.3" x2="1680.55" y2="2020.6"/>
<line x1="1793.10" y1="2015.3" x2="1793.10" y2="2020.6"/>
<line x1="1079.8" y1="1944.30" x2="1074.5" y2="1944.30"/>
<line x1="1079.8" y1="1826.40" x2="1074.5" y2="1826.40"/>
<line x1="1079.8" y1="1708.50" x2="1074.5" y2="1708.50"/>
<line x1="1079.8" y1="1590.60" x2="1074.5" y2="1590.60"/>
<line x1="1079.8" y1="1472.70" x2="1074.5" y2="1472.70"/>
<rect x="1079.8" y="1443.8" width="756.9000000000001" height="571.5"/>
</g>
<g font-family="'DejaVu Sans','Liberation Sans',sans-serif" font-size="30.0" fill="#000" stroke="#000" stroke-width="0.3">
<text transform="translate(1117.80,2047.80) scale(1.0,1)" text-anchor="middle">1</text>
<text transform="translate(1230.35,2047.80) scale(1.0,1)" text-anchor="middle">2</text>
<text transform="translate(1342.90,2047.80) scale(1.0,1)" text-anchor="middle">3</text>
<text transform="translate(1455.45,2047.80) scale(1.0,1)" text-anchor="middle">4</text>
<text transform="translate(1568.00,2047.80) scale(1.0,1)" text-anchor="middle">5</text>
<text transform="translate(1680.55,2047.80) scale(1.0,1)" text-anchor="middle">6</text>
<text transform="translate(1793.10,2047.80) scale(1.0,1)" text-anchor="middle">7</text>
<text transform="translate(1069.00,1955.24) scale(1.0,1)" text-anchor="end">0.2</text>
<text transform="translate(1069.00,1837.34) scale(1.0,1)" text-anchor="end">0.4</text>
<text transform="translate(1069.00,1719.43) scale(1.0,1)" text-anchor="end">0.6</text>
<text transform="translate(1069.00,1601.53) scale(1.0,1)" text-anchor="end">0.8</text>
<text transform="translate(1069.00,1483.63) scale(1.0,1)" text-anchor="end">1.0</text>
</g>
<rect x="1304.6" y="1455.6" width="519.0" height="186.6" rx="4.5" fill="#fff" fill-opacity="0.8" stroke="#d2d2d2" stroke-opacity="0.85" stroke-width="1.6"/>
<line x1="1313.3" y1="1475.2" x2="1366.2" y2="1475.2" stroke="#2e5b93" stroke-width="2.1"/>
<text x="1385.7" y="1484.08" font-family="'DejaVu Sans','Liberation Sans',sans-serif" font-size="25.33" stroke="#000" stroke-width="0.3">Theory</text>
<g fill="none" stroke="#973435" stroke-width="1.7"><rect x="1335.40" y="1509.30" width="8.80" height="8.80"/></g>
<text x="1385.7" y="1519.78" font-family="'DejaVu Sans','Liberation Sans',sans-serif" font-size="25.33" stroke="#000" stroke-width="0.3">NIMROD, ramping rate<tspan dx="5.48" dy="-0.40">∼</tspan><tspan dx="4.29" dy="0.40">0.03T/μs</tspan></text>
<g fill="none" stroke="#6e9031" stroke-width="1.7"><circle cx="1339.80" cy="1549.50" r="4.40"/></g>
<text x="1385.7" y="1555.58" font-family="'DejaVu Sans','Liberation Sans',sans-serif" font-size="25.33" stroke="#000" stroke-width="0.3">NIMROD, ramping rate<tspan dx="5.48" dy="-0.40">∼</tspan><tspan dx="4.29" dy="0.40">0.05T/μs</tspan></text>
<g fill="none" stroke="#6a488d" stroke-width="1.7"><path d="M1338.33 1580.90L1341.27 1580.90L1341.27 1583.83L1344.20 1583.83L1344.20 1586.77L1341.27 1586.77L1341.27 1589.70L1338.33 1589.70L1338.33 1586.77L1335.40 1586.77L1335.40 1583.83L1338.33 1583.83Z"/></g>
<text x="1385.7" y="1591.38" font-family="'DejaVu Sans','Liberation Sans',sans-serif" font-size="25.33" stroke="#000" stroke-width="0.3">NIMROD, ramping rate<tspan dx="5.48" dy="-0.40">∼</tspan><tspan dx="4.29" dy="0.40">0.06T/μs</tspan></text>
<g fill="none" stroke="#2b8198" stroke-width="1.7"><path d="M1337.60 1616.70L1339.80 1618.90L1342.00 1616.70L1344.20 1618.90L1342.00 1621.10L1344.20 1623.30L1342.00 1625.50L1339.80 1623.30L1337.60 1625.50L1335.40 1623.30L1337.60 1621.10L1335.40 1618.90Z"/></g>
<text x="1385.7" y="1627.18" font-family="'DejaVu Sans','Liberation Sans',sans-serif" font-size="25.33" stroke="#000" stroke-width="0.3">NIMROD, ramping rate<tspan dx="5.48" dy="-0.40">∼</tspan><tspan dx="4.29" dy="0.40">0.08T/μs</tspan></text>
<text transform="translate(1457.1,2090.2) scale(0.976,1)" text-anchor="middle" font-family="'DejaVu Sans','Liberation Sans',sans-serif" font-size="42.3" stroke="#000" stroke-width="0.3"><tspan font-style="italic" font-size="42.30">B</tspan><tspan font-style="italic" font-size="29.61" dy="6.6" dx="0.4">w</tspan><tspan font-style="normal" font-size="29.61" dx="1.0">2</tspan><tspan font-style="normal" font-size="42.30" dy="-6.6" dx="3.2">/</tspan><tspan font-style="italic" font-size="42.30">B</tspan><tspan font-style="italic" font-size="29.61" dy="6.6" dx="0.6">w</tspan><tspan font-style="normal" font-size="29.61" dx="1.7">1</tspan></text>
<text transform="translate(1006.5,1730.5) rotate(-90)" text-anchor="middle" font-family="'DejaVu Sans','Liberation Sans',sans-serif" font-size="42.3" stroke="#000" stroke-width="0.3"><tspan font-style="italic" font-size="42.30">l</tspan><tspan font-style="normal" font-size="29.61" dy="6.6">2</tspan><tspan font-style="normal" font-size="42.30" dy="-6.6">/</tspan><tspan font-style="italic" font-size="42.30">l</tspan><tspan font-style="normal" font-size="29.61" dy="6.6">1</tspan></text>
<text font-family="'Liberation Sans','DejaVu Sans',sans-serif" font-size="44" fill="#000" stroke="#000" stroke-linejoin="round"><tspan x="971.10" y="1415.81" font-size="41.96" stroke-width="2.40" textLength="7.54" lengthAdjust="spacingAndGlyphs">(</tspan><tspan x="982.85" y="1418.13" font-size="43.73" stroke-width="0.00" textLength="14.76" lengthAdjust="spacingAndGlyphs">f</tspan><tspan x="1002.37" y="1415.81" font-size="41.96" stroke-width="2.40" textLength="7.54" lengthAdjust="spacingAndGlyphs">)</tspan></text>
</svg></body></html>
